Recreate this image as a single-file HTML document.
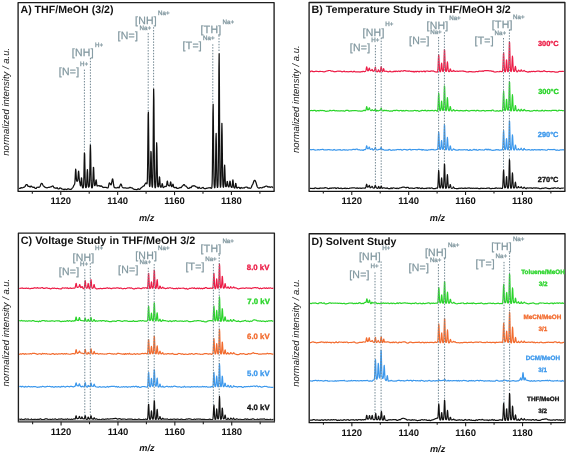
<!DOCTYPE html>
<html><head><meta charset="utf-8"><style>
html,body{margin:0;padding:0;background:#fff;width:567px;height:454px;overflow:hidden}
svg{display:block;text-rendering:geometricPrecision}
</style></head><body>
<svg width="567" height="454" viewBox="0 0 567 454"><path d="M18.1,191.1 L18.1,2.55 L274.1,2.55 L274.1,191.1" fill="none" stroke="#1e1e1e" stroke-width="1.35" stroke-linejoin="round"/>
<line x1="17.5" y1="191.45" x2="274.70000000000005" y2="191.45" stroke="#141414" stroke-width="1.2"/>
<line x1="32.32" y1="191.1" x2="32.32" y2="193.7" stroke="#1e1e1e" stroke-width="1.1"/>
<line x1="60.77" y1="191.1" x2="60.77" y2="195.1" stroke="#1e1e1e" stroke-width="1.1"/>
<text x="60.77" y="204.4" text-anchor="middle" font-family='"Liberation Sans", Arial, sans-serif' font-weight="bold" font-size="9.5" fill="#111">1120</text>
<line x1="89.21" y1="191.1" x2="89.21" y2="193.7" stroke="#1e1e1e" stroke-width="1.1"/>
<line x1="117.66" y1="191.1" x2="117.66" y2="195.1" stroke="#1e1e1e" stroke-width="1.1"/>
<text x="117.66" y="204.4" text-anchor="middle" font-family='"Liberation Sans", Arial, sans-serif' font-weight="bold" font-size="9.5" fill="#111">1140</text>
<line x1="146.10" y1="191.1" x2="146.10" y2="193.7" stroke="#1e1e1e" stroke-width="1.1"/>
<line x1="174.54" y1="191.1" x2="174.54" y2="195.1" stroke="#1e1e1e" stroke-width="1.1"/>
<text x="174.54" y="204.4" text-anchor="middle" font-family='"Liberation Sans", Arial, sans-serif' font-weight="bold" font-size="9.5" fill="#111">1160</text>
<line x1="202.99" y1="191.1" x2="202.99" y2="193.7" stroke="#1e1e1e" stroke-width="1.1"/>
<line x1="231.43" y1="191.1" x2="231.43" y2="195.1" stroke="#1e1e1e" stroke-width="1.1"/>
<text x="231.43" y="204.4" text-anchor="middle" font-family='"Liberation Sans", Arial, sans-serif' font-weight="bold" font-size="9.5" fill="#111">1180</text>
<line x1="259.88" y1="191.1" x2="259.88" y2="193.7" stroke="#1e1e1e" stroke-width="1.1"/>
<text x="146.60" y="220.7" text-anchor="middle" font-family='"Liberation Sans", Arial, sans-serif' font-weight="bold" font-style="italic" font-size="9.2" fill="#111">m/z</text>
<text x="20.50" y="13.45" font-family='"Liberation Sans", Arial, sans-serif' font-weight="bold" font-size="10.6" fill="#111">A) THF/MeOH (3/2)</text>
<text transform="translate(8.6,101.8) rotate(-90)" text-anchor="middle" font-family='"Liberation Sans", Arial, sans-serif' font-style="italic" font-size="9.5" fill="#222">normalized intensity / a.u.</text>
<text x="58.80" y="74.9" font-family='"Liberation Sans", Arial, sans-serif' font-size="10.5" letter-spacing="0.25" fill="#80979f" stroke="#80979f" stroke-width="0.25">[N=]</text>
<text x="80.0" y="65.6" font-family='"Liberation Sans", Arial, sans-serif' font-size="6.2" fill="#80979f" stroke="#80979f" stroke-width="0.3">H+</text>
<text x="71.80" y="56.4" font-family='"Liberation Sans", Arial, sans-serif' font-size="10.5" letter-spacing="0.25" fill="#80979f" stroke="#80979f" stroke-width="0.25">[NH]</text>
<text x="95.0" y="46.9" font-family='"Liberation Sans", Arial, sans-serif' font-size="6.2" fill="#80979f" stroke="#80979f" stroke-width="0.3">H+</text>
<text x="117.60" y="38.9" font-family='"Liberation Sans", Arial, sans-serif' font-size="10.5" letter-spacing="0.25" fill="#80979f" stroke="#80979f" stroke-width="0.25">[N=]</text>
<text x="139.6" y="30.4" font-family='"Liberation Sans", Arial, sans-serif' font-size="6.2" fill="#80979f" stroke="#80979f" stroke-width="0.3">Na+</text>
<text x="135.00" y="24.0" font-family='"Liberation Sans", Arial, sans-serif' font-size="10.5" letter-spacing="0.25" fill="#80979f" stroke="#80979f" stroke-width="0.25">[NH]</text>
<text x="158.1" y="15.0" font-family='"Liberation Sans", Arial, sans-serif' font-size="6.2" fill="#80979f" stroke="#80979f" stroke-width="0.3">Na+</text>
<text x="182.60" y="49.4" font-family='"Liberation Sans", Arial, sans-serif' font-size="10.5" letter-spacing="0.25" fill="#80979f" stroke="#80979f" stroke-width="0.25">[T=]</text>
<text x="203.0" y="39.9" font-family='"Liberation Sans", Arial, sans-serif' font-size="6.2" fill="#80979f" stroke="#80979f" stroke-width="0.3">Na+</text>
<text x="200.60" y="32.7" font-family='"Liberation Sans", Arial, sans-serif' font-size="10.5" letter-spacing="0.25" fill="#80979f" stroke="#80979f" stroke-width="0.25">[TH]</text>
<text x="222.6" y="24.0" font-family='"Liberation Sans", Arial, sans-serif' font-size="6.2" fill="#80979f" stroke="#80979f" stroke-width="0.3">Na+</text>
<polyline fill="none" stroke="#111111" stroke-width="1.25" stroke-linejoin="round" points="18.90,188.35 19.15,188.47 19.40,188.46 19.65,188.43 19.90,188.40 20.15,188.39 20.40,188.24 20.65,187.98 20.90,187.74 21.15,187.65 21.40,187.71 21.65,187.80 21.90,187.88 22.15,187.87 22.40,187.81 22.65,187.72 22.90,187.62 23.15,187.51 23.40,187.45 23.65,187.40 23.90,187.31 24.15,187.13 24.40,186.94 24.65,186.76 24.90,186.57 25.15,186.33 25.40,185.89 25.65,185.34 25.90,184.86 26.15,184.65 26.40,184.58 26.65,184.56 26.90,184.59 27.15,184.70 27.40,185.07 27.65,185.64 27.90,186.17 28.15,186.45 28.40,186.49 28.65,186.42 28.90,186.35 29.15,186.39 29.40,186.55 29.65,186.77 29.90,186.95 30.15,187.02 30.40,186.82 30.65,186.46 30.90,186.14 31.15,186.06 31.40,186.22 31.65,186.48 31.90,186.72 32.15,186.83 32.40,186.97 32.65,187.16 32.90,187.35 33.15,187.45 33.40,187.37 33.65,187.20 33.90,187.04 34.15,187.05 34.40,187.33 34.65,187.75 34.90,188.14 35.15,188.30 35.40,188.34 35.65,188.37 35.90,188.39 36.15,188.41 36.40,188.19 36.65,187.77 36.90,187.40 37.15,187.28 37.40,187.27 37.65,187.25 37.90,187.21 38.15,187.16 38.40,187.22 38.65,187.35 38.90,187.40 39.15,187.24 39.40,187.05 39.65,186.88 39.90,186.63 40.15,186.21 40.40,185.56 40.65,184.81 40.90,184.14 41.15,183.73 41.40,183.48 41.65,183.34 41.90,183.36 42.15,183.57 42.40,183.98 42.65,184.50 42.90,185.06 43.15,185.56 43.40,185.89 43.65,186.08 43.90,186.24 44.15,186.45 44.40,186.71 44.65,186.97 44.90,187.16 45.15,187.27 45.40,187.39 45.65,187.54 45.90,187.66 46.15,187.71 46.40,187.74 46.65,187.78 46.90,187.81 47.15,187.82 47.40,187.75 47.65,187.61 47.90,187.49 48.15,187.44 48.40,187.43 48.65,187.41 48.90,187.38 49.15,187.34 49.40,187.28 49.65,187.21 49.90,187.13 50.15,187.03 50.40,186.99 50.65,186.98 50.90,186.96 51.15,186.85 51.40,186.68 51.65,186.48 51.90,186.32 52.15,186.24 52.40,186.14 52.65,186.04 52.90,185.98 53.15,186.05 53.40,186.42 53.65,186.99 53.90,187.52 54.15,187.80 54.40,187.87 54.65,187.88 54.90,187.88 55.15,187.95 55.40,188.06 55.65,188.17 55.90,188.26 56.15,188.30 56.40,188.19 56.65,187.98 56.90,187.78 57.15,187.73 57.40,187.97 57.65,188.38 57.90,188.75 58.15,188.87 58.40,188.85 58.65,188.79 58.90,188.75 59.15,188.75 59.40,188.56 59.65,188.22 59.90,187.92 60.15,187.86 60.40,187.96 60.65,188.11 60.90,188.25 61.15,188.34 61.40,188.50 61.65,188.75 61.90,188.97 62.15,189.08 62.40,189.12 62.65,189.16 62.90,189.20 63.15,189.24 63.40,189.34 63.65,189.49 63.90,189.62 64.15,189.67 64.40,189.54 64.65,189.29 64.90,189.07 65.15,189.01 65.40,189.13 65.65,189.33 65.90,189.51 66.15,189.56 66.40,189.51 66.65,189.42 66.90,189.33 67.15,189.30 67.40,189.18 67.65,188.98 67.90,188.80 68.15,188.74 68.40,188.82 68.65,188.95 68.90,189.07 69.15,189.11 69.40,189.18 69.65,189.33 69.90,189.45 70.15,189.48 70.40,189.46 70.65,189.42 70.90,189.37 71.15,189.31 71.40,189.12 71.65,188.82 71.90,188.49 72.15,188.20 72.40,187.93 72.65,187.63 72.90,187.29 73.15,186.92 73.40,186.40 73.65,185.80 73.90,185.25 74.15,184.90 74.40,184.61 74.65,184.03 74.90,182.27 75.15,178.25 75.40,172.67 75.65,169.04 75.90,170.37 76.15,175.05 76.40,179.08 76.65,180.84 76.90,181.19 77.15,181.20 77.40,181.12 77.65,180.65 77.90,179.02 78.15,175.68 78.40,172.05 78.65,171.21 78.90,174.09 79.15,177.99 79.40,180.43 79.65,181.62 79.90,182.77 80.15,184.26 80.40,185.57 80.65,185.84 80.90,184.19 81.15,180.78 81.40,177.86 81.65,178.20 81.90,181.55 82.15,185.11 82.40,187.11 82.65,187.81 82.90,187.96 83.15,187.86 83.40,187.14 83.65,184.18 83.90,176.18 84.15,163.19 84.40,152.80 84.65,154.25 84.90,166.16 85.15,178.49 85.40,185.19 85.65,187.34 85.90,187.69 86.15,187.58 86.40,186.88 86.65,184.49 86.90,179.29 87.15,172.70 87.40,169.53 87.65,172.77 87.90,179.38 88.15,184.52 88.40,186.70 88.65,187.12 88.90,186.99 89.15,186.65 89.40,185.11 89.65,179.65 89.90,167.54 90.15,152.06 90.40,144.71 90.65,152.53 90.90,168.25 91.15,180.40 91.40,185.87 91.65,187.50 91.90,187.83 92.15,187.77 92.40,187.18 92.65,185.26 92.90,180.57 93.15,173.23 93.40,167.30 93.65,167.84 93.90,174.19 94.15,180.87 94.40,184.47 94.65,185.52 94.90,185.54 95.15,185.18 95.40,184.28 95.65,182.53 95.90,180.56 96.15,179.90 96.40,181.36 96.65,183.67 96.90,185.31 97.15,185.94 97.40,186.01 97.65,185.92 97.90,185.83 98.15,185.80 98.40,185.75 98.65,185.67 98.90,185.60 99.15,185.62 99.40,185.77 99.65,185.99 99.90,186.21 100.15,186.32 100.40,186.22 100.65,185.99 100.90,185.79 101.15,185.79 101.40,185.97 101.65,186.20 101.90,186.42 102.15,186.56 102.40,186.78 102.65,187.09 102.90,187.37 103.15,187.52 103.40,187.49 103.65,187.39 103.90,187.30 104.15,187.32 104.40,187.36 104.65,187.37 104.90,187.38 105.15,187.42 105.40,187.43 105.65,187.39 105.90,187.35 106.15,187.37 106.40,187.49 106.65,187.65 106.90,187.78 107.15,187.81 107.40,187.87 107.65,187.95 107.90,187.90 108.15,187.56 108.40,186.72 108.65,185.51 108.90,184.27 109.15,183.35 109.40,182.96 109.65,183.03 109.90,183.39 110.15,183.79 110.40,184.22 110.65,184.64 110.90,184.85 111.15,184.71 111.40,184.10 111.65,183.01 111.90,181.56 112.15,180.11 112.40,179.09 112.65,178.92 112.90,179.74 113.15,181.33 113.40,183.23 113.65,184.99 113.90,186.32 114.15,187.18 114.40,187.58 114.65,187.69 114.90,187.69 115.15,187.73 115.40,187.78 115.65,187.84 115.90,187.89 116.15,187.91 116.40,187.89 116.65,187.84 116.90,187.79 117.15,187.78 117.40,187.68 117.65,187.49 117.90,187.31 118.15,187.24 118.40,187.42 118.65,187.73 118.90,187.91 119.15,187.75 119.40,187.26 119.65,186.60 119.90,185.89 120.15,185.26 120.40,184.67 120.65,184.20 120.90,184.01 121.15,184.19 121.40,184.73 121.65,185.44 121.90,186.17 122.15,186.74 122.40,187.16 122.65,187.46 122.90,187.66 123.15,187.78 123.40,187.81 123.65,187.79 123.90,187.76 124.15,187.76 124.40,187.77 124.65,187.77 124.90,187.77 125.15,187.78 125.40,187.84 125.65,187.93 125.90,188.02 126.15,188.04 126.40,188.06 126.65,188.10 126.90,188.13 127.15,188.13 127.40,188.12 127.65,188.10 127.90,188.09 128.15,188.08 128.40,188.03 128.65,187.96 128.90,187.89 129.15,187.87 129.40,187.76 129.65,187.56 129.90,187.38 130.15,187.35 130.40,187.44 130.65,187.58 130.90,187.71 131.15,187.78 131.40,187.82 131.65,187.85 131.90,187.88 132.15,187.93 132.40,188.11 132.65,188.38 132.90,188.63 133.15,188.75 133.40,188.89 133.65,189.09 133.90,189.27 134.15,189.37 134.40,189.40 134.65,189.41 134.90,189.42 135.15,189.45 135.40,189.48 135.65,189.50 135.90,189.52 136.15,189.54 136.40,189.55 136.65,189.57 136.90,189.58 137.15,189.57 137.40,189.40 137.65,189.11 137.90,188.84 138.15,188.75 138.40,188.89 138.65,189.16 138.90,189.40 139.15,189.44 139.40,189.35 139.65,189.22 139.90,189.08 140.15,188.99 140.40,188.74 140.65,188.35 140.90,187.98 141.15,187.77 141.40,187.62 141.65,187.43 141.90,187.23 142.15,187.03 142.40,186.82 142.65,186.59 142.90,186.34 143.15,186.08 143.40,186.02 143.65,186.09 143.90,186.10 144.15,185.87 144.40,185.39 144.65,184.80 144.90,184.24 145.15,183.86 145.40,183.55 145.65,183.26 145.90,183.05 146.15,182.96 146.40,183.11 146.65,183.46 146.90,183.72 147.15,183.00 147.40,178.43 147.65,164.44 147.90,138.98 148.15,114.66 148.40,112.16 148.65,134.17 148.90,161.47 149.15,178.41 149.40,184.88 149.65,186.50 149.90,186.21 150.15,183.31 150.40,175.24 150.65,162.04 150.90,151.45 151.15,152.95 151.40,165.17 151.65,177.82 151.90,184.74 152.15,187.05 152.40,187.16 152.65,184.61 152.90,174.32 153.15,149.01 153.40,112.50 153.65,88.96 153.90,100.11 154.15,135.29 154.40,166.67 154.65,182.19 154.90,186.89 155.15,187.77 155.40,187.62 155.65,186.32 155.90,181.54 156.15,170.03 156.40,153.45 156.65,142.75 156.90,147.77 157.15,163.68 157.40,177.80 157.65,184.65 157.90,186.63 158.15,186.96 158.40,186.91 158.65,186.19 158.90,183.93 159.15,180.04 159.40,176.89 159.65,177.31 159.90,180.90 160.15,184.63 160.40,186.61 160.65,187.18 160.90,187.21 161.15,187.12 161.40,186.86 161.65,186.13 161.90,184.87 162.15,183.69 162.40,183.74 162.65,185.10 162.90,186.65 163.15,187.47 163.40,187.57 163.65,187.38 163.90,187.14 164.15,187.01 164.40,186.84 164.65,186.61 164.90,186.40 165.15,186.28 165.40,186.33 165.65,186.46 165.90,186.56 166.15,186.49 166.40,186.15 166.65,185.18 166.90,183.38 167.15,181.59 167.40,181.14 167.65,182.32 167.90,183.93 168.15,185.04 168.40,185.52 168.65,185.66 168.90,185.72 169.15,185.77 169.40,185.84 169.65,185.83 169.90,185.44 170.15,184.26 170.40,182.67 170.65,181.84 170.90,182.71 171.15,184.61 171.40,186.08 171.65,186.63 171.90,186.61 172.15,186.35 172.40,185.79 172.65,184.86 172.90,184.14 173.15,184.38 173.40,185.55 173.65,186.76 173.90,187.43 174.15,187.68 174.40,187.71 174.65,187.68 174.90,187.64 175.15,187.65 175.40,187.58 175.65,187.44 175.90,187.33 176.15,187.31 176.40,187.56 176.65,187.97 176.90,188.34 177.15,188.47 177.40,188.44 177.65,188.38 177.90,188.32 178.15,188.31 178.40,188.25 178.65,188.12 178.90,188.00 179.15,187.95 179.40,187.86 179.65,187.69 179.90,187.53 180.15,187.44 180.40,187.49 180.65,187.61 180.90,187.67 181.15,187.56 181.40,187.28 181.65,186.91 181.90,186.52 182.15,186.19 182.40,185.92 182.65,185.70 182.90,185.49 183.15,185.26 183.40,184.98 183.65,184.73 183.90,184.57 184.15,184.58 184.40,184.79 184.65,185.14 184.90,185.53 185.15,185.86 185.40,186.00 185.65,186.02 185.90,186.06 186.15,186.24 186.40,186.55 186.65,186.86 186.90,187.13 187.15,187.30 187.40,187.59 187.65,187.99 187.90,188.33 188.15,188.46 188.40,188.44 188.65,188.40 188.90,188.35 189.15,188.32 189.40,188.13 189.65,187.81 189.90,187.50 190.15,187.36 190.40,187.44 190.65,187.61 190.90,187.73 191.15,187.64 191.40,187.29 191.65,186.80 191.90,186.32 192.15,186.00 192.40,185.94 192.65,186.02 192.90,186.10 193.15,186.03 193.40,185.88 193.65,185.74 193.90,185.69 194.15,185.77 194.40,185.84 194.65,185.89 194.90,185.99 195.15,186.21 195.40,186.43 195.65,186.60 195.90,186.76 196.15,186.94 196.40,187.04 196.65,187.05 196.90,187.04 197.15,187.09 197.40,187.40 197.65,187.87 197.90,188.28 198.15,188.40 198.40,188.15 198.65,187.72 198.90,187.32 199.15,187.19 199.40,187.41 199.65,187.78 199.90,188.12 200.15,188.22 200.40,188.25 200.65,188.32 200.90,188.38 201.15,188.39 201.40,188.28 201.65,188.09 201.90,187.92 202.15,187.88 202.40,187.78 202.65,187.60 202.90,187.44 203.15,187.42 203.40,187.65 203.65,188.03 203.90,188.37 204.15,188.50 204.40,188.56 204.65,188.64 204.90,188.71 205.15,188.75 205.40,188.69 205.65,188.57 205.90,188.47 206.15,188.44 206.40,188.39 206.65,188.30 206.90,188.21 207.15,188.18 207.40,188.14 207.65,188.07 207.90,188.00 208.15,187.97 208.40,187.95 208.65,187.93 208.90,187.90 209.15,187.88 209.40,187.83 209.65,187.75 209.90,187.68 210.15,187.66 210.40,187.79 210.65,188.02 210.90,188.22 211.15,188.28 211.40,188.20 211.65,187.97 211.90,187.05 212.15,182.94 212.40,169.70 212.65,143.14 212.90,113.51 213.15,104.25 213.40,124.16 213.65,154.87 213.90,176.09 214.15,184.76 214.40,187.16 214.65,187.73 214.90,187.48 215.15,184.90 215.40,176.23 215.65,158.86 215.90,139.52 216.15,133.46 216.40,146.43 216.65,166.47 216.90,180.34 217.15,185.98 217.40,187.35 217.65,187.32 217.90,185.93 218.15,179.33 218.40,158.25 218.65,115.86 218.90,68.49 219.15,53.70 219.40,85.87 219.65,135.52 219.90,169.86 220.15,183.87 220.40,187.21 220.65,186.96 220.90,184.32 221.15,175.98 221.40,157.78 221.65,134.53 221.90,123.26 222.15,134.64 222.40,158.01 222.65,176.33 222.90,184.58 223.15,186.88 223.40,187.24 223.65,186.47 223.90,183.11 224.15,175.91 224.40,167.71 224.65,165.02 224.90,170.31 225.15,178.63 225.40,184.25 225.65,186.33 225.90,186.66 226.15,186.56 226.40,186.15 226.65,185.09 226.90,183.28 227.15,181.59 227.40,181.50 227.65,183.14 227.90,185.11 228.15,186.28 228.40,186.73 228.65,186.91 228.90,186.90 229.15,186.43 229.40,185.07 229.65,182.85 229.90,181.08 230.15,181.40 230.40,183.41 230.65,185.40 230.90,186.43 231.15,186.83 231.40,187.15 231.65,187.45 231.90,187.47 232.15,186.58 232.40,184.30 232.65,181.34 232.90,179.88 233.15,181.31 233.40,184.21 233.65,186.42 233.90,187.38 234.15,187.67 234.40,187.87 234.65,188.02 234.90,187.79 235.15,186.73 235.40,184.87 235.65,183.43 235.90,183.59 236.15,185.07 236.40,186.64 236.65,187.60 236.90,188.04 237.15,188.16 237.40,187.99 237.65,187.67 237.90,187.40 238.15,187.31 238.40,187.35 238.65,187.40 238.90,187.45 239.15,187.48 239.40,187.70 239.65,188.07 239.90,188.41 240.15,188.51 240.40,188.30 240.65,187.94 240.90,187.61 241.15,187.50 241.40,187.64 241.65,187.90 241.90,188.12 242.15,188.17 242.40,188.09 242.65,187.98 242.90,187.87 243.15,187.82 243.40,187.86 243.65,187.94 243.90,188.02 244.15,188.02 244.40,187.86 244.65,187.59 244.90,187.36 245.15,187.28 245.40,187.25 245.65,187.23 245.90,187.22 246.15,187.21 246.40,187.21 246.65,187.19 246.90,187.19 247.15,187.20 247.40,187.39 247.65,187.71 247.90,187.99 248.15,188.10 248.40,188.05 248.65,187.95 248.90,187.85 249.15,187.84 249.40,187.96 249.65,188.13 249.90,188.28 250.15,188.30 250.40,188.22 250.65,188.10 250.90,187.93 251.15,187.72 251.40,187.25 251.65,186.54 251.90,185.80 252.15,185.22 252.40,184.79 252.65,184.38 252.90,183.92 253.15,183.31 253.40,182.54 253.65,181.72 253.90,181.03 254.15,180.59 254.40,180.36 254.65,180.28 254.90,180.37 255.15,180.64 255.40,181.07 255.65,181.63 255.90,182.26 256.15,182.93 256.40,183.83 256.65,184.87 256.90,185.82 257.15,186.47 257.40,186.90 257.65,187.23 257.90,187.50 258.15,187.72 258.40,187.90 258.65,188.05 258.90,188.14 259.15,188.19 259.40,188.08 259.65,187.84 259.90,187.61 260.15,187.53 260.40,187.58 260.65,187.69 260.90,187.78 261.15,187.78 261.40,187.79 261.65,187.83 261.90,187.86 262.15,187.84 262.40,187.68 262.65,187.43 262.90,187.20 263.15,187.09 263.40,187.10 263.65,187.14 263.90,187.18 264.15,187.16 264.40,187.00 264.65,186.78 264.90,186.58 265.15,186.48 265.40,186.39 265.65,186.27 265.90,186.17 266.15,186.11 266.40,186.13 266.65,186.19 266.90,186.25 267.15,186.26 267.40,186.42 267.65,186.73 267.90,187.00 268.15,187.09 268.40,187.01 268.65,186.86 268.90,186.73 269.15,186.71 269.40,186.85 269.65,187.07 269.90,187.27 270.15,187.36 270.40,187.28 270.65,187.09 270.90,186.93 271.15,186.92 271.40,186.92 271.65,186.88 271.90,186.85 272.15,186.88 272.40,187.08 272.65,187.39 272.90,187.66 273.15,187.78"/>
<path d="M309.1,191.0 L309.1,2.5 L564.9,2.5 L564.9,191.0" fill="none" stroke="#1e1e1e" stroke-width="1.35" stroke-linejoin="round"/>
<line x1="308.5" y1="191.35" x2="565.5" y2="191.35" stroke="#141414" stroke-width="1.2"/>
<line x1="323.32" y1="191.0" x2="323.32" y2="193.6" stroke="#1e1e1e" stroke-width="1.1"/>
<line x1="351.77" y1="191.0" x2="351.77" y2="195.0" stroke="#1e1e1e" stroke-width="1.1"/>
<text x="351.77" y="204.3" text-anchor="middle" font-family='"Liberation Sans", Arial, sans-serif' font-weight="bold" font-size="9.5" fill="#111">1120</text>
<line x1="380.21" y1="191.0" x2="380.21" y2="193.6" stroke="#1e1e1e" stroke-width="1.1"/>
<line x1="408.66" y1="191.0" x2="408.66" y2="195.0" stroke="#1e1e1e" stroke-width="1.1"/>
<text x="408.66" y="204.3" text-anchor="middle" font-family='"Liberation Sans", Arial, sans-serif' font-weight="bold" font-size="9.5" fill="#111">1140</text>
<line x1="437.10" y1="191.0" x2="437.10" y2="193.6" stroke="#1e1e1e" stroke-width="1.1"/>
<line x1="465.54" y1="191.0" x2="465.54" y2="195.0" stroke="#1e1e1e" stroke-width="1.1"/>
<text x="465.54" y="204.3" text-anchor="middle" font-family='"Liberation Sans", Arial, sans-serif' font-weight="bold" font-size="9.5" fill="#111">1160</text>
<line x1="493.99" y1="191.0" x2="493.99" y2="193.6" stroke="#1e1e1e" stroke-width="1.1"/>
<line x1="522.43" y1="191.0" x2="522.43" y2="195.0" stroke="#1e1e1e" stroke-width="1.1"/>
<text x="522.43" y="204.3" text-anchor="middle" font-family='"Liberation Sans", Arial, sans-serif' font-weight="bold" font-size="9.5" fill="#111">1180</text>
<line x1="550.88" y1="191.0" x2="550.88" y2="193.6" stroke="#1e1e1e" stroke-width="1.1"/>
<text x="437.50" y="220.6" text-anchor="middle" font-family='"Liberation Sans", Arial, sans-serif' font-weight="bold" font-style="italic" font-size="9.2" fill="#111">m/z</text>
<text x="311.50" y="13.40" font-family='"Liberation Sans", Arial, sans-serif' font-weight="bold" font-size="10.72" fill="#111">B) Temperature Study in THF/MeOH 3/2</text>
<text transform="translate(299.3,99.2) rotate(-90)" text-anchor="middle" font-family='"Liberation Sans", Arial, sans-serif' font-style="italic" font-size="9.5" fill="#222">normalized intensity / a.u.</text>
<text x="349.80" y="51.0" font-family='"Liberation Sans", Arial, sans-serif' font-size="10.5" letter-spacing="0.25" fill="#80979f" stroke="#80979f" stroke-width="0.25">[N=]</text>
<text x="371.2" y="41.5" font-family='"Liberation Sans", Arial, sans-serif' font-size="6.2" fill="#80979f" stroke="#80979f" stroke-width="0.3">H+</text>
<text x="362.60" y="36.0" font-family='"Liberation Sans", Arial, sans-serif' font-size="10.5" letter-spacing="0.25" fill="#80979f" stroke="#80979f" stroke-width="0.25">[NH]</text>
<text x="385.3" y="26.4" font-family='"Liberation Sans", Arial, sans-serif' font-size="6.2" fill="#80979f" stroke="#80979f" stroke-width="0.3">H+</text>
<text x="409.10" y="43.7" font-family='"Liberation Sans", Arial, sans-serif' font-size="10.5" letter-spacing="0.25" fill="#80979f" stroke="#80979f" stroke-width="0.25">[N=]</text>
<text x="430.2" y="34.3" font-family='"Liberation Sans", Arial, sans-serif' font-size="6.2" fill="#80979f" stroke="#80979f" stroke-width="0.3">Na+</text>
<text x="426.50" y="29.0" font-family='"Liberation Sans", Arial, sans-serif' font-size="10.5" letter-spacing="0.25" fill="#80979f" stroke="#80979f" stroke-width="0.25">[NH]</text>
<text x="449.2" y="20.0" font-family='"Liberation Sans", Arial, sans-serif' font-size="6.2" fill="#80979f" stroke="#80979f" stroke-width="0.3">Na+</text>
<text x="474.50" y="43.9" font-family='"Liberation Sans", Arial, sans-serif' font-size="10.5" letter-spacing="0.25" fill="#80979f" stroke="#80979f" stroke-width="0.25">[T=]</text>
<text x="494.6" y="34.9" font-family='"Liberation Sans", Arial, sans-serif' font-size="6.2" fill="#80979f" stroke="#80979f" stroke-width="0.3">Na+</text>
<text x="491.80" y="27.5" font-family='"Liberation Sans", Arial, sans-serif' font-size="10.5" letter-spacing="0.25" fill="#80979f" stroke="#80979f" stroke-width="0.25">[TH]</text>
<text x="513.1" y="18.5" font-family='"Liberation Sans", Arial, sans-serif' font-size="6.2" fill="#80979f" stroke="#80979f" stroke-width="0.3">Na+</text>
<polyline fill="none" stroke="#ec1c46" stroke-width="1.2" stroke-linejoin="round" points="309.90,71.87 310.15,71.87 310.40,71.70 310.65,71.42 310.90,71.16 311.15,71.07 311.40,71.07 311.65,71.08 311.90,71.08 312.15,71.08 312.40,71.21 312.65,71.44 312.90,71.65 313.15,71.71 313.40,71.68 313.65,71.64 313.90,71.60 314.15,71.58 314.40,71.56 314.65,71.53 314.90,71.50 315.15,71.49 315.40,71.42 315.65,71.30 315.90,71.20 316.15,71.17 316.40,71.23 316.65,71.33 316.90,71.42 317.15,71.46 317.40,71.47 317.65,71.49 317.90,71.50 318.15,71.52 318.40,71.53 318.65,71.54 318.90,71.55 319.15,71.56 319.40,71.50 319.65,71.37 319.90,71.27 320.15,71.24 320.40,71.30 320.65,71.40 320.90,71.49 321.15,71.51 321.40,71.51 321.65,71.50 321.90,71.48 322.15,71.47 322.40,71.53 322.65,71.62 322.90,71.70 323.15,71.71 323.40,71.74 323.65,71.80 323.90,71.85 324.15,71.85 324.40,71.81 324.65,71.76 324.90,71.71 325.15,71.67 325.40,71.56 325.65,71.39 325.90,71.23 326.15,71.16 326.40,71.11 326.65,71.04 326.90,70.98 327.15,70.94 327.40,70.88 327.65,70.80 327.90,70.73 328.15,70.70 328.40,70.65 328.65,70.57 328.90,70.50 329.15,70.49 329.40,70.49 329.65,70.51 329.90,70.52 330.15,70.55 330.40,70.65 330.65,70.82 330.90,70.98 331.15,71.05 331.40,71.06 331.65,71.05 331.90,71.04 332.15,71.06 332.40,71.11 332.65,71.16 332.90,71.21 333.15,71.25 333.40,71.37 333.65,71.56 333.90,71.73 334.15,71.79 334.40,71.74 334.65,71.64 334.90,71.55 335.15,71.52 335.40,71.54 335.65,71.55 335.90,71.57 336.15,71.57 336.40,71.51 336.65,71.41 336.90,71.31 337.15,71.27 337.40,71.23 337.65,71.16 337.90,71.09 338.15,71.07 338.40,71.12 338.65,71.21 338.90,71.29 339.15,71.31 339.40,71.26 339.65,71.19 339.90,71.13 340.15,71.11 340.40,71.17 340.65,71.29 340.90,71.39 341.15,71.42 341.40,71.51 341.65,71.66 341.90,71.80 342.15,71.84 342.40,71.78 342.65,71.68 342.90,71.58 343.15,71.55 343.40,71.46 343.65,71.31 343.90,71.17 344.15,71.13 344.40,71.27 344.65,71.50 344.90,71.71 345.15,71.79 345.40,71.77 345.65,71.75 345.90,71.72 346.15,71.72 346.40,71.71 346.65,71.69 346.90,71.68 347.15,71.67 347.40,71.71 347.65,71.76 347.90,71.81 348.15,71.82 348.40,71.79 348.65,71.74 348.90,71.69 349.15,71.67 349.40,71.67 349.65,71.67 349.90,71.67 350.15,71.66 350.40,71.57 350.65,71.42 350.90,71.29 351.15,71.25 351.40,71.37 351.65,71.57 351.90,71.75 352.15,71.81 352.40,71.82 352.65,71.82 352.90,71.82 353.15,71.83 353.40,71.70 353.65,71.46 353.90,71.25 354.15,71.20 354.40,71.33 354.65,71.55 354.90,71.75 355.15,71.83 355.40,71.85 355.65,71.87 355.90,71.89 356.15,71.91 356.40,71.89 356.65,71.83 356.90,71.78 357.15,71.78 357.40,71.80 357.65,71.84 357.90,71.87 358.15,71.88 358.40,71.88 358.65,71.86 358.90,71.84 359.15,71.83 359.40,71.90 359.65,72.02 359.90,72.12 360.15,72.14 360.40,72.03 360.65,71.86 360.90,71.71 361.15,71.64 361.40,71.66 361.65,71.74 361.90,71.80 362.15,71.79 362.40,71.66 362.65,71.48 362.90,71.31 363.15,71.24 363.40,71.31 363.65,71.45 363.90,71.58 364.15,71.60 364.40,71.58 364.65,71.55 364.90,71.53 365.15,71.49 365.40,71.36 365.65,71.07 365.90,70.49 366.15,69.39 366.40,67.89 366.65,66.92 366.90,67.33 367.15,68.69 367.40,69.96 367.65,70.64 367.90,70.88 368.15,70.87 368.40,70.64 368.65,70.07 368.90,69.12 369.15,68.25 369.40,68.12 369.65,68.82 369.90,69.72 370.15,70.31 370.40,70.53 370.65,70.56 370.90,70.53 371.15,70.50 371.40,70.35 371.65,69.97 371.90,69.52 372.15,69.42 372.40,69.88 372.65,70.59 372.90,71.11 373.15,71.32 373.40,71.28 373.65,71.13 373.90,70.98 374.15,70.89 374.40,70.77 374.65,70.22 374.90,68.99 375.15,67.67 375.40,67.41 375.65,68.46 375.90,69.84 376.15,70.75 376.40,71.25 376.65,71.57 376.90,71.80 377.15,71.88 377.40,71.78 377.65,71.52 377.90,71.06 378.15,70.40 378.40,69.85 378.65,69.86 378.90,70.54 379.15,71.35 379.40,71.83 379.65,71.96 379.90,71.93 380.15,71.78 380.40,71.19 380.65,69.78 380.90,67.78 381.15,66.49 381.40,67.07 381.65,68.92 381.90,70.58 382.15,71.39 382.40,71.62 382.65,71.55 382.90,71.10 383.15,70.15 383.40,69.06 383.65,68.69 383.90,69.36 384.15,70.44 384.40,71.13 384.65,71.33 384.90,71.32 385.15,71.29 385.40,71.27 385.65,71.23 385.90,71.19 386.15,71.18 386.40,71.24 386.65,71.34 386.90,71.43 387.15,71.46 387.40,71.55 387.65,71.69 387.90,71.82 388.15,71.87 388.40,71.82 388.65,71.73 388.90,71.65 389.15,71.62 389.40,71.53 389.65,71.36 389.90,71.20 390.15,71.16 390.40,71.30 390.65,71.54 390.90,71.75 391.15,71.82 391.40,71.80 391.65,71.76 391.90,71.73 392.15,71.71 392.40,71.74 392.65,71.79 392.90,71.83 393.15,71.84 393.40,71.69 393.65,71.45 393.90,71.24 394.15,71.17 394.40,71.26 394.65,71.44 394.90,71.59 395.15,71.64 395.40,71.51 395.65,71.28 395.90,71.08 396.15,71.02 396.40,71.13 396.65,71.33 396.90,71.50 397.15,71.55 397.40,71.48 397.65,71.36 397.90,71.24 398.15,71.20 398.40,71.18 398.65,71.16 398.90,71.13 399.15,71.12 399.40,71.22 399.65,71.41 399.90,71.58 400.15,71.60 400.40,71.43 400.65,71.15 400.90,70.89 401.15,70.79 401.40,70.83 401.65,70.92 401.90,71.01 402.15,71.01 402.40,71.04 402.65,71.11 402.90,71.17 403.15,71.17 403.40,71.03 403.65,70.82 403.90,70.62 404.15,70.56 404.40,70.54 404.65,70.53 404.90,70.53 405.15,70.54 405.40,70.68 405.65,70.92 405.90,71.13 406.15,71.22 406.40,71.17 406.65,71.05 406.90,70.96 407.15,70.95 407.40,71.05 407.65,71.18 407.90,71.31 408.15,71.37 408.40,71.28 408.65,71.10 408.90,70.94 409.15,70.91 409.40,71.00 409.65,71.14 409.90,71.27 410.15,71.33 410.40,71.32 410.65,71.28 410.90,71.25 411.15,71.25 411.40,71.36 411.65,71.54 411.90,71.70 412.15,71.76 412.40,71.66 412.65,71.48 412.90,71.32 413.15,71.28 413.40,71.45 413.65,71.74 413.90,72.00 414.15,72.08 414.40,71.90 414.65,71.61 414.90,71.34 415.15,71.26 415.40,71.39 415.65,71.62 415.90,71.82 416.15,71.88 416.40,71.74 416.65,71.51 416.90,71.30 417.15,71.23 417.40,71.26 417.65,71.33 417.90,71.39 418.15,71.41 418.40,71.50 418.65,71.67 418.90,71.82 419.15,71.86 419.40,71.73 419.65,71.51 419.90,71.31 420.15,71.23 420.40,71.23 420.65,71.23 420.90,71.23 421.15,71.22 421.40,71.31 421.65,71.47 421.90,71.61 422.15,71.65 422.40,71.58 422.65,71.48 422.90,71.39 423.15,71.35 423.40,71.28 423.65,71.17 423.90,71.07 424.15,71.04 424.40,71.21 424.65,71.52 424.90,71.79 425.15,71.87 425.40,71.71 425.65,71.43 425.90,71.18 426.15,71.10 426.40,71.07 426.65,71.03 426.90,70.98 427.15,70.97 427.40,71.01 427.65,71.10 427.90,71.18 428.15,71.20 428.40,71.24 428.65,71.31 428.90,71.38 429.15,71.39 429.40,71.40 429.65,71.43 429.90,71.46 430.15,71.46 430.40,71.34 430.65,71.13 430.90,70.95 431.15,70.89 431.40,70.93 431.65,71.01 431.90,71.09 432.15,71.12 432.40,71.07 432.65,70.99 432.90,70.93 433.15,70.92 433.40,71.03 433.65,71.19 433.90,71.34 434.15,71.41 434.40,71.50 434.65,71.63 434.90,71.76 435.15,71.82 435.40,71.84 435.65,71.87 435.90,71.89 436.15,71.91 436.40,71.96 436.65,72.03 436.90,72.10 437.15,72.12 437.40,72.02 437.65,71.51 437.90,69.66 438.15,65.21 438.40,58.82 438.65,54.69 438.90,56.63 439.15,62.77 439.40,68.23 439.65,70.90 439.90,71.68 440.15,71.80 440.40,71.67 440.65,71.17 440.90,69.76 441.15,67.07 441.40,64.05 441.65,63.02 441.90,64.93 442.15,67.97 442.40,70.16 442.65,71.16 442.90,71.49 443.15,71.50 443.40,71.00 443.65,69.06 443.90,64.04 444.15,56.01 444.40,49.54 444.65,50.32 444.90,57.57 445.15,65.17 445.40,69.45 445.65,71.01 445.90,71.43 446.15,71.46 446.40,71.20 446.65,70.08 446.90,67.36 447.15,63.77 447.40,61.86 447.65,63.41 447.90,66.85 448.15,69.64 448.40,71.01 448.65,71.52 448.90,71.70 449.15,71.71 449.40,71.49 449.65,70.93 449.90,69.97 450.15,69.09 450.40,68.99 450.65,69.75 450.90,70.69 451.15,71.24 451.40,71.36 451.65,71.26 451.90,71.13 452.15,71.08 452.40,71.19 452.65,71.35 452.90,71.34 453.15,71.04 453.40,70.61 453.65,70.41 453.90,70.53 454.15,70.80 454.40,71.05 454.65,71.23 454.90,71.35 455.15,71.39 455.40,71.37 455.65,71.32 455.90,71.28 456.15,71.27 456.40,71.22 456.65,71.10 456.90,71.00 457.15,70.99 457.40,71.11 457.65,71.29 457.90,71.46 458.15,71.52 458.40,71.45 458.65,71.33 458.90,71.21 459.15,71.17 459.40,71.16 459.65,71.13 459.90,71.10 460.15,71.08 460.40,71.07 460.65,71.05 460.90,71.03 461.15,71.01 461.40,71.02 461.65,71.05 461.90,71.07 462.15,71.06 462.40,71.04 462.65,71.00 462.90,70.97 463.15,70.96 463.40,71.05 463.65,71.22 463.90,71.38 464.15,71.43 464.40,71.41 464.65,71.37 464.90,71.34 465.15,71.35 465.40,71.45 465.65,71.62 465.90,71.78 466.15,71.84 466.40,71.86 466.65,71.87 466.90,71.88 467.15,71.90 467.40,71.94 467.65,71.98 467.90,72.03 468.15,72.05 468.40,71.93 468.65,71.71 468.90,71.51 469.15,71.46 469.40,71.52 469.65,71.60 469.90,71.67 470.15,71.70 470.40,71.67 470.65,71.62 470.90,71.57 471.15,71.55 471.40,71.62 471.65,71.73 471.90,71.82 472.15,71.85 472.40,71.85 472.65,71.86 472.90,71.86 473.15,71.86 473.40,71.88 473.65,71.93 473.90,71.98 474.15,71.99 474.40,71.96 474.65,71.93 474.90,71.90 475.15,71.88 475.40,71.79 475.65,71.64 475.90,71.50 476.15,71.45 476.40,71.48 476.65,71.53 476.90,71.57 477.15,71.58 477.40,71.59 477.65,71.61 477.90,71.63 478.15,71.63 478.40,71.52 478.65,71.34 478.90,71.17 479.15,71.10 479.40,71.09 479.65,71.08 479.90,71.07 480.15,71.06 480.40,71.10 480.65,71.20 480.90,71.28 481.15,71.29 481.40,71.21 481.65,71.08 481.90,70.97 482.15,70.92 482.40,71.00 482.65,71.17 482.90,71.32 483.15,71.35 483.40,71.23 483.65,71.04 483.90,70.87 484.15,70.80 484.40,70.75 484.65,70.67 484.90,70.61 485.15,70.57 485.40,70.56 485.65,70.57 485.90,70.57 486.15,70.56 486.40,70.55 486.65,70.55 486.90,70.55 487.15,70.55 487.40,70.54 487.65,70.53 487.90,70.52 488.15,70.53 488.40,70.59 488.65,70.70 488.90,70.80 489.15,70.85 489.40,70.86 489.65,70.86 489.90,70.88 490.15,70.90 490.40,70.91 490.65,70.90 490.90,70.89 491.15,70.92 491.40,71.02 491.65,71.17 491.90,71.31 492.15,71.38 492.40,71.35 492.65,71.25 492.90,71.16 493.15,71.17 493.40,71.33 493.65,71.59 493.90,71.83 494.15,71.92 494.40,71.96 494.65,72.01 494.90,72.04 495.15,72.07 495.40,72.04 495.65,71.98 495.90,71.93 496.15,71.91 496.40,71.87 496.65,71.78 496.90,71.70 497.15,71.68 497.40,71.69 497.65,71.72 497.90,71.74 498.15,71.74 498.40,71.75 498.65,71.77 498.90,71.79 499.15,71.78 499.40,71.68 499.65,71.50 499.90,71.34 500.15,71.29 500.40,71.35 500.65,71.47 500.90,71.57 501.15,71.60 501.40,71.61 501.65,71.64 501.90,71.66 502.15,71.64 502.40,71.39 502.65,70.36 502.90,67.29 503.15,61.31 503.40,54.64 503.65,52.54 503.90,56.99 504.15,63.90 504.40,68.82 504.65,70.99 504.90,71.69 505.15,71.81 505.40,71.56 505.65,70.65 505.90,68.28 506.15,64.18 506.40,60.32 506.65,59.91 506.90,63.35 507.15,67.60 507.40,70.27 507.65,71.35 507.90,71.67 508.15,71.63 508.40,70.96 508.65,68.36 508.90,61.59 509.15,50.71 509.40,41.93 509.65,42.93 509.90,52.69 510.15,62.94 510.40,68.75 510.65,70.89 510.90,71.50 511.15,71.55 511.40,71.04 511.65,69.30 511.90,65.33 512.15,59.79 512.40,56.18 512.65,57.73 512.90,62.91 513.15,67.63 513.40,70.12 513.65,71.09 513.90,71.45 514.15,71.51 514.40,71.25 514.65,70.47 514.90,68.95 515.15,67.17 515.40,66.37 515.65,67.31 515.90,69.13 516.15,70.53 516.40,71.26 516.65,71.61 516.90,71.80 517.15,71.84 517.40,71.76 517.65,71.53 517.90,71.10 518.15,70.59 518.40,70.22 518.65,70.22 518.90,70.49 519.15,70.78 519.40,71.02 519.65,71.18 519.90,71.30 520.15,71.28 520.40,71.12 520.65,70.74 520.90,70.20 521.15,69.86 521.40,70.02 521.65,70.54 521.90,71.01 522.15,71.24 522.40,71.26 522.65,71.20 522.90,71.13 523.15,71.07 523.40,70.98 523.65,70.75 523.90,70.47 524.15,70.40 524.40,70.62 524.65,70.93 524.90,71.12 525.15,71.23 525.40,71.34 525.65,71.44 525.90,71.54 526.15,71.59 526.40,71.63 526.65,71.68 526.90,71.73 527.15,71.75 527.40,71.87 527.65,72.06 527.90,72.22 528.15,72.27 528.40,72.10 528.65,71.82 528.90,71.56 529.15,71.47 529.40,71.57 529.65,71.77 529.90,71.94 530.15,71.98 530.40,71.85 530.65,71.64 530.90,71.45 531.15,71.37 531.40,71.42 531.65,71.51 531.90,71.60 532.15,71.61 532.40,71.56 532.65,71.49 532.90,71.42 533.15,71.39 533.40,71.40 533.65,71.42 533.90,71.43 534.15,71.44 534.40,71.50 534.65,71.59 534.90,71.68 535.15,71.71 535.40,71.65 535.65,71.54 535.90,71.44 536.15,71.41 536.40,71.37 536.65,71.28 536.90,71.20 537.15,71.18 537.40,71.18 537.65,71.17 537.90,71.17 538.15,71.16 538.40,71.14 538.65,71.11 538.90,71.08 539.15,71.06 539.40,71.19 539.65,71.41 539.90,71.61 540.15,71.66 540.40,71.59 540.65,71.50 540.90,71.41 541.15,71.37 541.40,71.40 541.65,71.49 541.90,71.56 542.15,71.57 542.40,71.50 542.65,71.40 542.90,71.32 543.15,71.28 543.40,71.15 543.65,70.94 543.90,70.75 544.15,70.70 544.40,70.83 544.65,71.05 544.90,71.25 545.15,71.33 545.40,71.37 545.65,71.43 545.90,71.49 546.15,71.53 546.40,71.55 546.65,71.56 546.90,71.57 547.15,71.60 547.40,71.58 547.65,71.54 547.90,71.50 548.15,71.50 548.40,71.50 548.65,71.48 548.90,71.46 549.15,71.46 549.40,71.50 549.65,71.55 549.90,71.59 550.15,71.61 550.40,71.69 550.65,71.81 550.90,71.91 551.15,71.95 551.40,71.85 551.65,71.69 551.90,71.54 552.15,71.49 552.40,71.54 552.65,71.63 552.90,71.71 553.15,71.73 553.40,71.73 553.65,71.71 553.90,71.70 554.15,71.70 554.40,71.80 554.65,71.96 554.90,72.10 555.15,72.14 555.40,72.12 555.65,72.07 555.90,72.03 556.15,72.02 556.40,72.05 556.65,72.09 556.90,72.12 557.15,72.13 557.40,72.11 557.65,72.07 557.90,72.04 558.15,72.02 558.40,71.91 558.65,71.73 558.90,71.56 559.15,71.50 559.40,71.47 559.65,71.43 559.90,71.40 560.15,71.38 560.40,71.41 560.65,71.48 560.90,71.53 561.15,71.54 561.40,71.48 561.65,71.38 561.90,71.30 562.15,71.26 562.40,71.28 562.65,71.32 562.90,71.35 563.15,71.36 563.40,71.39 563.65,71.46 563.90,71.53"/>
<polyline fill="none" stroke="#2ad42a" stroke-width="1.2" stroke-linejoin="round" points="309.90,110.72 310.15,110.71 310.40,110.65 310.65,110.56 310.90,110.48 311.15,110.44 311.40,110.47 311.65,110.53 311.90,110.59 312.15,110.61 312.40,110.62 312.65,110.64 312.90,110.66 313.15,110.68 313.40,110.60 313.65,110.45 313.90,110.32 314.15,110.30 314.40,110.33 314.65,110.34 314.90,110.36 315.15,110.39 315.40,110.57 315.65,110.85 315.90,111.10 316.15,111.18 316.40,111.08 316.65,110.88 316.90,110.70 317.15,110.63 317.40,110.60 317.65,110.56 317.90,110.51 318.15,110.48 318.40,110.58 318.65,110.78 318.90,110.95 319.15,110.98 319.40,110.84 319.65,110.63 319.90,110.44 320.15,110.36 320.40,110.41 320.65,110.51 320.90,110.61 321.15,110.64 321.40,110.58 321.65,110.48 321.90,110.40 322.15,110.39 322.40,110.46 322.65,110.55 322.90,110.65 323.15,110.71 323.40,110.67 323.65,110.57 323.90,110.48 324.15,110.49 324.40,110.63 324.65,110.83 324.90,111.01 325.15,111.10 325.40,111.17 325.65,111.27 325.90,111.36 326.15,111.39 326.40,111.32 326.65,111.21 326.90,111.10 327.15,111.05 327.40,111.07 327.65,111.11 327.90,111.15 328.15,111.13 328.40,111.08 328.65,111.02 328.90,110.97 329.15,110.92 329.40,110.77 329.65,110.54 329.90,110.34 330.15,110.26 330.40,110.37 330.65,110.57 330.90,110.76 331.15,110.82 331.40,110.78 331.65,110.72 331.90,110.67 332.15,110.66 332.40,110.61 332.65,110.53 332.90,110.45 333.15,110.44 333.40,110.40 333.65,110.32 333.90,110.25 334.15,110.24 334.40,110.40 334.65,110.68 334.90,110.92 335.15,111.00 335.40,110.93 335.65,110.80 335.90,110.68 336.15,110.64 336.40,110.69 336.65,110.76 336.90,110.83 337.15,110.84 337.40,110.87 337.65,110.92 337.90,110.96 338.15,110.97 338.40,110.94 338.65,110.89 338.90,110.85 339.15,110.84 339.40,110.88 339.65,110.96 339.90,111.03 340.15,111.05 340.40,110.96 340.65,110.80 340.90,110.66 341.15,110.62 341.40,110.71 341.65,110.85 341.90,110.97 342.15,111.01 342.40,110.94 342.65,110.83 342.90,110.73 343.15,110.69 343.40,110.78 343.65,110.93 343.90,111.06 344.15,111.10 344.40,111.08 344.65,111.05 344.90,111.03 345.15,111.01 345.40,110.85 345.65,110.59 345.90,110.36 346.15,110.29 346.40,110.29 346.65,110.31 346.90,110.32 347.15,110.33 347.40,110.35 347.65,110.39 347.90,110.42 348.15,110.45 348.40,110.60 348.65,110.86 348.90,111.09 349.15,111.17 349.40,111.08 349.65,110.92 349.90,110.78 350.15,110.74 350.40,110.79 350.65,110.85 350.90,110.91 351.15,110.93 351.40,110.86 351.65,110.75 351.90,110.65 352.15,110.61 352.40,110.64 352.65,110.70 352.90,110.74 353.15,110.74 353.40,110.71 353.65,110.65 353.90,110.60 354.15,110.58 354.40,110.56 354.65,110.54 354.90,110.52 355.15,110.51 355.40,110.55 355.65,110.62 355.90,110.69 356.15,110.71 356.40,110.72 356.65,110.73 356.90,110.73 357.15,110.75 357.40,110.82 357.65,110.93 357.90,111.03 358.15,111.07 358.40,111.04 358.65,110.98 358.90,110.92 359.15,110.91 359.40,110.96 359.65,111.04 359.90,111.11 360.15,111.13 360.40,111.12 360.65,111.09 360.90,111.06 361.15,111.04 361.40,111.06 361.65,111.09 361.90,111.11 362.15,111.11 362.40,111.03 362.65,110.91 362.90,110.80 363.15,110.74 363.40,110.63 363.65,110.44 363.90,110.26 364.15,110.19 364.40,110.29 364.65,110.47 364.90,110.63 365.15,110.65 365.40,110.60 365.65,110.48 365.90,110.06 366.15,109.06 366.40,107.60 366.65,106.63 366.90,106.98 367.15,108.27 367.40,109.37 367.65,109.83 367.90,109.91 368.15,109.88 368.40,109.78 368.65,109.40 368.90,108.66 369.15,107.94 369.40,107.81 369.65,108.40 369.90,109.17 370.15,109.72 370.40,110.10 370.65,110.41 370.90,110.65 371.15,110.71 371.40,110.53 371.65,110.12 371.90,109.67 372.15,109.55 372.40,109.81 372.65,110.19 372.90,110.44 373.15,110.56 373.40,110.57 373.65,110.52 373.90,110.47 374.15,110.44 374.40,110.46 374.65,110.30 374.90,109.79 375.15,109.15 375.40,109.09 375.65,109.76 375.90,110.58 376.15,111.06 376.40,111.06 376.65,110.80 376.90,110.53 377.15,110.43 377.40,110.54 377.65,110.75 377.90,110.93 378.15,110.97 378.40,110.88 378.65,110.73 378.90,110.60 379.15,110.54 379.40,110.47 379.65,110.37 379.90,110.27 380.15,110.18 380.40,109.97 380.65,109.45 380.90,108.68 381.15,108.17 381.40,108.50 381.65,109.43 381.90,110.26 382.15,110.66 382.40,110.79 382.65,110.85 382.90,110.89 383.15,110.91 383.40,110.76 383.65,110.50 383.90,110.27 384.15,110.20 384.40,110.31 384.65,110.50 384.90,110.67 385.15,110.73 385.40,110.63 385.65,110.45 385.90,110.29 386.15,110.24 386.40,110.38 386.65,110.60 386.90,110.80 387.15,110.87 387.40,110.80 387.65,110.69 387.90,110.58 388.15,110.56 388.40,110.68 388.65,110.87 388.90,111.04 389.15,111.11 389.40,111.14 389.65,111.18 389.90,111.23 390.15,111.24 390.40,111.17 390.65,111.02 390.90,110.89 391.15,110.85 391.40,110.95 391.65,111.11 391.90,111.25 392.15,111.28 392.40,111.15 392.65,110.91 392.90,110.70 393.15,110.62 393.40,110.56 393.65,110.46 393.90,110.38 394.15,110.34 394.40,110.42 394.65,110.57 394.90,110.70 395.15,110.73 395.40,110.61 395.65,110.42 395.90,110.25 396.15,110.19 396.40,110.22 396.65,110.28 396.90,110.33 397.15,110.36 397.40,110.41 397.65,110.49 397.90,110.57 398.15,110.61 398.40,110.67 398.65,110.76 398.90,110.83 399.15,110.87 399.40,110.80 399.65,110.67 399.90,110.55 400.15,110.51 400.40,110.49 400.65,110.46 400.90,110.42 401.15,110.40 401.40,110.55 401.65,110.80 401.90,111.01 402.15,111.06 402.40,110.93 402.65,110.73 402.90,110.54 403.15,110.46 403.40,110.56 403.65,110.74 403.90,110.90 404.15,110.94 404.40,110.91 404.65,110.88 404.90,110.86 405.15,110.85 405.40,110.75 405.65,110.59 405.90,110.46 406.15,110.43 406.40,110.46 406.65,110.52 406.90,110.57 407.15,110.61 407.40,110.65 407.65,110.71 407.90,110.76 408.15,110.79 408.40,110.85 408.65,110.91 408.90,110.97 409.15,111.00 409.40,111.00 409.65,110.99 409.90,110.97 410.15,110.96 410.40,110.94 410.65,110.92 410.90,110.88 411.15,110.85 411.40,110.84 411.65,110.82 411.90,110.81 412.15,110.78 412.40,110.81 412.65,110.88 412.90,110.94 413.15,110.94 413.40,110.84 413.65,110.68 413.90,110.54 414.15,110.50 414.40,110.48 414.65,110.46 414.90,110.45 415.15,110.47 415.40,110.54 415.65,110.67 415.90,110.78 416.15,110.84 416.40,110.79 416.65,110.67 416.90,110.57 417.15,110.56 417.40,110.61 417.65,110.66 417.90,110.71 418.15,110.74 418.40,110.89 418.65,111.12 418.90,111.33 419.15,111.39 419.40,111.30 419.65,111.14 419.90,110.99 420.15,110.93 420.40,110.91 420.65,110.89 420.90,110.87 421.15,110.83 421.40,110.70 421.65,110.49 421.90,110.31 422.15,110.23 422.40,110.28 422.65,110.39 422.90,110.48 423.15,110.51 423.40,110.53 423.65,110.58 423.90,110.62 424.15,110.64 424.40,110.54 424.65,110.38 424.90,110.23 425.15,110.20 425.40,110.33 425.65,110.54 425.90,110.73 426.15,110.81 426.40,110.83 426.65,110.85 426.90,110.86 427.15,110.87 427.40,110.76 427.65,110.58 427.90,110.41 428.15,110.35 428.40,110.44 428.65,110.61 428.90,110.75 429.15,110.78 429.40,110.73 429.65,110.65 429.90,110.58 430.15,110.54 430.40,110.55 430.65,110.60 430.90,110.64 431.15,110.64 431.40,110.57 431.65,110.46 431.90,110.36 432.15,110.34 432.40,110.41 432.65,110.54 432.90,110.66 433.15,110.72 433.40,110.75 433.65,110.79 433.90,110.83 434.15,110.87 434.40,110.77 434.65,110.58 434.90,110.41 435.15,110.38 435.40,110.42 435.65,110.46 435.90,110.50 436.15,110.53 436.40,110.66 436.65,110.88 436.90,111.06 437.15,111.12 437.40,111.09 437.65,110.70 437.90,108.92 438.15,104.39 438.40,97.69 438.65,93.19 438.90,94.92 439.15,101.13 439.40,106.78 439.65,109.62 439.90,110.52 440.15,110.68 440.40,110.61 440.65,110.17 440.90,108.69 441.15,105.66 441.40,102.23 441.65,101.07 441.90,103.27 442.15,106.75 442.40,109.19 442.65,110.19 442.90,110.45 443.15,110.42 443.40,109.93 443.65,107.85 443.90,102.27 444.15,93.22 444.40,85.97 444.65,86.93 444.90,95.18 445.15,103.78 445.40,108.56 445.65,110.24 445.90,110.64 446.15,110.62 446.40,110.10 446.65,108.34 446.90,104.57 447.15,99.84 447.40,97.56 447.65,99.87 447.90,104.60 448.15,108.29 448.40,110.02 448.65,110.62 448.90,110.81 449.15,110.81 449.40,110.43 449.65,109.49 449.90,107.99 450.15,106.70 450.40,106.67 450.65,107.95 450.90,109.47 451.15,110.37 451.40,110.72 451.65,110.86 451.90,110.92 452.15,110.94 452.40,110.84 452.65,110.63 452.90,110.28 453.15,109.88 453.40,109.58 453.65,109.58 453.90,109.87 454.15,110.20 454.40,110.49 454.65,110.73 454.90,110.90 455.15,110.94 455.40,110.83 455.65,110.64 455.90,110.47 456.15,110.41 456.40,110.40 456.65,110.38 456.90,110.37 457.15,110.37 457.40,110.42 457.65,110.51 457.90,110.60 458.15,110.63 458.40,110.70 458.65,110.80 458.90,110.89 459.15,110.93 459.40,110.84 459.65,110.66 459.90,110.50 460.15,110.46 460.40,110.51 460.65,110.59 460.90,110.66 461.15,110.68 461.40,110.68 461.65,110.68 461.90,110.68 462.15,110.67 462.40,110.75 462.65,110.90 462.90,111.02 463.15,111.05 463.40,110.95 463.65,110.80 463.90,110.67 464.15,110.61 464.40,110.67 464.65,110.79 464.90,110.90 465.15,110.92 465.40,110.78 465.65,110.55 465.90,110.35 466.15,110.29 466.40,110.33 466.65,110.39 466.90,110.45 467.15,110.48 467.40,110.55 467.65,110.67 467.90,110.78 468.15,110.83 468.40,110.89 468.65,110.99 468.90,111.07 469.15,111.11 469.40,111.04 469.65,110.91 469.90,110.80 470.15,110.76 470.40,110.72 470.65,110.65 470.90,110.58 471.15,110.55 471.40,110.52 471.65,110.47 471.90,110.42 472.15,110.40 472.40,110.46 472.65,110.57 472.90,110.67 473.15,110.69 473.40,110.60 473.65,110.48 473.90,110.36 474.15,110.32 474.40,110.42 474.65,110.61 474.90,110.78 475.15,110.83 475.40,110.84 475.65,110.85 475.90,110.86 476.15,110.86 476.40,110.75 476.65,110.54 476.90,110.36 477.15,110.31 477.40,110.34 477.65,110.38 477.90,110.42 478.15,110.45 478.40,110.55 478.65,110.74 478.90,110.90 479.15,110.95 479.40,110.93 479.65,110.88 479.90,110.84 480.15,110.83 480.40,110.87 480.65,110.93 480.90,110.98 481.15,111.00 481.40,110.92 481.65,110.77 481.90,110.65 482.15,110.61 482.40,110.58 482.65,110.52 482.90,110.47 483.15,110.46 483.40,110.51 483.65,110.57 483.90,110.63 484.15,110.66 484.40,110.77 484.65,110.94 484.90,111.10 485.15,111.15 485.40,111.06 485.65,110.89 485.90,110.74 486.15,110.69 486.40,110.70 486.65,110.71 486.90,110.72 487.15,110.72 487.40,110.71 487.65,110.71 487.90,110.71 488.15,110.69 488.40,110.67 488.65,110.64 488.90,110.62 489.15,110.59 489.40,110.56 489.65,110.53 489.90,110.50 490.15,110.49 490.40,110.56 490.65,110.71 490.90,110.85 491.15,110.88 491.40,110.73 491.65,110.48 491.90,110.26 492.15,110.19 492.40,110.17 492.65,110.13 492.90,110.10 493.15,110.11 493.40,110.30 493.65,110.62 493.90,110.91 494.15,111.01 494.40,111.02 494.65,111.01 494.90,111.01 495.15,111.02 495.40,111.05 495.65,111.09 495.90,111.13 496.15,111.14 496.40,111.04 496.65,110.86 496.90,110.70 497.15,110.65 497.40,110.75 497.65,110.91 497.90,111.06 498.15,111.10 498.40,111.10 498.65,111.09 498.90,111.08 499.15,111.07 499.40,110.94 499.65,110.72 499.90,110.52 500.15,110.46 500.40,110.57 500.65,110.75 500.90,110.91 501.15,110.97 501.40,110.99 501.65,111.03 501.90,111.07 502.15,111.06 502.40,110.84 502.65,109.83 502.90,106.68 503.15,100.43 503.40,93.45 503.65,91.23 503.90,95.89 504.15,103.12 504.40,108.08 504.65,110.05 504.90,110.50 505.15,110.53 505.40,110.38 505.65,109.66 505.90,107.50 506.15,103.59 506.40,99.81 506.65,99.34 506.90,102.60 507.15,106.70 507.40,109.19 507.65,110.08 507.90,110.25 508.15,110.18 508.40,109.71 508.65,107.43 508.90,100.99 509.15,90.32 509.40,81.66 509.65,82.69 509.90,92.38 510.15,102.55 510.40,108.28 510.65,110.36 510.90,110.93 511.15,110.96 511.40,110.40 511.65,108.50 511.90,104.25 512.15,98.35 512.40,94.72 512.65,96.73 512.90,102.55 513.15,107.61 513.40,110.04 513.65,110.72 513.90,110.79 514.15,110.73 514.40,110.56 514.65,109.92 514.90,108.43 515.15,106.46 515.40,105.49 515.65,106.43 515.90,108.39 516.15,109.93 516.40,110.63 516.65,110.84 516.90,110.89 517.15,110.90 517.40,110.82 517.65,110.57 517.90,110.14 518.15,109.66 518.40,109.36 518.65,109.44 518.90,109.78 519.15,110.14 519.40,110.47 519.65,110.78 519.90,111.02 520.15,111.06 520.40,110.82 520.65,110.29 520.90,109.61 521.15,109.22 521.40,109.39 521.65,109.91 521.90,110.37 522.15,110.58 522.40,110.68 522.65,110.78 522.90,110.84 523.15,110.78 523.40,110.53 523.65,110.07 523.90,109.58 524.15,109.40 524.40,109.63 524.65,110.01 524.90,110.26 525.15,110.37 525.40,110.49 525.65,110.66 525.90,110.82 526.15,110.87 526.40,110.83 526.65,110.74 526.90,110.67 527.15,110.67 527.40,110.65 527.65,110.60 527.90,110.56 528.15,110.57 528.40,110.59 528.65,110.60 528.90,110.61 529.15,110.64 529.40,110.79 529.65,111.01 529.90,111.21 530.15,111.28 530.40,111.22 530.65,111.10 530.90,110.99 531.15,110.95 531.40,111.00 531.65,111.08 531.90,111.16 532.15,111.16 532.40,111.06 532.65,110.89 532.90,110.74 533.15,110.67 533.40,110.61 533.65,110.53 533.90,110.46 534.15,110.42 534.40,110.46 534.65,110.54 534.90,110.62 535.15,110.64 535.40,110.68 535.65,110.75 535.90,110.83 536.15,110.84 536.40,110.71 536.65,110.50 536.90,110.32 537.15,110.26 537.40,110.38 537.65,110.58 537.90,110.76 538.15,110.82 538.40,110.85 538.65,110.90 538.90,110.94 539.15,110.96 539.40,110.94 539.65,110.90 539.90,110.87 540.15,110.87 540.40,110.87 540.65,110.88 540.90,110.89 541.15,110.89 541.40,110.75 541.65,110.49 541.90,110.26 542.15,110.20 542.40,110.32 542.65,110.54 542.90,110.73 543.15,110.80 543.40,110.86 543.65,110.95 543.90,111.03 544.15,111.06 544.40,110.92 544.65,110.67 544.90,110.45 545.15,110.38 545.40,110.43 545.65,110.51 545.90,110.58 546.15,110.60 546.40,110.60 546.65,110.60 546.90,110.60 547.15,110.60 547.40,110.64 547.65,110.72 547.90,110.78 548.15,110.80 548.40,110.77 548.65,110.72 548.90,110.69 549.15,110.67 549.40,110.67 549.65,110.68 549.90,110.69 550.15,110.70 550.40,110.75 550.65,110.85 550.90,110.94 551.15,110.97 551.40,110.83 551.65,110.59 551.90,110.37 552.15,110.31 552.40,110.33 552.65,110.36 552.90,110.38 553.15,110.39 553.40,110.41 553.65,110.44 553.90,110.46 554.15,110.46 554.40,110.46 554.65,110.45 554.90,110.44 555.15,110.43 555.40,110.40 555.65,110.37 555.90,110.33 556.15,110.31 556.40,110.46 556.65,110.73 556.90,110.97 557.15,111.03 557.40,110.98 557.65,110.92 557.90,110.87 558.15,110.84 558.40,110.68 558.65,110.43 558.90,110.20 559.15,110.13 559.40,110.21 559.65,110.35 559.90,110.48 560.15,110.54 560.40,110.52 560.65,110.48 560.90,110.44 561.15,110.45 561.40,110.47 561.65,110.49 561.90,110.51 562.15,110.54 562.40,110.56 562.65,110.59 562.90,110.62 563.15,110.64 563.40,110.70 563.65,110.80 563.90,110.89"/>
<polyline fill="none" stroke="#3c98ec" stroke-width="1.2" stroke-linejoin="round" points="309.90,149.53 310.15,149.52 310.40,149.58 310.65,149.68 310.90,149.76 311.15,149.79 311.40,149.75 311.65,149.67 311.90,149.60 312.15,149.57 312.40,149.55 312.65,149.51 312.90,149.48 313.15,149.46 313.40,149.51 313.65,149.60 313.90,149.68 314.15,149.70 314.40,149.79 314.65,149.94 314.90,150.08 315.15,150.11 315.40,150.08 315.65,150.04 315.90,150.00 316.15,149.99 316.40,149.99 316.65,149.98 316.90,149.98 317.15,149.98 317.40,149.90 317.65,149.74 317.90,149.60 318.15,149.57 318.40,149.64 318.65,149.76 318.90,149.87 319.15,149.91 319.40,149.87 319.65,149.80 319.90,149.73 320.15,149.71 320.40,149.68 320.65,149.64 320.90,149.60 321.15,149.58 321.40,149.55 321.65,149.51 321.90,149.47 322.15,149.44 322.40,149.43 322.65,149.44 322.90,149.45 323.15,149.44 323.40,149.55 323.65,149.76 323.90,149.95 324.15,150.00 324.40,149.97 324.65,149.93 324.90,149.90 325.15,149.89 325.40,149.90 325.65,149.90 325.90,149.90 326.15,149.91 326.40,149.93 326.65,149.94 326.90,149.95 327.15,149.97 327.40,149.87 327.65,149.69 327.90,149.52 328.15,149.48 328.40,149.51 328.65,149.55 328.90,149.59 329.15,149.60 329.40,149.65 329.65,149.75 329.90,149.84 330.15,149.86 330.40,149.87 330.65,149.90 330.90,149.92 331.15,149.93 331.40,149.94 331.65,149.98 331.90,150.02 332.15,150.03 332.40,150.04 332.65,150.06 332.90,150.08 333.15,150.09 333.40,149.96 333.65,149.72 333.90,149.51 334.15,149.47 334.40,149.59 334.65,149.78 334.90,149.96 335.15,150.03 335.40,150.06 335.65,150.10 335.90,150.14 336.15,150.16 336.40,150.14 336.65,150.09 336.90,150.05 337.15,150.03 337.40,149.97 337.65,149.86 337.90,149.75 338.15,149.72 338.40,149.76 338.65,149.84 338.90,149.92 339.15,149.93 339.40,149.84 339.65,149.71 339.90,149.58 340.15,149.54 340.40,149.69 340.65,149.96 340.90,150.19 341.15,150.27 341.40,150.25 341.65,150.22 341.90,150.20 342.15,150.19 342.40,150.13 342.65,150.02 342.90,149.93 343.15,149.89 343.40,149.84 343.65,149.76 343.90,149.68 344.15,149.65 344.40,149.75 344.65,149.94 344.90,150.10 345.15,150.15 345.40,150.07 345.65,149.95 345.90,149.84 346.15,149.80 346.40,149.85 346.65,149.94 346.90,150.03 347.15,150.05 347.40,150.04 347.65,150.03 347.90,150.03 348.15,150.03 348.40,149.98 348.65,149.88 348.90,149.79 349.15,149.77 349.40,149.77 349.65,149.75 349.90,149.73 350.15,149.74 350.40,149.78 350.65,149.84 350.90,149.90 351.15,149.91 351.40,149.87 351.65,149.81 351.90,149.75 352.15,149.71 352.40,149.64 352.65,149.53 352.90,149.42 353.15,149.37 353.40,149.36 353.65,149.38 353.90,149.39 354.15,149.37 354.40,149.44 354.65,149.58 354.90,149.71 355.15,149.73 355.40,149.58 355.65,149.33 355.90,149.11 356.15,149.04 356.40,149.05 356.65,149.08 356.90,149.10 357.15,149.14 357.40,149.28 357.65,149.50 357.90,149.71 358.15,149.81 358.40,149.79 358.65,149.72 358.90,149.66 359.15,149.68 359.40,149.76 359.65,149.88 359.90,149.99 360.15,150.04 360.40,150.06 360.65,150.06 360.90,150.05 361.15,150.06 361.40,150.04 361.65,150.00 361.90,149.96 362.15,149.95 362.40,150.06 362.65,150.26 362.90,150.43 363.15,150.46 363.40,150.29 363.65,150.00 363.90,149.73 364.15,149.62 364.40,149.62 364.65,149.64 364.90,149.65 365.15,149.61 365.40,149.49 365.65,149.26 365.90,148.77 366.15,147.79 366.40,146.52 366.65,145.76 366.90,146.20 367.15,147.41 367.40,148.39 367.65,148.78 367.90,148.82 368.15,148.77 368.40,148.66 368.65,148.31 368.90,147.67 369.15,147.06 369.40,147.09 369.65,147.83 369.90,148.71 370.15,149.24 370.40,149.37 370.65,149.33 370.90,149.25 371.15,149.21 371.40,149.12 371.65,148.87 371.90,148.56 372.15,148.49 372.40,148.88 372.65,149.47 372.90,149.90 373.15,150.08 373.40,149.99 373.65,149.76 373.90,149.54 374.15,149.46 374.40,149.33 374.65,148.95 374.90,148.27 375.15,147.61 375.40,147.57 375.65,148.19 375.90,148.94 376.15,149.38 376.40,149.62 376.65,149.82 376.90,149.95 377.15,149.98 377.40,149.93 377.65,149.85 377.90,149.79 378.15,149.75 378.40,149.66 378.65,149.52 378.90,149.40 379.15,149.36 379.40,149.37 379.65,149.40 379.90,149.42 380.15,149.39 380.40,149.16 380.65,148.62 380.90,147.86 381.15,147.40 381.40,147.69 381.65,148.51 381.90,149.24 382.15,149.60 382.40,149.64 382.65,149.54 382.90,149.44 383.15,149.42 383.40,149.55 383.65,149.77 383.90,149.97 384.15,150.03 384.40,150.07 384.65,150.13 384.90,150.18 385.15,150.19 385.40,150.19 385.65,150.20 385.90,150.21 386.15,150.21 386.40,150.16 386.65,150.09 386.90,150.02 387.15,150.00 387.40,150.05 387.65,150.13 387.90,150.20 388.15,150.23 388.40,150.06 388.65,149.77 388.90,149.52 389.15,149.45 389.40,149.51 389.65,149.62 389.90,149.71 390.15,149.75 390.40,149.89 390.65,150.12 390.90,150.32 391.15,150.39 391.40,150.35 391.65,150.28 391.90,150.22 392.15,150.19 392.40,150.11 392.65,149.97 392.90,149.85 393.15,149.80 393.40,149.88 393.65,150.03 393.90,150.16 394.15,150.19 394.40,150.11 394.65,149.99 394.90,149.88 395.15,149.84 395.40,149.86 395.65,149.92 395.90,149.97 396.15,149.99 396.40,149.89 396.65,149.72 396.90,149.57 397.15,149.53 397.40,149.52 397.65,149.49 397.90,149.47 398.15,149.47 398.40,149.52 398.65,149.61 398.90,149.69 399.15,149.72 399.40,149.66 399.65,149.57 399.90,149.48 400.15,149.45 400.40,149.50 400.65,149.58 400.90,149.65 401.15,149.67 401.40,149.78 401.65,149.97 401.90,150.14 402.15,150.20 402.40,150.09 402.65,149.89 402.90,149.72 403.15,149.67 403.40,149.62 403.65,149.53 403.90,149.45 404.15,149.43 404.40,149.46 404.65,149.48 404.90,149.50 405.15,149.52 405.40,149.55 405.65,149.59 405.90,149.63 406.15,149.64 406.40,149.75 406.65,149.94 406.90,150.11 407.15,150.15 407.40,150.05 407.65,149.89 407.90,149.75 408.15,149.68 408.40,149.64 408.65,149.59 408.90,149.55 409.15,149.51 409.40,149.46 409.65,149.37 409.90,149.30 410.15,149.28 410.40,149.44 410.65,149.72 410.90,149.98 411.15,150.07 411.40,149.97 411.65,149.81 411.90,149.67 412.15,149.63 412.40,149.62 412.65,149.57 412.90,149.54 413.15,149.54 413.40,149.54 413.65,149.51 413.90,149.49 414.15,149.49 414.40,149.50 414.65,149.51 414.90,149.52 415.15,149.52 415.40,149.53 415.65,149.56 415.90,149.58 416.15,149.58 416.40,149.65 416.65,149.80 416.90,149.92 417.15,149.94 417.40,149.82 417.65,149.62 417.90,149.45 418.15,149.37 418.40,149.34 418.65,149.29 418.90,149.24 419.15,149.23 419.40,149.30 419.65,149.45 419.90,149.58 420.15,149.63 420.40,149.59 420.65,149.52 420.90,149.47 421.15,149.47 421.40,149.63 421.65,149.88 421.90,150.12 422.15,150.20 422.40,150.06 422.65,149.79 422.90,149.55 423.15,149.49 423.40,149.58 423.65,149.72 423.90,149.85 424.15,149.90 424.40,149.95 424.65,150.04 424.90,150.12 425.15,150.15 425.40,150.08 425.65,149.97 425.90,149.87 426.15,149.85 426.40,149.96 426.65,150.16 426.90,150.33 427.15,150.39 427.40,150.30 427.65,150.14 427.90,150.00 428.15,149.96 428.40,149.92 428.65,149.84 428.90,149.77 429.15,149.75 429.40,149.77 429.65,149.82 429.90,149.85 430.15,149.85 430.40,149.76 430.65,149.62 430.90,149.49 431.15,149.44 431.40,149.48 431.65,149.58 431.90,149.67 432.15,149.68 432.40,149.62 432.65,149.54 432.90,149.47 433.15,149.45 433.40,149.55 433.65,149.75 433.90,149.93 434.15,149.99 434.40,149.98 434.65,149.97 434.90,149.97 435.15,149.98 435.40,149.93 435.65,149.85 435.90,149.77 436.15,149.76 436.40,149.70 436.65,149.57 436.90,149.45 437.15,149.42 437.40,149.40 437.65,149.01 437.90,147.24 438.15,142.75 438.40,136.23 438.65,132.00 438.90,133.94 439.15,140.18 439.40,145.76 439.65,148.52 439.90,149.35 440.15,149.48 440.40,149.39 440.65,148.93 440.90,147.45 441.15,144.50 441.40,141.33 441.65,140.50 441.90,142.88 442.15,146.33 442.40,148.54 442.65,149.26 442.90,149.29 443.15,149.19 443.40,148.69 443.65,146.58 443.90,140.96 444.15,131.86 444.40,124.71 444.65,125.96 444.90,134.54 445.15,143.29 445.40,148.03 445.65,149.55 445.90,149.80 446.15,149.75 446.40,149.39 446.65,147.90 446.90,144.41 447.15,139.82 447.40,137.46 447.65,139.53 447.90,143.99 448.15,147.57 448.40,149.29 448.65,149.92 448.90,150.14 449.15,150.14 449.40,149.83 449.65,148.96 449.90,147.47 450.15,146.09 450.40,145.97 450.65,147.23 450.90,148.78 451.15,149.73 451.40,150.08 451.65,150.16 451.90,150.17 452.15,150.18 452.40,150.13 452.65,149.98 452.90,149.69 453.15,149.32 453.40,148.96 453.65,148.87 453.90,149.07 454.15,149.37 454.40,149.57 454.65,149.66 454.90,149.70 455.15,149.70 455.40,149.80 455.65,150.00 455.90,150.17 456.15,150.21 456.40,150.19 456.65,150.17 456.90,150.16 457.15,150.14 457.40,150.13 457.65,150.12 457.90,150.12 458.15,150.10 458.40,149.98 458.65,149.79 458.90,149.61 459.15,149.56 459.40,149.62 459.65,149.72 459.90,149.81 460.15,149.85 460.40,149.87 460.65,149.92 460.90,149.96 461.15,149.97 461.40,149.94 461.65,149.89 461.90,149.84 462.15,149.82 462.40,149.85 462.65,149.89 462.90,149.94 463.15,149.94 463.40,149.88 463.65,149.78 463.90,149.69 464.15,149.67 464.40,149.69 464.65,149.73 464.90,149.77 465.15,149.79 465.40,149.81 465.65,149.84 465.90,149.86 466.15,149.89 466.40,149.83 466.65,149.72 466.90,149.63 467.15,149.62 467.40,149.77 467.65,150.01 467.90,150.22 468.15,150.31 468.40,150.33 468.65,150.36 468.90,150.38 469.15,150.39 469.40,150.23 469.65,149.94 469.90,149.68 470.15,149.59 470.40,149.74 470.65,150.01 470.90,150.25 471.15,150.31 471.40,150.28 471.65,150.25 471.90,150.22 472.15,150.19 472.40,150.10 472.65,149.98 472.90,149.88 473.15,149.83 473.40,149.70 473.65,149.49 473.90,149.30 474.15,149.25 474.40,149.41 474.65,149.70 474.90,149.96 475.15,150.05 475.40,149.93 475.65,149.70 475.90,149.51 476.15,149.47 476.40,149.65 476.65,149.95 476.90,150.22 477.15,150.32 477.40,150.28 477.65,150.20 477.90,150.13 478.15,150.11 478.40,150.01 478.65,149.82 478.90,149.64 479.15,149.59 479.40,149.60 479.65,149.63 479.90,149.65 480.15,149.65 480.40,149.73 480.65,149.86 480.90,149.98 481.15,150.01 481.40,149.99 481.65,149.95 481.90,149.91 482.15,149.90 482.40,149.92 482.65,149.96 482.90,150.00 483.15,150.00 483.40,150.02 483.65,150.07 483.90,150.11 484.15,150.11 484.40,149.96 484.65,149.72 484.90,149.50 485.15,149.42 485.40,149.36 485.65,149.28 485.90,149.20 486.15,149.17 486.40,149.33 486.65,149.62 486.90,149.87 487.15,149.95 487.40,149.77 487.65,149.47 487.90,149.21 488.15,149.14 488.40,149.31 488.65,149.60 488.90,149.86 489.15,149.96 489.40,149.84 489.65,149.62 489.90,149.43 490.15,149.40 490.40,149.56 490.65,149.82 490.90,150.06 491.15,150.16 491.40,150.18 491.65,150.20 491.90,150.22 492.15,150.25 492.40,150.28 492.65,150.33 492.90,150.36 493.15,150.38 493.40,150.31 493.65,150.20 493.90,150.10 494.15,150.06 494.40,150.10 494.65,150.18 494.90,150.25 495.15,150.26 495.40,150.10 495.65,149.86 495.90,149.64 496.15,149.55 496.40,149.62 496.65,149.75 496.90,149.88 497.15,149.91 497.40,149.83 497.65,149.72 497.90,149.62 498.15,149.60 498.40,149.71 498.65,149.90 498.90,150.08 499.15,150.14 499.40,150.13 499.65,150.11 499.90,150.09 500.15,150.09 500.40,150.05 500.65,149.96 500.90,149.88 501.15,149.85 501.40,149.87 501.65,149.88 501.90,149.89 502.15,149.86 502.40,149.57 502.65,148.48 502.90,145.34 503.15,139.29 503.40,132.60 503.65,130.50 503.90,135.00 504.15,141.95 504.40,146.85 504.65,148.99 504.90,149.64 505.15,149.75 505.40,149.58 505.65,148.81 505.90,146.62 506.15,142.72 506.40,139.05 506.65,138.75 506.90,142.17 507.15,146.32 507.40,148.81 507.65,149.67 507.90,149.82 508.15,149.75 508.40,149.10 508.65,146.53 508.90,139.88 509.15,129.27 509.40,120.80 509.65,121.97 509.90,131.67 510.15,141.74 510.40,147.36 510.65,149.36 510.90,149.88 511.15,149.90 511.40,149.45 511.65,147.81 511.90,143.94 512.15,138.42 512.40,134.76 512.65,136.25 512.90,141.37 513.15,146.06 513.40,148.58 513.65,149.58 513.90,149.97 514.15,150.05 514.40,149.88 514.65,149.25 514.90,147.84 515.15,146.02 515.40,145.01 515.65,145.67 515.90,147.29 516.15,148.66 516.40,149.39 516.65,149.72 516.90,149.89 517.15,149.92 517.40,149.84 517.65,149.62 517.90,149.19 518.15,148.70 518.40,148.53 518.65,148.88 518.90,149.46 519.15,149.86 519.40,149.93 519.65,149.82 519.90,149.68 520.15,149.59 520.40,149.43 520.65,149.06 520.90,148.52 521.15,148.19 521.40,148.40 521.65,148.99 521.90,149.51 522.15,149.77 522.40,149.94 522.65,150.12 522.90,150.26 523.15,150.25 523.40,149.90 523.65,149.25 523.90,148.57 524.15,148.36 524.40,148.64 524.65,149.08 524.90,149.37 525.15,149.48 525.40,149.59 525.65,149.74 525.90,149.86 526.15,149.89 526.40,149.91 526.65,149.97 526.90,150.02 527.15,150.02 527.40,149.93 527.65,149.80 527.90,149.68 528.15,149.63 528.40,149.61 528.65,149.59 528.90,149.57 529.15,149.57 529.40,149.66 529.65,149.82 529.90,149.96 530.15,150.02 530.40,150.03 530.65,150.03 530.90,150.03 531.15,150.04 531.40,149.93 531.65,149.72 531.90,149.54 532.15,149.49 532.40,149.66 532.65,149.93 532.90,150.17 533.15,150.25 533.40,150.12 533.65,149.89 533.90,149.68 534.15,149.61 534.40,149.61 534.65,149.63 534.90,149.64 535.15,149.64 535.40,149.72 535.65,149.88 535.90,150.02 536.15,150.05 536.40,149.96 536.65,149.82 536.90,149.70 537.15,149.66 537.40,149.73 537.65,149.85 537.90,149.96 538.15,150.00 538.40,149.89 538.65,149.70 538.90,149.52 539.15,149.48 539.40,149.63 539.65,149.87 539.90,150.08 540.15,150.15 540.40,150.03 540.65,149.81 540.90,149.62 541.15,149.56 541.40,149.56 541.65,149.55 541.90,149.55 542.15,149.55 542.40,149.61 542.65,149.73 542.90,149.83 543.15,149.86 543.40,149.83 543.65,149.78 543.90,149.74 544.15,149.73 544.40,149.77 544.65,149.84 544.90,149.91 545.15,149.93 545.40,150.00 545.65,150.12 545.90,150.23 546.15,150.26 546.40,150.22 546.65,150.16 546.90,150.09 547.15,150.06 547.40,149.91 547.65,149.67 547.90,149.45 548.15,149.36 548.40,149.39 548.65,149.46 548.90,149.52 549.15,149.52 549.40,149.54 549.65,149.58 549.90,149.62 550.15,149.62 550.40,149.59 550.65,149.55 550.90,149.52 551.15,149.50 551.40,149.54 551.65,149.61 551.90,149.69 552.15,149.72 552.40,149.69 552.65,149.64 552.90,149.60 553.15,149.61 553.40,149.57 553.65,149.48 553.90,149.40 554.15,149.40 554.40,149.47 554.65,149.57 554.90,149.65 555.15,149.71 555.40,149.85 555.65,150.07 555.90,150.27 556.15,150.34 556.40,150.26 556.65,150.11 556.90,149.97 557.15,149.92 557.40,149.99 557.65,150.11 557.90,150.21 558.15,150.24 558.40,150.26 558.65,150.31 558.90,150.35 559.15,150.35 559.40,150.26 559.65,150.12 559.90,150.00 560.15,149.95 560.40,149.95 560.65,149.95 560.90,149.96 561.15,149.96 561.40,149.94 561.65,149.92 561.90,149.90 562.15,149.90 562.40,149.84 562.65,149.75 562.90,149.67 563.15,149.65 563.40,149.77 563.65,149.96 563.90,150.14"/>
<polyline fill="none" stroke="#111111" stroke-width="1.2" stroke-linejoin="round" points="309.90,188.43 310.15,188.42 310.40,188.41 310.65,188.41 310.90,188.41 311.15,188.41 311.40,188.43 311.65,188.48 311.90,188.52 312.15,188.53 312.40,188.50 312.65,188.44 312.90,188.39 313.15,188.38 313.40,188.42 313.65,188.49 313.90,188.55 314.15,188.57 314.40,188.40 314.65,188.11 314.90,187.86 315.15,187.77 315.40,187.85 315.65,187.99 315.90,188.11 316.15,188.15 316.40,188.23 316.65,188.39 316.90,188.52 317.15,188.56 317.40,188.51 317.65,188.42 317.90,188.34 318.15,188.32 318.40,188.38 318.65,188.48 318.90,188.56 319.15,188.59 319.40,188.46 319.65,188.22 319.90,188.00 320.15,187.94 320.40,188.01 320.65,188.13 320.90,188.23 321.15,188.26 321.40,188.21 321.65,188.13 321.90,188.05 322.15,188.01 322.40,188.05 322.65,188.12 322.90,188.18 323.15,188.18 323.40,188.17 323.65,188.16 323.90,188.15 324.15,188.13 324.40,188.02 324.65,187.83 324.90,187.67 325.15,187.62 325.40,187.67 325.65,187.75 325.90,187.83 326.15,187.87 326.40,187.91 326.65,187.96 326.90,188.00 327.15,188.04 327.40,188.19 327.65,188.42 327.90,188.62 328.15,188.70 328.40,188.68 328.65,188.64 328.90,188.60 329.15,188.58 329.40,188.46 329.65,188.25 329.90,188.06 330.15,187.99 330.40,188.09 330.65,188.27 330.90,188.43 331.15,188.47 331.40,188.32 331.65,188.09 331.90,187.88 332.15,187.81 332.40,187.90 332.65,188.05 332.90,188.18 333.15,188.23 333.40,188.14 333.65,188.00 333.90,187.87 334.15,187.83 334.40,187.82 334.65,187.80 334.90,187.77 335.15,187.78 335.40,187.95 335.65,188.23 335.90,188.49 336.15,188.56 336.40,188.43 336.65,188.21 336.90,188.00 337.15,187.93 337.40,187.91 337.65,187.90 337.90,187.88 338.15,187.87 338.40,188.00 338.65,188.23 338.90,188.45 339.15,188.51 339.40,188.49 339.65,188.46 339.90,188.44 340.15,188.44 340.40,188.34 340.65,188.18 340.90,188.03 341.15,188.01 341.40,188.16 341.65,188.41 341.90,188.63 342.15,188.71 342.40,188.66 342.65,188.54 342.90,188.43 343.15,188.40 343.40,188.44 343.65,188.48 343.90,188.52 344.15,188.52 344.40,188.42 344.65,188.24 344.90,188.09 345.15,188.03 345.40,188.14 345.65,188.35 345.90,188.54 346.15,188.59 346.40,188.52 346.65,188.42 346.90,188.33 347.15,188.30 347.40,188.34 347.65,188.42 347.90,188.50 348.15,188.53 348.40,188.52 348.65,188.50 348.90,188.49 349.15,188.48 349.40,188.38 349.65,188.20 349.90,188.04 350.15,187.99 350.40,188.01 350.65,188.03 350.90,188.05 351.15,188.06 351.40,188.02 351.65,187.95 351.90,187.89 352.15,187.87 352.40,187.86 352.65,187.85 352.90,187.84 353.15,187.83 353.40,187.82 353.65,187.79 353.90,187.77 354.15,187.77 354.40,187.82 354.65,187.90 354.90,187.98 355.15,188.02 355.40,188.09 355.65,188.20 355.90,188.30 356.15,188.34 356.40,188.24 356.65,188.06 356.90,187.89 357.15,187.85 357.40,187.98 357.65,188.20 357.90,188.39 358.15,188.45 358.40,188.37 358.65,188.25 358.90,188.14 359.15,188.10 359.40,188.08 359.65,188.05 359.90,188.03 360.15,188.02 360.40,188.10 360.65,188.25 360.90,188.39 361.15,188.43 361.40,188.36 361.65,188.25 361.90,188.15 362.15,188.12 362.40,188.09 362.65,188.04 362.90,187.99 363.15,187.98 363.40,188.01 363.65,188.06 363.90,188.09 364.15,188.10 364.40,188.12 364.65,188.16 364.90,188.19 365.15,188.17 365.40,187.98 365.65,187.62 365.90,187.01 366.15,186.01 366.40,184.83 366.65,184.23 366.90,184.82 367.15,186.08 367.40,186.95 367.65,187.16 367.90,187.02 368.15,186.92 368.40,186.90 368.65,186.68 368.90,186.07 369.15,185.35 369.40,185.32 369.65,186.12 369.90,187.09 370.15,187.70 370.40,187.80 370.65,187.64 370.90,187.44 371.15,187.31 371.40,187.19 371.65,186.84 371.90,186.40 372.15,186.27 372.40,186.69 372.65,187.31 372.90,187.72 373.15,187.90 373.40,188.01 373.65,188.10 373.90,188.18 374.15,188.18 374.40,187.93 374.65,187.29 374.90,186.30 375.15,185.45 375.40,185.39 375.65,186.14 375.90,187.07 376.15,187.64 376.40,187.89 376.65,188.00 376.90,188.07 377.15,188.10 377.40,188.23 377.65,188.39 377.90,188.31 378.15,187.74 378.40,186.89 378.65,186.42 378.90,186.66 379.15,187.31 379.40,187.90 379.65,188.26 379.90,188.44 380.15,188.40 380.40,188.15 380.65,187.54 380.90,186.65 381.15,186.04 381.40,186.29 381.65,187.15 381.90,187.92 382.15,188.29 382.40,188.28 382.65,188.10 382.90,187.92 383.15,187.86 383.40,187.86 383.65,187.87 383.90,187.88 384.15,187.89 384.40,187.94 384.65,188.01 384.90,188.08 385.15,188.11 385.40,188.18 385.65,188.28 385.90,188.37 386.15,188.41 386.40,188.30 386.65,188.11 386.90,187.93 387.15,187.89 387.40,188.02 387.65,188.24 387.90,188.44 388.15,188.51 388.40,188.53 388.65,188.55 388.90,188.57 389.15,188.58 389.40,188.59 389.65,188.61 389.90,188.63 390.15,188.62 390.40,188.46 390.65,188.19 390.90,187.95 391.15,187.87 391.40,188.03 391.65,188.31 391.90,188.56 392.15,188.63 392.40,188.45 392.65,188.17 392.90,187.91 393.15,187.82 393.40,187.85 393.65,187.92 393.90,187.99 394.15,188.01 394.40,188.05 394.65,188.14 394.90,188.22 395.15,188.24 395.40,188.31 395.65,188.41 395.90,188.51 396.15,188.54 396.40,188.44 396.65,188.26 396.90,188.10 397.15,188.06 397.40,188.18 397.65,188.37 397.90,188.54 398.15,188.58 398.40,188.51 398.65,188.37 398.90,188.25 399.15,188.19 399.40,188.12 399.65,188.01 399.90,187.91 400.15,187.85 400.40,187.81 400.65,187.76 400.90,187.72 401.15,187.66 401.40,187.59 401.65,187.49 401.90,187.40 402.15,187.33 402.40,187.27 402.65,187.19 402.90,187.12 403.15,187.07 403.40,187.05 403.65,187.05 403.90,187.04 404.15,187.04 404.40,187.13 404.65,187.30 404.90,187.45 405.15,187.51 405.40,187.58 405.65,187.70 405.90,187.81 406.15,187.86 406.40,187.74 406.65,187.50 406.90,187.30 407.15,187.26 407.40,187.28 407.65,187.29 407.90,187.30 408.15,187.35 408.40,187.57 408.65,187.92 408.90,188.24 409.15,188.38 409.40,188.34 409.65,188.24 409.90,188.16 410.15,188.16 410.40,188.17 410.65,188.17 410.90,188.16 411.15,188.18 411.40,188.17 411.65,188.13 411.90,188.10 412.15,188.09 412.40,188.16 412.65,188.27 412.90,188.36 413.15,188.38 413.40,188.41 413.65,188.46 413.90,188.50 414.15,188.48 414.40,188.38 414.65,188.23 414.90,188.09 415.15,188.03 415.40,187.99 415.65,187.96 415.90,187.93 416.15,187.91 416.40,187.83 416.65,187.71 416.90,187.60 417.15,187.58 417.40,187.76 417.65,188.05 417.90,188.32 418.15,188.42 418.40,188.28 418.65,188.03 418.90,187.80 419.15,187.75 419.40,187.87 419.65,188.04 419.90,188.20 420.15,188.26 420.40,188.34 420.65,188.46 420.90,188.57 421.15,188.59 421.40,188.46 421.65,188.22 421.90,188.01 422.15,187.94 422.40,188.04 422.65,188.22 422.90,188.38 423.15,188.43 423.40,188.46 423.65,188.53 423.90,188.58 424.15,188.60 424.40,188.54 424.65,188.45 424.90,188.36 425.15,188.34 425.40,188.38 425.65,188.45 425.90,188.51 426.15,188.53 426.40,188.42 426.65,188.21 426.90,188.02 427.15,187.96 427.40,188.02 427.65,188.13 427.90,188.22 428.15,188.24 428.40,188.17 428.65,188.06 428.90,187.96 429.15,187.92 429.40,188.03 429.65,188.23 429.90,188.41 430.15,188.45 430.40,188.33 430.65,188.14 430.90,187.97 431.15,187.91 431.40,187.93 431.65,187.98 431.90,188.03 432.15,188.06 432.40,188.17 432.65,188.36 432.90,188.53 433.15,188.60 433.40,188.58 433.65,188.55 433.90,188.52 434.15,188.52 434.40,188.56 434.65,188.60 434.90,188.64 435.15,188.65 435.40,188.55 435.65,188.38 435.90,188.22 436.15,188.16 436.40,188.15 436.65,188.15 436.90,188.15 437.15,188.13 437.40,188.08 437.65,187.67 437.90,185.87 438.15,181.33 438.40,174.69 438.65,170.34 438.90,172.25 439.15,178.56 439.40,184.21 439.65,186.98 439.90,187.81 440.15,187.98 440.40,187.94 440.65,187.50 440.90,185.93 441.15,182.72 441.40,179.06 441.65,177.86 441.90,180.24 442.15,183.99 442.40,186.64 442.65,187.78 442.90,188.11 443.15,188.09 443.40,187.71 443.65,185.80 443.90,180.33 444.15,171.23 444.40,163.86 444.65,164.79 444.90,173.11 445.15,181.79 445.40,186.52 445.65,188.04 445.90,188.28 446.15,188.22 446.40,187.70 446.65,185.91 446.90,181.97 447.15,176.97 447.40,174.52 447.65,176.90 447.90,181.86 448.15,185.76 448.40,187.47 448.65,187.88 448.90,187.89 449.15,187.82 449.40,187.61 449.65,187.00 449.90,185.84 450.15,184.69 450.40,184.63 450.65,185.78 450.90,187.15 451.15,187.94 451.40,188.22 451.65,188.29 451.90,188.31 452.15,188.30 452.40,188.18 452.65,187.93 452.90,187.57 453.15,187.18 453.40,186.99 453.65,187.19 453.90,187.67 454.15,188.08 454.40,188.30 454.65,188.39 454.90,188.44 455.15,188.48 455.40,188.50 455.65,188.51 455.90,188.51 456.15,188.53 456.40,188.54 456.65,188.55 456.90,188.55 457.15,188.55 457.40,188.57 457.65,188.59 457.90,188.61 458.15,188.60 458.40,188.51 458.65,188.36 458.90,188.23 459.15,188.17 459.40,188.22 459.65,188.31 459.90,188.39 460.15,188.41 460.40,188.32 460.65,188.17 460.90,188.04 461.15,188.00 461.40,188.04 461.65,188.11 461.90,188.17 462.15,188.19 462.40,188.24 462.65,188.34 462.90,188.42 463.15,188.44 463.40,188.42 463.65,188.39 463.90,188.36 464.15,188.34 464.40,188.25 464.65,188.11 464.90,187.98 465.15,187.93 465.40,188.04 465.65,188.23 465.90,188.41 466.15,188.46 466.40,188.40 466.65,188.30 466.90,188.22 467.15,188.19 467.40,188.19 467.65,188.18 467.90,188.18 468.15,188.19 468.40,188.11 468.65,187.95 468.90,187.81 469.15,187.79 469.40,187.92 469.65,188.11 469.90,188.29 470.15,188.36 470.40,188.31 470.65,188.23 470.90,188.14 471.15,188.12 471.40,188.19 471.65,188.31 471.90,188.42 472.15,188.44 472.40,188.38 472.65,188.28 472.90,188.20 473.15,188.15 473.40,188.19 473.65,188.29 473.90,188.37 474.15,188.38 474.40,188.34 474.65,188.28 474.90,188.23 475.15,188.21 475.40,188.25 475.65,188.31 475.90,188.37 476.15,188.40 476.40,188.34 476.65,188.22 476.90,188.12 477.15,188.11 477.40,188.19 477.65,188.31 477.90,188.42 478.15,188.46 478.40,188.50 478.65,188.54 478.90,188.57 479.15,188.58 479.40,188.60 479.65,188.62 479.90,188.63 480.15,188.63 480.40,188.52 480.65,188.34 480.90,188.18 481.15,188.12 481.40,188.19 481.65,188.33 481.90,188.45 482.15,188.47 482.40,188.46 482.65,188.45 482.90,188.44 483.15,188.43 483.40,188.38 483.65,188.31 483.90,188.25 484.15,188.23 484.40,188.28 484.65,188.37 484.90,188.45 485.15,188.48 485.40,188.48 485.65,188.48 485.90,188.47 486.15,188.48 486.40,188.40 486.65,188.27 486.90,188.15 487.15,188.12 487.40,188.13 487.65,188.15 487.90,188.17 488.15,188.19 488.40,188.14 488.65,188.04 488.90,187.95 489.15,187.94 489.40,188.09 489.65,188.33 489.90,188.54 490.15,188.63 490.40,188.66 490.65,188.71 490.90,188.75 491.15,188.77 491.40,188.69 491.65,188.55 491.90,188.41 492.15,188.37 492.40,188.40 492.65,188.46 492.90,188.50 493.15,188.51 493.40,188.49 493.65,188.48 493.90,188.46 494.15,188.44 494.40,188.42 494.65,188.40 494.90,188.38 495.15,188.35 495.40,188.23 495.65,188.03 495.90,187.86 496.15,187.80 496.40,187.90 496.65,188.09 496.90,188.27 497.15,188.32 497.40,188.29 497.65,188.23 497.90,188.18 498.15,188.17 498.40,188.20 498.65,188.24 498.90,188.27 499.15,188.29 499.40,188.25 499.65,188.19 499.90,188.12 500.15,188.11 500.40,188.16 500.65,188.23 500.90,188.29 501.15,188.32 501.40,188.35 501.65,188.40 501.90,188.45 502.15,188.44 502.40,188.23 502.65,187.28 502.90,184.30 503.15,178.37 503.40,171.78 503.65,169.75 503.90,174.23 504.15,181.12 504.40,185.76 504.65,187.48 504.90,187.78 505.15,187.77 505.40,187.64 505.65,186.93 505.90,184.76 506.15,180.76 506.40,176.97 506.65,176.61 506.90,180.08 507.15,184.31 507.40,186.94 507.65,187.97 507.90,188.25 508.15,188.20 508.40,187.55 508.65,185.01 508.90,178.41 509.15,167.87 509.40,159.52 509.65,160.76 509.90,170.48 510.15,180.51 510.40,186.02 510.65,187.88 510.90,188.27 511.15,188.26 511.40,187.75 511.65,185.99 511.90,181.95 512.15,176.30 512.40,172.76 512.65,174.58 512.90,180.08 513.15,184.94 513.40,187.28 513.65,187.94 513.90,188.01 514.15,187.96 514.40,187.71 514.65,186.91 514.90,185.22 515.15,183.12 515.40,182.11 515.65,183.13 515.90,185.22 516.15,186.85 516.40,187.60 516.65,187.86 516.90,187.94 517.15,187.95 517.40,187.87 517.65,187.66 517.90,187.25 518.15,186.76 518.40,186.53 518.65,186.77 518.90,187.25 519.15,187.63 519.40,187.77 519.65,187.77 519.90,187.73 520.15,187.69 520.40,187.63 520.65,187.42 520.90,187.03 521.15,186.75 521.40,186.89 521.65,187.36 521.90,187.79 522.15,188.01 522.40,188.13 522.65,188.23 522.90,188.29 523.15,188.27 523.40,188.08 523.65,187.71 523.90,187.29 524.15,187.17 524.40,187.39 524.65,187.73 524.90,187.93 525.15,188.03 525.40,188.19 525.65,188.41 525.90,188.61 526.15,188.66 526.40,188.48 526.65,188.18 526.90,187.91 527.15,187.82 527.40,187.88 527.65,187.99 527.90,188.10 528.15,188.12 528.40,188.08 528.65,188.02 528.90,187.97 529.15,187.95 529.40,187.97 529.65,188.00 529.90,188.04 530.15,188.04 530.40,187.99 530.65,187.89 530.90,187.81 531.15,187.80 531.40,187.94 531.65,188.17 531.90,188.39 532.15,188.46 532.40,188.38 532.65,188.24 532.90,188.11 533.15,188.07 533.40,188.01 533.65,187.90 533.90,187.80 534.15,187.77 534.40,187.87 534.65,188.05 534.90,188.21 535.15,188.26 535.40,188.16 535.65,187.98 535.90,187.83 536.15,187.78 536.40,187.87 536.65,188.02 536.90,188.16 537.15,188.21 537.40,188.18 537.65,188.13 537.90,188.09 538.15,188.09 538.40,188.15 538.65,188.25 538.90,188.34 539.15,188.38 539.40,188.47 539.65,188.60 539.90,188.72 540.15,188.76 540.40,188.73 540.65,188.68 540.90,188.63 541.15,188.60 541.40,188.51 541.65,188.36 541.90,188.22 542.15,188.16 542.40,188.20 542.65,188.30 542.90,188.39 543.15,188.40 543.40,188.34 543.65,188.27 543.90,188.20 544.15,188.17 544.40,188.12 544.65,188.03 544.90,187.96 545.15,187.94 545.40,187.91 545.65,187.86 545.90,187.81 546.15,187.82 546.40,187.93 546.65,188.10 546.90,188.26 547.15,188.33 547.40,188.34 547.65,188.35 547.90,188.36 548.15,188.37 548.40,188.45 548.65,188.58 548.90,188.69 549.15,188.72 549.40,188.71 549.65,188.70 549.90,188.69 550.15,188.67 550.40,188.59 550.65,188.45 550.90,188.33 551.15,188.28 551.40,188.21 551.65,188.12 551.90,188.04 552.15,188.01 552.40,188.11 552.65,188.28 552.90,188.44 553.15,188.49 553.40,188.33 553.65,188.05 553.90,187.80 554.15,187.73 554.40,187.76 554.65,187.80 554.90,187.84 555.15,187.86 555.40,187.94 555.65,188.09 555.90,188.22 556.15,188.26 556.40,188.27 556.65,188.27 556.90,188.28 557.15,188.28 557.40,188.18 557.65,188.02 557.90,187.88 558.15,187.84 558.40,187.93 558.65,188.09 558.90,188.24 559.15,188.30 559.40,188.36 559.65,188.46 559.90,188.55 560.15,188.59 560.40,188.51 560.65,188.36 560.90,188.23 561.15,188.20 561.40,188.22 561.65,188.25 561.90,188.27 562.15,188.27 562.40,188.23 562.65,188.15 562.90,188.07 563.15,188.04 563.40,188.02 563.65,188.02 563.90,188.01"/>
<text x="538.0" y="46.3" text-anchor="start" font-family='"Liberation Sans", Arial, sans-serif' font-weight="bold" font-size="7.4" fill="#ec1c46" stroke="#ec1c46" stroke-width="0.3">300°C</text>
<text x="538.2" y="93.8" text-anchor="start" font-family='"Liberation Sans", Arial, sans-serif' font-weight="bold" font-size="7.4" fill="#2ad42a" stroke="#2ad42a" stroke-width="0.3">300°C</text>
<text x="537.8" y="136.8" text-anchor="start" font-family='"Liberation Sans", Arial, sans-serif' font-weight="bold" font-size="7.4" fill="#3c98ec" stroke="#3c98ec" stroke-width="0.3">290°C</text>
<text x="537.8" y="181.6" text-anchor="start" font-family='"Liberation Sans", Arial, sans-serif' font-weight="bold" font-size="7.4" fill="#111" stroke="#111" stroke-width="0.3">270°C</text>
<path d="M18.4,421.6 L18.4,233.1 L274.4,233.1 L274.4,421.6" fill="none" stroke="#1e1e1e" stroke-width="1.35" stroke-linejoin="round"/>
<line x1="17.799999999999997" y1="421.95000000000005" x2="275.0" y2="421.95000000000005" stroke="#141414" stroke-width="1.2"/>
<line x1="32.62" y1="421.6" x2="32.62" y2="424.20000000000005" stroke="#1e1e1e" stroke-width="1.1"/>
<line x1="61.07" y1="421.6" x2="61.07" y2="425.6" stroke="#1e1e1e" stroke-width="1.1"/>
<text x="61.07" y="434.9" text-anchor="middle" font-family='"Liberation Sans", Arial, sans-serif' font-weight="bold" font-size="9.5" fill="#111">1120</text>
<line x1="89.51" y1="421.6" x2="89.51" y2="424.20000000000005" stroke="#1e1e1e" stroke-width="1.1"/>
<line x1="117.96" y1="421.6" x2="117.96" y2="425.6" stroke="#1e1e1e" stroke-width="1.1"/>
<text x="117.96" y="434.9" text-anchor="middle" font-family='"Liberation Sans", Arial, sans-serif' font-weight="bold" font-size="9.5" fill="#111">1140</text>
<line x1="146.40" y1="421.6" x2="146.40" y2="424.20000000000005" stroke="#1e1e1e" stroke-width="1.1"/>
<line x1="174.84" y1="421.6" x2="174.84" y2="425.6" stroke="#1e1e1e" stroke-width="1.1"/>
<text x="174.84" y="434.9" text-anchor="middle" font-family='"Liberation Sans", Arial, sans-serif' font-weight="bold" font-size="9.5" fill="#111">1160</text>
<line x1="203.29" y1="421.6" x2="203.29" y2="424.20000000000005" stroke="#1e1e1e" stroke-width="1.1"/>
<line x1="231.73" y1="421.6" x2="231.73" y2="425.6" stroke="#1e1e1e" stroke-width="1.1"/>
<text x="231.73" y="434.9" text-anchor="middle" font-family='"Liberation Sans", Arial, sans-serif' font-weight="bold" font-size="9.5" fill="#111">1180</text>
<line x1="260.18" y1="421.6" x2="260.18" y2="424.20000000000005" stroke="#1e1e1e" stroke-width="1.1"/>
<text x="146.90" y="451.2" text-anchor="middle" font-family='"Liberation Sans", Arial, sans-serif' font-weight="bold" font-style="italic" font-size="9.2" fill="#111">m/z</text>
<text x="20.80" y="244.00" font-family='"Liberation Sans", Arial, sans-serif' font-weight="bold" font-size="10.8" fill="#111">C) Voltage Study in THF/MeOH 3/2</text>
<text transform="translate(8.8,332.6) rotate(-90)" text-anchor="middle" font-family='"Liberation Sans", Arial, sans-serif' font-style="italic" font-size="9.5" fill="#222">normalized intensity / a.u.</text>
<text x="58.80" y="275.3" font-family='"Liberation Sans", Arial, sans-serif' font-size="10.5" letter-spacing="0.25" fill="#80979f" stroke="#80979f" stroke-width="0.25">[N=]</text>
<text x="80.0" y="265.6" font-family='"Liberation Sans", Arial, sans-serif' font-size="6.2" fill="#80979f" stroke="#80979f" stroke-width="0.3">H+</text>
<text x="72.50" y="260.7" font-family='"Liberation Sans", Arial, sans-serif' font-size="10.5" letter-spacing="0.25" fill="#80979f" stroke="#80979f" stroke-width="0.25">[NH]</text>
<text x="95.1" y="250.4" font-family='"Liberation Sans", Arial, sans-serif' font-size="6.2" fill="#80979f" stroke="#80979f" stroke-width="0.3">H+</text>
<text x="118.10" y="272.6" font-family='"Liberation Sans", Arial, sans-serif' font-size="10.5" letter-spacing="0.25" fill="#80979f" stroke="#80979f" stroke-width="0.25">[N=]</text>
<text x="139.6" y="264.1" font-family='"Liberation Sans", Arial, sans-serif' font-size="6.2" fill="#80979f" stroke="#80979f" stroke-width="0.3">Na+</text>
<text x="135.20" y="258.8" font-family='"Liberation Sans", Arial, sans-serif' font-size="10.5" letter-spacing="0.25" fill="#80979f" stroke="#80979f" stroke-width="0.25">[NH]</text>
<text x="158.1" y="249.8" font-family='"Liberation Sans", Arial, sans-serif' font-size="6.2" fill="#80979f" stroke="#80979f" stroke-width="0.3">Na+</text>
<text x="185.40" y="269.9" font-family='"Liberation Sans", Arial, sans-serif' font-size="10.5" letter-spacing="0.25" fill="#80979f" stroke="#80979f" stroke-width="0.25">[T=]</text>
<text x="205.2" y="260.9" font-family='"Liberation Sans", Arial, sans-serif' font-size="6.2" fill="#80979f" stroke="#80979f" stroke-width="0.3">Na+</text>
<text x="200.60" y="251.6" font-family='"Liberation Sans", Arial, sans-serif' font-size="10.5" letter-spacing="0.25" fill="#80979f" stroke="#80979f" stroke-width="0.25">[TH]</text>
<text x="222.4" y="242.9" font-family='"Liberation Sans", Arial, sans-serif' font-size="6.2" fill="#80979f" stroke="#80979f" stroke-width="0.3">Na+</text>
<polyline fill="none" stroke="#ec1c46" stroke-width="1.2" stroke-linejoin="round" points="19.20,288.48 19.45,288.49 19.70,288.45 19.95,288.36 20.20,288.29 20.45,288.28 20.70,288.26 20.95,288.21 21.20,288.17 21.45,288.16 21.70,288.13 21.95,288.05 22.20,287.98 22.45,287.96 22.70,288.08 22.95,288.28 23.20,288.46 23.45,288.50 23.70,288.44 23.95,288.36 24.20,288.28 24.45,288.24 24.70,288.27 24.95,288.35 25.20,288.41 25.45,288.42 25.70,288.34 25.95,288.22 26.20,288.11 26.45,288.08 26.70,288.17 26.95,288.32 27.20,288.45 27.45,288.51 27.70,288.45 27.95,288.32 28.20,288.20 28.45,288.19 28.70,288.31 28.95,288.51 29.20,288.68 29.45,288.75 29.70,288.75 29.95,288.73 30.20,288.70 30.45,288.69 30.70,288.62 30.95,288.50 31.20,288.38 31.45,288.32 31.70,288.31 31.95,288.32 32.20,288.32 32.45,288.29 32.70,288.28 32.95,288.28 33.20,288.29 33.45,288.26 33.70,288.14 33.95,287.95 34.20,287.78 34.45,287.71 34.70,287.76 34.95,287.86 35.20,287.94 35.45,287.97 35.70,288.00 35.95,288.08 36.20,288.14 36.45,288.16 36.70,288.05 36.95,287.87 37.20,287.71 37.45,287.66 37.70,287.76 37.95,287.93 38.20,288.08 38.45,288.12 38.70,288.10 38.95,288.06 39.20,288.02 39.45,288.01 39.70,288.04 39.95,288.09 40.20,288.14 40.45,288.16 40.70,288.07 40.95,287.92 41.20,287.78 41.45,287.75 41.70,287.72 41.95,287.66 42.20,287.60 42.45,287.61 42.70,287.76 42.95,288.01 43.20,288.23 43.45,288.32 43.70,288.34 43.95,288.36 44.20,288.38 44.45,288.39 44.70,288.34 44.95,288.24 45.20,288.15 45.45,288.13 45.70,288.08 45.95,287.98 46.20,287.89 46.45,287.88 46.70,287.91 46.95,287.96 47.20,288.01 47.45,288.04 47.70,288.14 47.95,288.30 48.20,288.45 48.45,288.51 48.70,288.47 48.95,288.38 49.20,288.30 49.45,288.29 49.70,288.43 49.95,288.66 50.20,288.86 50.45,288.92 50.70,288.85 50.95,288.73 51.20,288.61 51.45,288.56 51.70,288.47 51.95,288.32 52.20,288.18 52.45,288.12 52.70,288.17 52.95,288.28 53.20,288.38 53.45,288.38 53.70,288.29 53.95,288.17 54.20,288.06 54.45,288.01 54.70,288.10 54.95,288.28 55.20,288.44 55.45,288.50 55.70,288.50 55.95,288.51 56.20,288.53 56.45,288.56 56.70,288.52 56.95,288.43 57.20,288.35 57.45,288.36 57.70,288.43 57.95,288.51 58.20,288.58 58.45,288.63 58.70,288.67 58.95,288.71 59.20,288.74 59.45,288.75 59.70,288.78 59.95,288.81 60.20,288.82 60.45,288.82 60.70,288.82 60.95,288.85 61.20,288.86 61.45,288.83 61.70,288.61 61.95,288.27 62.20,287.95 62.45,287.82 62.70,287.85 62.95,287.92 63.20,287.99 63.45,287.99 63.70,288.02 63.95,288.08 64.20,288.14 64.45,288.15 64.70,288.09 64.95,288.00 65.20,287.92 65.45,287.90 65.70,287.96 65.95,288.07 66.20,288.16 66.45,288.20 66.70,288.12 66.95,287.97 67.20,287.84 67.45,287.81 67.70,287.97 67.95,288.23 68.20,288.47 68.45,288.55 68.70,288.49 68.95,288.38 69.20,288.29 69.45,288.26 69.70,288.19 69.95,288.07 70.20,287.97 70.45,287.95 70.70,288.07 70.95,288.26 71.20,288.44 71.45,288.51 71.70,288.46 71.95,288.37 72.20,288.28 72.45,288.26 72.70,288.25 72.95,288.21 73.20,288.17 73.45,288.15 73.70,288.18 73.95,288.24 74.20,288.27 74.45,288.24 74.70,288.09 74.95,287.85 75.20,287.40 75.45,286.52 75.70,285.06 75.95,283.67 76.20,283.43 76.45,284.47 76.70,285.91 76.95,286.90 77.20,287.33 77.45,287.39 77.70,287.31 77.95,287.21 78.20,287.14 78.45,287.11 78.70,286.95 78.95,286.57 79.20,285.88 79.45,285.01 79.70,284.52 79.95,284.96 80.20,286.11 80.45,287.14 80.70,287.57 80.95,287.59 81.20,287.45 81.45,287.29 81.70,287.01 81.95,286.64 82.20,286.53 82.45,286.88 82.70,287.57 82.95,288.22 83.20,288.59 83.45,288.70 83.70,288.66 83.95,288.51 84.20,288.14 84.45,287.14 84.70,284.92 84.95,282.07 85.20,280.63 85.45,281.92 85.70,284.66 85.95,286.81 86.20,287.79 86.45,288.07 86.70,288.12 86.95,288.10 87.20,287.95 87.45,287.38 87.70,286.05 87.95,284.33 88.20,283.46 88.45,284.25 88.70,286.06 88.95,287.63 89.20,288.46 89.45,288.69 89.70,288.50 89.95,287.96 90.20,286.79 90.45,284.53 90.70,281.47 90.95,279.55 91.20,280.57 91.45,283.58 91.70,286.30 91.95,287.72 92.20,288.21 92.45,288.31 92.70,288.24 92.95,288.07 93.20,287.72 93.45,286.94 93.70,285.71 93.95,284.61 94.20,284.65 94.45,285.88 94.70,287.20 94.95,287.87 95.20,288.01 95.45,288.06 95.70,288.24 95.95,288.51 96.20,288.75 96.45,288.84 96.70,288.84 96.95,288.83 97.20,288.82 97.45,288.82 97.70,288.78 97.95,288.71 98.20,288.64 98.45,288.61 98.70,288.64 98.95,288.70 99.20,288.75 99.45,288.75 99.70,288.65 99.95,288.49 100.20,288.35 100.45,288.30 100.70,288.37 100.95,288.49 101.20,288.59 101.45,288.63 101.70,288.62 101.95,288.61 102.20,288.61 102.45,288.61 102.70,288.56 102.95,288.48 103.20,288.40 103.45,288.37 103.70,288.37 103.95,288.35 104.20,288.33 104.45,288.32 104.70,288.35 104.95,288.41 105.20,288.46 105.45,288.47 105.70,288.39 105.95,288.27 106.20,288.17 106.45,288.12 106.70,288.04 106.95,287.92 107.20,287.81 107.45,287.78 107.70,287.90 107.95,288.11 108.20,288.31 108.45,288.38 108.70,288.30 108.95,288.17 109.20,288.05 109.45,288.04 109.70,288.11 109.95,288.22 110.20,288.32 110.45,288.37 110.70,288.46 110.95,288.59 111.20,288.70 111.45,288.75 111.70,288.65 111.95,288.47 112.20,288.30 112.45,288.24 112.70,288.21 112.95,288.15 113.20,288.09 113.45,288.05 113.70,288.04 113.95,288.04 114.20,288.04 114.45,288.01 114.70,288.06 114.95,288.18 115.20,288.27 115.45,288.28 115.70,288.20 115.95,288.09 116.20,288.00 116.45,287.95 116.70,287.91 116.95,287.86 117.20,287.82 117.45,287.80 117.70,287.84 117.95,287.90 118.20,287.96 118.45,288.00 118.70,288.10 118.95,288.27 119.20,288.42 119.45,288.48 119.70,288.38 119.95,288.19 120.20,288.02 120.45,287.99 120.70,288.05 120.95,288.13 121.20,288.20 121.45,288.25 121.70,288.37 121.95,288.56 122.20,288.72 122.45,288.80 122.70,288.78 122.95,288.72 123.20,288.67 123.45,288.67 123.70,288.62 123.95,288.53 124.20,288.44 124.45,288.42 124.70,288.46 124.95,288.52 125.20,288.57 125.45,288.58 125.70,288.55 125.95,288.53 126.20,288.49 126.45,288.45 126.70,288.34 126.95,288.19 127.20,288.04 127.45,287.95 127.70,287.94 127.95,287.97 128.20,287.99 128.45,287.96 128.70,287.91 128.95,287.85 129.20,287.80 129.45,287.78 129.70,287.86 129.95,288.02 130.20,288.17 130.45,288.22 130.70,288.16 130.95,288.03 131.20,287.93 131.45,287.94 131.70,288.05 131.95,288.21 132.20,288.36 132.45,288.45 132.70,288.56 132.95,288.71 133.20,288.84 133.45,288.91 133.70,288.94 133.95,288.95 134.20,288.95 134.45,288.96 134.70,288.86 134.95,288.68 135.20,288.51 135.45,288.44 135.70,288.46 135.95,288.50 136.20,288.54 136.45,288.52 136.70,288.44 136.95,288.31 137.20,288.20 137.45,288.14 137.70,288.13 137.95,288.14 138.20,288.14 138.45,288.14 138.70,288.15 138.95,288.18 139.20,288.20 139.45,288.22 139.70,288.28 139.95,288.39 140.20,288.49 140.45,288.53 140.70,288.57 140.95,288.62 141.20,288.67 141.45,288.68 141.70,288.56 141.95,288.34 142.20,288.15 142.45,288.08 142.70,288.01 142.95,287.90 143.20,287.80 143.45,287.76 143.70,287.82 143.95,287.95 144.20,288.06 144.45,288.09 144.70,288.01 144.95,287.88 145.20,287.77 145.45,287.74 145.70,287.75 145.95,287.76 146.20,287.78 146.45,287.81 146.70,287.98 146.95,288.26 147.20,288.48 147.45,288.37 147.70,287.32 147.95,284.27 148.20,278.92 148.45,273.91 148.70,273.48 148.95,278.09 149.20,283.75 149.45,287.17 149.70,288.35 149.95,288.52 150.20,288.40 150.45,288.09 150.70,287.27 150.95,285.42 151.20,283.00 151.45,281.77 151.70,282.95 151.95,285.43 152.20,287.36 152.45,288.21 152.70,288.27 152.95,287.97 153.20,287.37 153.45,285.79 153.70,281.79 153.95,275.32 154.20,270.13 154.45,270.82 154.70,276.90 154.95,283.34 155.20,286.99 155.45,288.23 155.70,288.43 155.95,288.30 156.20,287.81 156.45,286.45 156.70,283.69 156.95,280.60 157.20,279.61 157.45,281.67 157.70,284.94 157.95,287.27 158.20,288.28 158.45,288.55 158.70,288.59 158.95,288.54 159.20,288.30 159.45,287.69 159.70,286.74 159.95,286.07 160.20,286.23 160.45,287.05 160.70,287.80 160.95,288.17 161.20,288.28 161.45,288.31 161.70,288.23 161.95,288.04 162.20,287.73 162.45,287.35 162.70,287.13 162.95,287.26 163.20,287.68 163.45,288.05 163.70,288.21 163.95,288.21 164.20,288.17 164.45,288.16 164.70,288.25 164.95,288.40 165.20,288.53 165.45,288.56 165.70,288.54 165.95,288.52 166.20,288.49 166.45,288.46 166.70,288.35 166.95,288.18 167.20,288.02 167.45,287.95 167.70,288.02 167.95,288.15 168.20,288.27 168.45,288.29 168.70,288.17 168.95,287.99 169.20,287.82 169.45,287.77 169.70,287.76 169.95,287.76 170.20,287.77 170.45,287.77 170.70,287.88 170.95,288.06 171.20,288.23 171.45,288.29 171.70,288.27 171.95,288.22 172.20,288.19 172.45,288.19 172.70,288.29 172.95,288.45 173.20,288.60 173.45,288.66 173.70,288.63 173.95,288.57 174.20,288.51 174.45,288.51 174.70,288.55 174.95,288.59 175.20,288.63 175.45,288.66 175.70,288.56 175.95,288.39 176.20,288.24 176.45,288.19 176.70,288.33 176.95,288.55 177.20,288.75 177.45,288.80 177.70,288.63 177.95,288.37 178.20,288.12 178.45,288.01 178.70,288.07 178.95,288.20 179.20,288.31 179.45,288.31 179.70,288.31 179.95,288.35 180.20,288.39 180.45,288.37 180.70,288.33 180.95,288.29 181.20,288.27 181.45,288.25 181.70,288.23 181.95,288.23 182.20,288.23 182.45,288.25 182.70,288.19 182.95,288.09 183.20,288.01 183.45,288.02 183.70,288.13 183.95,288.27 184.20,288.41 184.45,288.50 184.70,288.59 184.95,288.69 185.20,288.78 185.45,288.84 185.70,288.77 185.95,288.60 186.20,288.45 186.45,288.42 186.70,288.58 186.95,288.85 187.20,289.07 187.45,289.13 187.70,289.10 187.95,289.06 188.20,289.01 188.45,288.96 188.70,288.82 188.95,288.62 189.20,288.43 189.45,288.34 189.70,288.36 189.95,288.42 190.20,288.48 190.45,288.47 190.70,288.38 190.95,288.25 191.20,288.14 191.45,288.10 191.70,288.06 191.95,288.01 192.20,287.96 192.45,287.96 192.70,288.05 192.95,288.20 193.20,288.34 193.45,288.39 193.70,288.28 193.95,288.09 194.20,287.91 194.45,287.86 194.70,288.00 194.95,288.24 195.20,288.45 195.45,288.52 195.70,288.55 195.95,288.60 196.20,288.65 196.45,288.65 196.70,288.52 196.95,288.29 197.20,288.09 197.45,288.04 197.70,288.17 197.95,288.39 198.20,288.59 198.45,288.66 198.70,288.52 198.95,288.27 199.20,288.04 199.45,287.99 199.70,288.16 199.95,288.43 200.20,288.68 200.45,288.76 200.70,288.67 200.95,288.49 201.20,288.32 201.45,288.27 201.70,288.39 201.95,288.60 202.20,288.78 202.45,288.81 202.70,288.68 202.95,288.47 203.20,288.28 203.45,288.19 203.70,288.24 203.95,288.36 204.20,288.46 204.45,288.47 204.70,288.27 204.95,287.96 205.20,287.68 205.45,287.58 205.70,287.58 205.95,287.60 206.20,287.63 206.45,287.65 206.70,287.81 206.95,288.07 207.20,288.32 207.45,288.42 207.70,288.42 207.95,288.41 208.20,288.40 208.45,288.42 208.70,288.44 208.95,288.45 209.20,288.45 209.45,288.47 209.70,288.40 209.95,288.26 210.20,288.13 210.45,288.09 210.70,288.12 210.95,288.17 211.20,288.21 211.45,288.21 211.70,288.24 211.95,288.29 212.20,288.34 212.45,288.32 212.70,288.10 212.95,287.24 213.20,284.74 213.45,279.89 213.70,274.68 213.95,273.30 214.20,277.20 214.45,282.89 214.70,286.72 214.95,288.22 215.20,288.56 215.45,288.54 215.70,288.22 215.95,287.01 216.20,284.23 216.45,280.63 216.70,278.82 216.95,280.49 217.20,284.02 217.45,286.80 217.70,287.99 217.95,288.21 218.20,288.05 218.45,287.36 218.70,284.80 218.95,278.59 219.20,269.67 219.45,263.92 219.70,266.67 219.95,275.34 220.20,283.11 220.45,286.94 220.70,287.99 220.95,287.99 221.20,287.60 221.45,286.56 221.70,283.96 221.95,279.75 222.20,276.39 222.45,276.89 222.70,280.86 222.95,284.98 223.20,287.26 223.45,288.04 223.70,288.21 223.95,288.19 224.20,287.92 224.45,287.08 224.70,285.47 224.95,283.87 225.20,283.59 225.45,284.84 225.70,286.44 225.95,287.43 226.20,287.80 226.45,287.88 226.70,287.97 226.95,288.05 227.20,287.98 227.45,287.61 227.70,287.07 227.95,286.77 228.20,286.95 228.45,287.39 228.70,287.82 228.95,288.12 229.20,288.31 229.45,288.35 229.70,288.24 229.95,287.94 230.20,287.43 230.45,286.89 230.70,286.66 230.95,286.94 231.20,287.47 231.45,287.87 231.70,288.00 231.95,287.99 232.20,287.93 232.45,287.88 232.70,287.86 232.95,287.75 233.20,287.44 233.45,287.07 233.70,286.97 233.95,287.25 234.20,287.62 234.45,287.86 234.70,287.94 234.95,287.92 235.20,287.90 235.45,287.91 235.70,287.94 235.95,287.97 236.20,288.02 236.45,288.06 236.70,288.17 236.95,288.33 237.20,288.48 237.45,288.56 237.70,288.67 237.95,288.82 238.20,288.95 238.45,289.01 238.70,288.93 238.95,288.79 239.20,288.65 239.45,288.60 239.70,288.54 239.95,288.44 240.20,288.34 240.45,288.28 240.70,288.27 240.95,288.28 241.20,288.28 241.45,288.25 241.70,288.18 241.95,288.11 242.20,288.05 242.45,288.00 242.70,288.03 242.95,288.10 243.20,288.17 243.45,288.18 243.70,288.20 243.95,288.26 244.20,288.31 244.45,288.33 244.70,288.29 244.95,288.23 245.20,288.18 245.45,288.16 245.70,288.11 245.95,288.00 246.20,287.90 246.45,287.89 246.70,287.93 246.95,287.98 247.20,288.04 247.45,288.06 247.70,288.08 247.95,288.11 248.20,288.14 248.45,288.15 248.70,288.17 248.95,288.19 249.20,288.21 249.45,288.22 249.70,288.21 249.95,288.19 250.20,288.17 250.45,288.16 250.70,288.25 250.95,288.42 251.20,288.57 251.45,288.59 251.70,288.46 251.95,288.27 252.20,288.09 252.45,287.99 252.70,287.95 252.95,287.92 253.20,287.89 253.45,287.84 253.70,287.80 253.95,287.77 254.20,287.74 254.45,287.71 254.70,287.68 254.95,287.64 255.20,287.62 255.45,287.62 255.70,287.67 255.95,287.75 256.20,287.83 256.45,287.88 256.70,287.84 256.95,287.75 257.20,287.67 257.45,287.69 257.70,287.80 257.95,287.95 258.20,288.09 258.45,288.18 258.70,288.30 258.95,288.45 259.20,288.60 259.45,288.68 259.70,288.58 259.95,288.37 260.20,288.18 260.45,288.15 260.70,288.27 260.95,288.45 261.20,288.60 261.45,288.66 261.70,288.62 261.95,288.55 262.20,288.47 262.45,288.44 262.70,288.36 262.95,288.23 263.20,288.11 263.45,288.05 263.70,288.02 263.95,287.98 264.20,287.94 264.45,287.92 264.70,288.02 264.95,288.23 265.20,288.42 265.45,288.47 265.70,288.34 265.95,288.12 266.20,287.93 266.45,287.88 266.70,288.00 266.95,288.20 267.20,288.38 267.45,288.45 267.70,288.35 267.95,288.16 268.20,288.00 268.45,287.95 268.70,288.01 268.95,288.10 269.20,288.18 269.45,288.20 269.70,288.14 269.95,288.02 270.20,287.91 270.45,287.87 270.70,287.95 270.95,288.10 271.20,288.24 271.45,288.27 271.70,288.31 271.95,288.37 272.20,288.44 272.45,288.45 272.70,288.34 272.95,288.16 273.20,288.01 273.45,287.97"/>
<polyline fill="none" stroke="#2ad42a" stroke-width="1.2" stroke-linejoin="round" points="19.20,320.70 19.45,320.65 19.70,320.70 19.95,320.83 20.20,320.95 20.45,320.97 20.70,320.84 20.95,320.64 21.20,320.47 21.45,320.42 21.70,320.51 21.95,320.68 22.20,320.83 22.45,320.89 22.70,320.89 22.95,320.86 23.20,320.85 23.45,320.87 23.70,320.84 23.95,320.78 24.20,320.73 24.45,320.74 24.70,320.86 24.95,321.03 25.20,321.19 25.45,321.25 25.70,321.18 25.95,321.04 26.20,320.92 26.45,320.88 26.70,320.96 26.95,321.09 27.20,321.19 27.45,321.22 27.70,321.14 27.95,321.01 28.20,320.88 28.45,320.83 28.70,320.81 28.95,320.80 29.20,320.78 29.45,320.76 29.70,320.80 29.95,320.89 30.20,320.96 30.45,320.97 30.70,321.02 30.95,321.13 31.20,321.23 31.45,321.24 31.70,321.10 31.95,320.86 32.20,320.64 32.45,320.57 32.70,320.58 32.95,320.61 33.20,320.64 33.45,320.66 33.70,320.74 33.95,320.89 34.20,321.02 34.45,321.08 34.70,321.17 34.95,321.30 35.20,321.42 35.45,321.48 35.70,321.45 35.95,321.36 36.20,321.29 36.45,321.29 36.70,321.30 36.95,321.27 37.20,321.25 37.45,321.26 37.70,321.39 37.95,321.59 38.20,321.77 38.45,321.82 38.70,321.65 38.95,321.34 39.20,321.06 39.45,320.95 39.70,321.08 39.95,321.31 40.20,321.51 40.45,321.54 40.70,321.40 40.95,321.17 41.20,320.96 41.45,320.87 41.70,320.80 41.95,320.72 42.20,320.64 42.45,320.60 42.70,320.57 42.95,320.54 43.20,320.51 43.45,320.51 43.70,320.54 43.95,320.60 44.20,320.66 44.45,320.70 44.70,320.81 44.95,320.99 45.20,321.16 45.45,321.22 45.70,321.12 45.95,320.94 46.20,320.78 46.45,320.74 46.70,320.84 46.95,320.99 47.20,321.12 47.45,321.17 47.70,321.19 47.95,321.22 48.20,321.25 48.45,321.26 48.70,321.22 48.95,321.14 49.20,321.07 49.45,321.05 49.70,321.09 49.95,321.15 50.20,321.21 50.45,321.24 50.70,321.15 50.95,321.01 51.20,320.88 51.45,320.85 51.70,320.86 51.95,320.86 52.20,320.87 52.45,320.88 52.70,320.91 52.95,320.95 53.20,320.99 53.45,321.00 53.70,321.07 53.95,321.20 54.20,321.32 54.45,321.33 54.70,321.25 54.95,321.14 55.20,321.03 55.45,320.97 55.70,320.91 55.95,320.83 56.20,320.77 56.45,320.73 56.70,320.75 56.95,320.82 57.20,320.88 57.45,320.90 57.70,320.87 57.95,320.84 58.20,320.82 58.45,320.83 58.70,320.83 58.95,320.82 59.20,320.82 59.45,320.85 59.70,320.99 59.95,321.21 60.20,321.40 60.45,321.50 60.70,321.53 60.95,321.54 61.20,321.55 61.45,321.57 61.70,321.51 61.95,321.38 62.20,321.26 62.45,321.21 62.70,321.27 62.95,321.35 63.20,321.42 63.45,321.42 63.70,321.37 63.95,321.31 64.20,321.24 64.45,321.19 64.70,321.20 64.95,321.27 65.20,321.32 65.45,321.30 65.70,321.24 65.95,321.15 66.20,321.08 66.45,321.04 66.70,320.94 66.95,320.78 67.20,320.65 67.45,320.62 67.70,320.75 67.95,320.99 68.20,321.21 68.45,321.29 68.70,321.15 68.95,320.89 69.20,320.67 69.45,320.62 69.70,320.70 69.95,320.82 70.20,320.93 70.45,320.98 70.70,321.06 70.95,321.19 71.20,321.30 71.45,321.34 71.70,321.23 71.95,321.04 72.20,320.87 72.45,320.82 72.70,320.89 72.95,321.00 73.20,321.09 73.45,321.11 73.70,321.02 73.95,320.86 74.20,320.72 74.45,320.66 74.70,320.74 74.95,320.86 75.20,320.74 75.45,320.01 75.70,318.62 75.95,317.29 76.20,317.10 76.45,318.19 76.70,319.52 76.95,320.27 77.20,320.47 77.45,320.46 77.70,320.47 77.95,320.51 78.20,320.53 78.45,320.39 78.70,319.87 78.95,318.88 79.20,317.83 79.45,317.51 79.70,318.18 79.95,319.24 80.20,320.01 80.45,320.34 80.70,320.43 80.95,320.45 81.20,320.47 81.45,320.51 81.70,320.56 81.95,320.61 82.20,320.66 82.45,320.71 82.70,320.74 82.95,320.75 83.20,320.77 83.45,320.81 83.70,320.92 83.95,321.07 84.20,321.10 84.45,320.72 84.70,319.78 84.95,318.57 85.20,318.01 85.45,318.66 85.70,319.87 85.95,320.74 86.20,321.06 86.45,321.15 86.70,321.22 86.95,321.27 87.20,321.27 87.45,321.09 87.70,320.54 87.95,319.79 88.20,319.34 88.45,319.54 88.70,320.20 88.95,320.82 89.20,321.19 89.45,321.29 89.70,321.26 89.95,321.13 90.20,320.69 90.45,319.67 90.70,318.27 90.95,317.43 91.20,317.97 91.45,319.40 91.70,320.63 91.95,321.21 92.20,321.35 92.45,321.38 92.70,321.28 92.95,321.09 93.20,320.85 93.45,320.52 93.70,320.04 93.95,319.59 94.20,319.57 94.45,320.02 94.70,320.62 94.95,321.05 95.20,321.26 95.45,321.33 95.70,321.22 95.95,321.02 96.20,320.84 96.45,320.79 96.70,320.88 96.95,321.03 97.20,321.16 97.45,321.20 97.70,321.15 97.95,321.05 98.20,320.96 98.45,320.92 98.70,320.90 98.95,320.87 99.20,320.83 99.45,320.80 99.70,320.77 99.95,320.72 100.20,320.67 100.45,320.64 100.70,320.74 100.95,320.94 101.20,321.12 101.45,321.15 101.70,321.01 101.95,320.78 102.20,320.57 102.45,320.50 102.70,320.51 102.95,320.55 103.20,320.58 103.45,320.60 103.70,320.64 103.95,320.70 104.20,320.76 104.45,320.80 104.70,320.91 104.95,321.10 105.20,321.27 105.45,321.34 105.70,321.22 105.95,321.00 106.20,320.80 106.45,320.76 106.70,320.85 106.95,320.99 107.20,321.12 107.45,321.18 107.70,321.21 107.95,321.25 108.20,321.29 108.45,321.31 108.70,321.38 108.95,321.49 109.20,321.59 109.45,321.62 109.70,321.61 109.95,321.59 110.20,321.57 110.45,321.57 110.70,321.58 110.95,321.59 111.20,321.61 111.45,321.61 111.70,321.50 111.95,321.31 112.20,321.14 112.45,321.08 112.70,321.10 112.95,321.13 113.20,321.16 113.45,321.16 113.70,321.13 113.95,321.09 114.20,321.05 114.45,321.01 114.70,321.08 114.95,321.22 115.20,321.33 115.45,321.35 115.70,321.33 115.95,321.31 116.20,321.30 116.45,321.27 116.70,321.10 116.95,320.81 117.20,320.56 117.45,320.48 117.70,320.48 117.95,320.49 118.20,320.51 118.45,320.53 118.70,320.57 118.95,320.61 119.20,320.67 119.45,320.71 119.70,320.75 119.95,320.80 120.20,320.84 120.45,320.89 120.70,320.97 120.95,321.09 121.20,321.20 121.45,321.25 121.70,321.29 121.95,321.34 122.20,321.38 122.45,321.39 122.70,321.32 122.95,321.20 123.20,321.09 123.45,321.03 123.70,320.96 123.95,320.84 124.20,320.73 124.45,320.68 124.70,320.72 124.95,320.82 125.20,320.91 125.45,320.93 125.70,320.90 125.95,320.87 126.20,320.84 126.45,320.84 126.70,320.88 126.95,320.95 127.20,321.02 127.45,321.06 127.70,321.16 127.95,321.31 128.20,321.45 128.45,321.52 128.70,321.50 128.95,321.44 129.20,321.39 129.45,321.39 129.70,321.38 129.95,321.34 130.20,321.30 130.45,321.29 130.70,321.31 130.95,321.34 131.20,321.36 131.45,321.35 131.70,321.35 131.95,321.35 132.20,321.35 132.45,321.33 132.70,321.19 132.95,320.97 133.20,320.77 133.45,320.70 133.70,320.84 133.95,321.10 134.20,321.34 134.45,321.41 134.70,321.38 134.95,321.34 135.20,321.31 135.45,321.31 135.70,321.33 135.95,321.36 136.20,321.40 136.45,321.41 136.70,321.40 136.95,321.37 137.20,321.35 137.45,321.34 137.70,321.26 137.95,321.12 138.20,320.99 138.45,320.94 138.70,320.92 138.95,320.91 139.20,320.89 139.45,320.87 139.70,320.80 139.95,320.69 140.20,320.60 140.45,320.57 140.70,320.66 140.95,320.83 141.20,320.99 141.45,321.05 141.70,320.96 141.95,320.79 142.20,320.65 142.45,320.63 142.70,320.66 142.95,320.70 143.20,320.74 143.45,320.78 143.70,320.84 143.95,320.92 144.20,320.99 144.45,321.04 144.70,321.05 144.95,321.06 145.20,321.06 145.45,321.07 145.70,321.11 145.95,321.16 146.20,321.20 146.45,321.20 146.70,321.13 146.95,321.01 147.20,320.86 147.45,320.60 147.70,319.63 147.95,316.84 148.20,311.83 148.45,307.04 148.70,306.49 148.95,310.70 149.20,315.93 149.45,319.13 149.70,320.30 149.95,320.54 150.20,320.51 150.45,320.22 150.70,319.29 150.95,317.21 151.20,314.52 151.45,313.20 151.70,314.49 151.95,317.17 152.20,319.26 152.45,320.22 152.70,320.67 152.95,320.96 153.20,320.86 153.45,319.41 153.70,315.22 153.95,308.41 154.20,302.92 154.45,303.61 154.70,309.69 154.95,315.97 155.20,319.39 155.45,320.56 155.70,320.84 155.95,320.84 156.20,320.48 156.45,319.18 156.70,316.56 156.95,313.64 157.20,312.75 157.45,314.75 157.70,317.83 157.95,319.96 158.20,320.83 158.45,321.04 158.70,321.02 158.95,320.88 159.20,320.59 159.45,320.05 159.70,319.43 159.95,319.17 160.20,319.58 160.45,320.33 160.70,320.96 160.95,321.29 161.20,321.41 161.45,321.41 161.70,321.28 161.95,321.01 162.20,320.62 162.45,320.20 162.70,319.91 162.95,319.95 163.20,320.28 163.45,320.62 163.70,320.74 163.95,320.68 164.20,320.60 164.45,320.58 164.70,320.61 164.95,320.63 165.20,320.66 165.45,320.69 165.70,320.77 165.95,320.87 166.20,320.97 166.45,321.02 166.70,321.02 166.95,321.02 167.20,321.02 167.45,321.03 167.70,321.15 167.95,321.34 168.20,321.51 168.45,321.56 168.70,321.44 168.95,321.22 169.20,321.03 169.45,320.96 169.70,320.93 169.95,320.88 170.20,320.83 170.45,320.81 170.70,320.98 170.95,321.27 171.20,321.53 171.45,321.61 171.70,321.52 171.95,321.38 172.20,321.25 172.45,321.20 172.70,321.12 172.95,320.98 173.20,320.86 173.45,320.81 173.70,320.87 173.95,320.98 174.20,321.08 174.45,321.09 174.70,320.97 174.95,320.78 175.20,320.61 175.45,320.54 175.70,320.61 175.95,320.75 176.20,320.88 176.45,320.91 176.70,320.98 176.95,321.11 177.20,321.24 177.45,321.28 177.70,321.26 177.95,321.24 178.20,321.22 178.45,321.23 178.70,321.22 178.95,321.20 179.20,321.18 179.45,321.20 179.70,321.16 179.95,321.05 180.20,320.97 180.45,320.96 180.70,321.02 180.95,321.08 181.20,321.14 181.45,321.17 181.70,321.15 181.95,321.09 182.20,321.04 182.45,321.02 182.70,321.12 182.95,321.30 183.20,321.45 183.45,321.48 183.70,321.41 183.95,321.30 184.20,321.19 184.45,321.14 184.70,321.15 184.95,321.20 185.20,321.25 185.45,321.25 185.70,321.14 185.95,320.99 186.20,320.85 186.45,320.81 186.70,320.80 186.95,320.77 187.20,320.76 187.45,320.78 187.70,320.92 187.95,321.13 188.20,321.34 188.45,321.42 188.70,321.49 188.95,321.57 189.20,321.65 189.45,321.69 189.70,321.68 189.95,321.65 190.20,321.62 190.45,321.61 190.70,321.60 190.95,321.57 191.20,321.54 191.45,321.52 191.70,321.50 191.95,321.48 192.20,321.46 192.45,321.43 192.70,321.39 192.95,321.33 193.20,321.28 193.45,321.25 193.70,321.13 193.95,320.95 194.20,320.79 194.45,320.73 194.70,320.78 194.95,320.88 195.20,320.96 195.45,320.99 195.70,320.97 195.95,320.92 196.20,320.89 196.45,320.88 196.70,320.82 196.95,320.73 197.20,320.64 197.45,320.61 197.70,320.61 197.95,320.61 198.20,320.60 198.45,320.60 198.70,320.63 198.95,320.70 199.20,320.77 199.45,320.78 199.70,320.76 199.95,320.75 200.20,320.73 200.45,320.73 200.70,320.81 200.95,320.96 201.20,321.09 201.45,321.15 201.70,321.22 201.95,321.33 202.20,321.43 202.45,321.49 202.70,321.43 202.95,321.30 203.20,321.19 203.45,321.19 203.70,321.32 203.95,321.52 204.20,321.70 204.45,321.77 204.70,321.81 204.95,321.85 205.20,321.88 205.45,321.89 205.70,321.88 205.95,321.87 206.20,321.84 206.45,321.82 206.70,321.68 206.95,321.46 207.20,321.25 207.45,321.15 207.70,321.08 207.95,320.99 208.20,320.91 208.45,320.85 208.70,320.81 208.95,320.77 209.20,320.74 209.45,320.70 209.70,320.67 209.95,320.64 210.20,320.61 210.45,320.60 210.70,320.60 210.95,320.60 211.20,320.60 211.45,320.61 211.70,320.70 211.95,320.85 212.20,320.98 212.45,321.02 212.70,320.94 212.95,320.30 213.20,317.98 213.45,313.17 213.70,307.76 213.95,306.07 214.20,309.72 214.45,315.36 214.70,319.20 214.95,320.68 215.20,320.99 215.45,320.95 215.70,320.61 215.95,319.28 216.20,316.25 216.45,312.33 216.70,310.45 216.95,312.42 217.20,316.41 217.45,319.51 217.70,320.77 217.95,320.93 218.20,320.69 218.45,319.98 218.70,317.55 218.95,311.49 219.20,302.61 219.45,296.82 219.70,299.58 219.95,308.35 220.20,316.20 220.45,320.09 220.70,321.27 220.95,321.42 221.20,321.16 221.45,320.08 221.70,317.19 221.95,312.49 222.20,308.72 222.45,309.19 222.70,313.40 222.95,317.75 223.20,320.13 223.45,320.93 223.70,321.04 223.95,320.90 224.20,320.52 224.45,319.61 224.70,318.13 224.95,316.80 225.20,316.80 225.45,318.21 225.70,319.80 225.95,320.69 226.20,320.94 226.45,320.99 226.70,321.08 226.95,321.16 227.20,321.09 227.45,320.72 227.70,320.28 227.95,320.18 228.20,320.53 228.45,321.00 228.70,321.21 228.95,321.14 229.20,320.99 229.45,320.92 229.70,320.85 229.95,320.66 230.20,320.25 230.45,319.73 230.70,319.58 230.95,319.99 231.20,320.66 231.45,321.11 231.70,321.25 231.95,321.23 232.20,321.18 232.45,321.15 232.70,320.97 232.95,320.58 233.20,320.03 233.45,319.60 233.70,319.56 233.95,319.90 234.20,320.33 234.45,320.60 234.70,320.71 234.95,320.75 235.20,320.77 235.45,320.79 235.70,320.93 235.95,321.18 236.20,321.40 236.45,321.48 236.70,321.46 236.95,321.44 237.20,321.41 237.45,321.41 237.70,321.29 237.95,321.09 238.20,320.91 238.45,320.86 238.70,321.00 238.95,321.24 239.20,321.45 239.45,321.53 239.70,321.57 239.95,321.63 240.20,321.69 240.45,321.71 240.70,321.66 240.95,321.56 241.20,321.46 241.45,321.43 241.70,321.36 241.95,321.25 242.20,321.14 242.45,321.09 242.70,321.10 242.95,321.14 243.20,321.16 243.45,321.14 243.70,321.03 243.95,320.86 244.20,320.71 244.45,320.63 244.70,320.58 244.95,320.52 245.20,320.47 245.45,320.45 245.70,320.62 245.95,320.92 246.20,321.20 246.45,321.30 246.70,321.26 246.95,321.17 247.20,321.11 247.45,321.11 247.70,321.12 247.95,321.11 248.20,321.11 248.45,321.14 248.70,321.24 248.95,321.40 249.20,321.54 249.45,321.59 249.70,321.50 249.95,321.34 250.20,321.18 250.45,321.11 250.70,321.15 250.95,321.25 251.20,321.32 251.45,321.29 251.70,321.20 251.95,321.10 252.20,321.00 252.45,320.90 252.70,320.69 252.95,320.40 253.20,320.14 253.45,320.02 253.70,319.97 253.95,319.94 254.20,319.92 254.45,319.92 254.70,319.94 254.95,319.98 255.20,320.03 255.45,320.09 255.70,320.15 255.95,320.20 256.20,320.27 256.45,320.35 256.70,320.50 256.95,320.69 257.20,320.87 257.45,320.96 257.70,320.96 257.95,320.91 258.20,320.85 258.45,320.86 258.70,320.91 258.95,320.98 259.20,321.04 259.45,321.05 259.70,321.00 259.95,320.90 260.20,320.82 260.45,320.79 260.70,320.93 260.95,321.18 261.20,321.40 261.45,321.47 261.70,321.37 261.95,321.19 262.20,321.04 262.45,321.00 262.70,321.04 262.95,321.08 263.20,321.13 263.45,321.16 263.70,321.20 263.95,321.25 264.20,321.30 264.45,321.32 264.70,321.39 264.95,321.49 265.20,321.58 265.45,321.60 265.70,321.49 265.95,321.32 266.20,321.15 266.45,321.08 266.70,321.14 266.95,321.27 267.20,321.38 267.45,321.38 267.70,321.27 267.95,321.10 268.20,320.95 268.45,320.88 268.70,320.87 268.95,320.86 269.20,320.86 269.45,320.86 269.70,320.86 269.95,320.87 270.20,320.88 270.45,320.90 270.70,320.83 270.95,320.70 271.20,320.59 271.45,320.59 271.70,320.71 271.95,320.89 272.20,321.05 272.45,321.12 272.70,321.11 272.95,321.06 273.20,321.01 273.45,321.01"/>
<polyline fill="none" stroke="#f26b2e" stroke-width="1.2" stroke-linejoin="round" points="19.20,354.32 19.45,354.41 19.70,354.27 19.95,354.03 20.20,353.80 20.45,353.74 20.70,353.86 20.95,354.05 21.20,354.21 21.45,354.26 21.70,354.13 21.95,353.92 22.20,353.72 22.45,353.65 22.70,353.66 22.95,353.69 23.20,353.72 23.45,353.72 23.70,353.84 23.95,354.07 24.20,354.28 24.45,354.34 24.70,354.19 24.95,353.93 25.20,353.71 25.45,353.64 25.70,353.74 25.95,353.89 26.20,354.03 26.45,354.08 26.70,354.06 26.95,354.02 27.20,353.98 27.45,353.97 27.70,353.98 27.95,353.98 28.20,353.98 28.45,353.97 28.70,353.97 28.95,353.97 29.20,353.97 29.45,353.95 29.70,353.87 29.95,353.75 30.20,353.64 30.45,353.59 30.70,353.68 30.95,353.86 31.20,354.02 31.45,354.05 31.70,353.89 31.95,353.63 32.20,353.41 32.45,353.33 32.70,353.35 32.95,353.39 33.20,353.43 33.45,353.45 33.70,353.42 33.95,353.36 34.20,353.32 34.45,353.32 34.70,353.38 34.95,353.48 35.20,353.58 35.45,353.63 35.70,353.68 35.95,353.75 36.20,353.81 36.45,353.85 36.70,353.97 36.95,354.15 37.20,354.31 37.45,354.38 37.70,354.29 37.95,354.14 38.20,354.00 38.45,353.96 38.70,353.91 38.95,353.83 39.20,353.75 39.45,353.72 39.70,353.74 39.95,353.77 40.20,353.80 40.45,353.80 40.70,353.91 40.95,354.13 41.20,354.31 41.45,354.35 41.70,354.14 41.95,353.82 42.20,353.52 42.45,353.41 42.70,353.49 42.95,353.64 43.20,353.78 43.45,353.81 43.70,353.76 43.95,353.67 44.20,353.59 44.45,353.57 44.70,353.63 44.95,353.73 45.20,353.82 45.45,353.86 45.70,353.82 45.95,353.74 46.20,353.67 46.45,353.67 46.70,353.76 46.95,353.90 47.20,354.03 47.45,354.08 47.70,354.07 47.95,354.02 48.20,353.98 48.45,353.98 48.70,354.02 48.95,354.07 49.20,354.12 49.45,354.14 49.70,354.18 49.95,354.26 50.20,354.33 50.45,354.35 50.70,354.29 50.95,354.18 51.20,354.09 51.45,354.06 51.70,353.98 51.95,353.84 52.20,353.72 52.45,353.69 52.70,353.69 52.95,353.68 53.20,353.67 53.45,353.68 53.70,353.86 53.95,354.15 54.20,354.42 54.45,354.51 54.70,354.42 54.95,354.28 55.20,354.14 55.45,354.09 55.70,354.02 55.95,353.91 56.20,353.80 56.45,353.75 56.70,353.86 56.95,354.08 57.20,354.26 57.45,354.29 57.70,354.19 57.95,354.04 58.20,353.90 58.45,353.84 58.70,353.85 58.95,353.87 59.20,353.90 59.45,353.90 59.70,353.93 59.95,353.97 60.20,354.02 60.45,354.04 60.70,353.94 60.95,353.76 61.20,353.60 61.45,353.57 61.70,353.60 61.95,353.64 62.20,353.68 62.45,353.71 62.70,353.82 62.95,354.00 63.20,354.17 63.45,354.22 63.70,354.08 63.95,353.85 64.20,353.63 64.45,353.56 64.70,353.68 64.95,353.87 65.20,354.05 65.45,354.09 65.70,353.96 65.95,353.73 66.20,353.53 66.45,353.47 66.70,353.57 66.95,353.76 67.20,353.93 67.45,353.98 67.70,353.98 67.95,353.99 68.20,354.00 68.45,354.01 68.70,354.06 68.95,354.15 69.20,354.23 69.45,354.26 69.70,354.25 69.95,354.23 70.20,354.21 70.45,354.21 70.70,354.15 70.95,354.06 71.20,353.97 71.45,353.94 71.70,353.89 71.95,353.80 72.20,353.72 72.45,353.70 72.70,353.69 72.95,353.67 73.20,353.65 73.45,353.64 73.70,353.70 73.95,353.80 74.20,353.89 74.45,353.89 74.70,353.84 74.95,353.73 75.20,353.45 75.45,352.73 75.70,351.38 75.95,350.03 76.20,349.69 76.45,350.58 76.70,351.90 76.95,352.86 77.20,353.31 77.45,353.38 77.70,353.26 77.95,353.08 78.20,352.90 78.45,352.75 78.70,352.46 78.95,351.90 79.20,351.27 79.45,351.10 79.70,351.52 79.95,352.15 80.20,352.58 80.45,352.81 80.70,352.94 80.95,353.03 81.20,353.11 81.45,353.19 81.70,353.21 81.95,353.20 82.20,353.19 82.45,353.23 82.70,353.33 82.95,353.48 83.20,353.61 83.45,353.67 83.70,353.68 83.95,353.65 84.20,353.48 84.45,352.91 84.70,351.66 84.95,350.08 85.20,349.33 85.45,350.15 85.70,351.79 85.95,353.07 86.20,353.64 86.45,353.81 86.70,353.93 86.95,354.08 87.20,354.15 87.45,353.95 87.70,353.41 87.95,352.71 88.20,352.38 88.45,352.75 88.70,353.35 88.95,353.70 89.20,353.75 89.45,353.75 89.70,353.78 89.95,353.71 90.20,353.25 90.45,351.98 90.70,350.09 90.95,348.80 91.20,349.26 91.45,350.97 91.70,352.60 91.95,353.51 92.20,353.86 92.45,353.92 92.70,353.95 92.95,353.99 93.20,353.92 93.45,353.55 93.70,352.70 93.95,351.78 94.20,351.47 94.45,351.97 94.70,352.79 94.95,353.42 95.20,353.75 95.45,353.85 95.70,353.79 95.95,353.66 96.20,353.55 96.45,353.53 96.70,353.50 96.95,353.43 97.20,353.38 97.45,353.38 97.70,353.55 97.95,353.81 98.20,354.05 98.45,354.14 98.70,354.08 98.95,353.96 99.20,353.85 99.45,353.82 99.70,353.80 99.95,353.75 100.20,353.71 100.45,353.71 100.70,353.76 100.95,353.86 101.20,353.94 101.45,353.98 101.70,353.95 101.95,353.89 102.20,353.84 102.45,353.83 102.70,353.87 102.95,353.94 103.20,353.99 103.45,354.02 103.70,354.03 103.95,354.04 104.20,354.05 104.45,354.05 104.70,354.03 104.95,354.01 105.20,353.99 105.45,353.98 105.70,354.00 105.95,354.03 106.20,354.06 106.45,354.06 106.70,353.98 106.95,353.87 107.20,353.76 107.45,353.71 107.70,353.66 107.95,353.59 108.20,353.52 108.45,353.49 108.70,353.48 108.95,353.48 109.20,353.47 109.45,353.47 109.70,353.48 109.95,353.49 110.20,353.50 110.45,353.51 110.70,353.59 110.95,353.73 111.20,353.85 111.45,353.89 111.70,353.86 111.95,353.81 112.20,353.77 112.45,353.75 112.70,353.83 112.95,353.98 113.20,354.10 113.45,354.14 113.70,354.07 113.95,353.97 114.20,353.88 114.45,353.84 114.70,353.88 114.95,353.94 115.20,353.99 115.45,354.01 115.70,354.06 115.95,354.15 116.20,354.23 116.45,354.25 116.70,354.07 116.95,353.78 117.20,353.51 117.45,353.43 117.70,353.42 117.95,353.41 118.20,353.40 118.45,353.39 118.70,353.42 118.95,353.46 119.20,353.50 119.45,353.51 119.70,353.56 119.95,353.64 120.20,353.72 120.45,353.74 120.70,353.79 120.95,353.86 121.20,353.92 121.45,353.95 121.70,354.00 121.95,354.06 122.20,354.13 122.45,354.16 122.70,354.10 122.95,353.99 123.20,353.90 123.45,353.88 123.70,354.01 123.95,354.21 124.20,354.40 124.45,354.46 124.70,354.28 124.95,353.96 125.20,353.68 125.45,353.58 125.70,353.73 125.95,353.98 126.20,354.20 126.45,354.25 126.70,354.11 126.95,353.88 127.20,353.68 127.45,353.60 127.70,353.70 127.95,353.90 128.20,354.07 128.45,354.11 128.70,353.94 128.95,353.66 129.20,353.41 129.45,353.34 129.70,353.52 129.95,353.83 130.20,354.11 130.45,354.21 130.70,354.18 130.95,354.13 131.20,354.09 131.45,354.09 131.70,354.15 131.95,354.24 132.20,354.33 132.45,354.36 132.70,354.29 132.95,354.17 133.20,354.06 133.45,354.02 133.70,353.95 133.95,353.82 134.20,353.71 134.45,353.68 134.70,353.83 134.95,354.09 135.20,354.32 135.45,354.40 135.70,354.30 135.95,354.14 136.20,354.00 136.45,353.96 136.70,353.90 136.95,353.80 137.20,353.71 137.45,353.69 137.70,353.81 137.95,353.99 138.20,354.15 138.45,354.21 138.70,354.19 138.95,354.16 139.20,354.13 139.45,354.11 139.70,354.10 139.95,354.07 140.20,354.04 140.45,354.02 140.70,353.93 140.95,353.79 141.20,353.67 141.45,353.60 141.70,353.56 141.95,353.51 142.20,353.46 142.45,353.42 142.70,353.47 142.95,353.59 143.20,353.70 143.45,353.71 143.70,353.67 143.95,353.61 144.20,353.57 144.45,353.55 144.70,353.49 144.95,353.39 145.20,353.30 145.45,353.29 145.70,353.36 145.95,353.48 146.20,353.59 146.45,353.65 146.70,353.72 146.95,353.84 147.20,353.92 147.45,353.76 147.70,352.83 147.95,350.03 148.20,344.96 148.45,340.09 148.70,339.51 148.95,343.76 149.20,349.06 149.45,352.35 149.70,353.58 149.95,353.85 150.20,353.83 150.45,353.56 150.70,352.58 150.95,350.41 151.20,347.63 151.45,346.28 151.70,347.60 151.95,350.33 152.20,352.45 152.45,353.41 152.70,353.67 152.95,353.65 153.20,353.29 153.45,351.78 153.70,347.79 153.95,341.32 154.20,336.13 154.45,336.82 154.70,342.71 154.95,348.81 155.20,352.14 155.45,353.27 155.70,353.62 155.95,353.78 156.20,353.56 156.45,352.32 156.70,349.71 156.95,346.80 157.20,345.89 157.45,347.87 157.70,350.90 157.95,352.98 158.20,353.82 158.45,354.04 158.70,353.96 158.95,353.72 159.20,353.28 159.45,352.57 159.70,351.68 159.95,351.17 160.20,351.55 160.45,352.48 160.70,353.30 160.95,353.72 161.20,353.85 161.45,353.86 161.70,353.76 161.95,353.55 162.20,353.22 162.45,352.82 162.70,352.69 162.95,353.00 163.20,353.57 163.45,353.99 163.70,354.13 163.95,354.13 164.20,354.09 164.45,354.08 164.70,354.04 164.95,353.97 165.20,353.91 165.45,353.91 165.70,353.96 165.95,354.04 166.20,354.11 166.45,354.13 166.70,354.04 166.95,353.88 167.20,353.73 167.45,353.68 167.70,353.68 167.95,353.67 168.20,353.67 168.45,353.65 168.70,353.69 168.95,353.76 169.20,353.83 169.45,353.84 169.70,353.86 169.95,353.91 170.20,353.96 170.45,353.97 170.70,353.95 170.95,353.92 171.20,353.90 171.45,353.89 171.70,353.79 171.95,353.60 172.20,353.44 172.45,353.41 172.70,353.55 172.95,353.77 173.20,353.98 173.45,354.06 173.70,354.15 173.95,354.27 174.20,354.37 174.45,354.41 174.70,354.39 174.95,354.34 175.20,354.30 175.45,354.28 175.70,354.30 175.95,354.34 176.20,354.37 176.45,354.37 176.70,354.35 176.95,354.33 177.20,354.31 177.45,354.28 177.70,354.10 177.95,353.83 178.20,353.58 178.45,353.48 178.70,353.47 178.95,353.48 179.20,353.48 179.45,353.48 179.70,353.52 179.95,353.61 180.20,353.68 180.45,353.72 180.70,353.81 180.95,353.97 181.20,354.12 181.45,354.18 181.70,354.09 181.95,353.92 182.20,353.77 182.45,353.75 182.70,353.89 182.95,354.10 183.20,354.29 183.45,354.37 183.70,354.38 183.95,354.37 184.20,354.37 184.45,354.37 184.70,354.33 184.95,354.23 185.20,354.15 185.45,354.13 185.70,354.15 185.95,354.19 186.20,354.22 186.45,354.23 186.70,354.29 186.95,354.39 187.20,354.48 187.45,354.50 187.70,354.45 187.95,354.38 188.20,354.32 188.45,354.28 188.70,354.17 188.95,354.00 189.20,353.84 189.45,353.78 189.70,353.87 189.95,354.04 190.20,354.18 190.45,354.22 190.70,354.09 190.95,353.87 191.20,353.68 191.45,353.62 191.70,353.65 191.95,353.70 192.20,353.75 192.45,353.78 192.70,353.89 192.95,354.08 193.20,354.25 193.45,354.30 193.70,354.28 193.95,354.24 194.20,354.20 194.45,354.18 194.70,354.07 194.95,353.88 195.20,353.72 195.45,353.65 195.70,353.63 195.95,353.60 196.20,353.58 196.45,353.57 196.70,353.61 196.95,353.70 197.20,353.79 197.45,353.81 197.70,353.85 197.95,353.93 198.20,354.00 198.45,354.03 198.70,354.02 198.95,353.99 199.20,353.97 199.45,353.98 199.70,354.06 199.95,354.17 200.20,354.27 200.45,354.33 200.70,354.32 200.95,354.27 201.20,354.24 201.45,354.24 201.70,354.27 201.95,354.30 202.20,354.33 202.45,354.33 202.70,354.28 202.95,354.19 203.20,354.11 203.45,354.06 203.70,353.98 203.95,353.87 204.20,353.76 204.45,353.71 204.70,353.69 204.95,353.68 205.20,353.67 205.45,353.65 205.70,353.65 205.95,353.65 206.20,353.67 206.45,353.68 206.70,353.69 206.95,353.72 207.20,353.76 207.45,353.79 207.70,353.88 207.95,354.02 208.20,354.15 208.45,354.21 208.70,354.15 208.95,354.01 209.20,353.88 209.45,353.86 209.70,353.85 209.95,353.81 210.20,353.77 210.45,353.77 210.70,353.90 210.95,354.12 211.20,354.31 211.45,354.35 211.70,354.25 211.95,354.08 212.20,353.92 212.45,353.83 212.70,353.68 212.95,352.96 213.20,350.57 213.45,345.73 213.70,340.27 213.95,338.47 214.20,341.99 214.45,347.55 214.70,351.54 214.95,353.34 215.20,353.94 215.45,354.00 215.70,353.53 215.95,352.07 216.20,349.06 216.45,345.37 216.70,343.61 216.95,345.40 217.20,349.06 217.45,351.94 217.70,353.33 217.95,353.86 218.20,353.98 218.45,353.38 218.70,350.75 218.95,344.33 219.20,335.10 219.45,329.15 219.70,331.86 219.95,340.58 220.20,348.39 220.45,352.29 220.70,353.61 220.95,354.01 221.20,353.98 221.45,353.04 221.70,350.26 221.95,345.74 222.20,342.09 222.45,342.49 222.70,346.44 222.95,350.55 223.20,352.81 223.45,353.58 223.70,353.84 223.95,353.99 224.20,353.89 224.45,353.13 224.70,351.63 224.95,350.17 225.20,349.96 225.45,351.18 225.70,352.71 225.95,353.65 226.20,353.99 226.45,354.07 226.70,353.99 226.95,353.77 227.20,353.43 227.45,352.99 227.70,352.65 227.95,352.69 228.20,353.17 228.45,353.69 228.70,353.98 228.95,354.04 229.20,354.00 229.45,353.96 229.70,353.94 229.95,353.82 230.20,353.46 230.45,352.95 230.70,352.59 230.95,352.66 231.20,353.01 231.45,353.35 231.70,353.58 231.95,353.75 232.20,353.86 232.45,353.88 232.70,353.80 232.95,353.58 233.20,353.19 233.45,352.82 233.70,352.72 233.95,352.96 234.20,353.31 234.45,353.58 234.70,353.77 234.95,353.92 235.20,354.05 235.45,354.13 235.70,354.20 235.95,354.28 236.20,354.36 236.45,354.41 236.70,354.48 236.95,354.57 237.20,354.64 237.45,354.67 237.70,354.65 237.95,354.62 238.20,354.58 238.45,354.55 238.70,354.49 238.95,354.42 239.20,354.34 239.45,354.28 239.70,354.11 239.95,353.86 240.20,353.63 240.45,353.54 240.70,353.59 240.95,353.72 241.20,353.83 241.45,353.86 241.70,353.87 241.95,353.89 242.20,353.92 242.45,353.93 242.70,353.84 242.95,353.66 243.20,353.52 243.45,353.49 243.70,353.60 243.95,353.75 244.20,353.89 244.45,353.96 244.70,354.06 244.95,354.21 245.20,354.35 245.45,354.40 245.70,354.42 245.95,354.43 246.20,354.44 246.45,354.44 246.70,354.43 246.95,354.42 247.20,354.41 247.45,354.38 247.70,354.20 247.95,353.90 248.20,353.63 248.45,353.52 248.70,353.59 248.95,353.72 249.20,353.84 249.45,353.86 249.70,353.87 249.95,353.92 250.20,353.97 250.45,353.95 250.70,353.88 250.95,353.77 251.20,353.67 251.45,353.60 251.70,353.49 251.95,353.34 252.20,353.19 252.45,353.11 252.70,353.00 252.95,352.87 253.20,352.74 253.45,352.69 253.70,352.83 253.95,353.10 254.20,353.34 254.45,353.43 254.70,353.44 254.95,353.44 255.20,353.46 255.45,353.50 255.70,353.51 255.95,353.50 256.20,353.50 256.45,353.54 256.70,353.55 256.95,353.51 257.20,353.48 257.45,353.50 257.70,353.63 257.95,353.81 258.20,353.98 258.45,354.05 258.70,354.07 258.95,354.08 259.20,354.10 259.45,354.11 259.70,354.11 259.95,354.10 260.20,354.09 260.45,354.10 260.70,354.09 260.95,354.07 261.20,354.06 261.45,354.07 261.70,354.04 261.95,353.97 262.20,353.91 262.45,353.90 262.70,353.91 262.95,353.92 263.20,353.92 263.45,353.93 263.70,353.94 263.95,353.95 264.20,353.96 264.45,353.95 264.70,353.92 264.95,353.88 265.20,353.84 265.45,353.81 265.70,353.80 265.95,353.83 266.20,353.84 266.45,353.82 266.70,353.70 266.95,353.53 267.20,353.38 267.45,353.32 267.70,353.42 267.95,353.60 268.20,353.77 268.45,353.83 268.70,353.77 268.95,353.67 269.20,353.59 269.45,353.58 269.70,353.59 269.95,353.57 270.20,353.57 270.45,353.60 270.70,353.67 270.95,353.75 271.20,353.83 271.45,353.88 271.70,353.95 271.95,354.02 272.20,354.09 272.45,354.12 272.70,354.14 272.95,354.16 273.20,354.16 273.45,354.15"/>
<polyline fill="none" stroke="#3c98ec" stroke-width="1.2" stroke-linejoin="round" points="19.20,386.61 19.45,386.58 19.70,386.52 19.95,386.43 20.20,386.35 20.45,386.32 20.70,386.45 20.95,386.68 21.20,386.89 21.45,386.96 21.70,386.80 21.95,386.53 22.20,386.29 22.45,386.23 22.70,386.33 22.95,386.51 23.20,386.66 23.45,386.73 23.70,386.82 23.95,386.96 24.20,387.09 24.45,387.13 24.70,386.99 24.95,386.73 25.20,386.50 25.45,386.43 25.70,386.53 25.95,386.68 26.20,386.82 26.45,386.86 26.70,386.87 26.95,386.88 27.20,386.89 27.45,386.89 27.70,386.77 27.95,386.58 28.20,386.40 28.45,386.34 28.70,386.39 28.95,386.49 29.20,386.58 29.45,386.61 29.70,386.67 29.95,386.77 30.20,386.86 30.45,386.89 30.70,386.85 30.95,386.77 31.20,386.70 31.45,386.69 31.70,386.75 31.95,386.85 32.20,386.94 32.45,386.98 32.70,386.89 32.95,386.72 33.20,386.58 33.45,386.54 33.70,386.57 33.95,386.62 34.20,386.66 34.45,386.68 34.70,386.67 34.95,386.64 35.20,386.61 35.45,386.61 35.70,386.70 35.95,386.83 36.20,386.95 36.45,386.99 36.70,387.07 36.95,387.20 37.20,387.32 37.45,387.35 37.70,387.28 37.95,387.16 38.20,387.06 38.45,387.01 38.70,387.04 38.95,387.08 39.20,387.12 39.45,387.12 39.70,387.03 39.95,386.89 40.20,386.76 40.45,386.71 40.70,386.77 40.95,386.87 41.20,386.96 41.45,386.98 41.70,386.85 41.95,386.63 42.20,386.43 42.45,386.37 42.70,386.40 42.95,386.45 43.20,386.50 43.45,386.52 43.70,386.59 43.95,386.71 44.20,386.82 44.45,386.85 44.70,386.86 44.95,386.88 45.20,386.90 45.45,386.90 45.70,386.85 45.95,386.75 46.20,386.66 46.45,386.64 46.70,386.57 46.95,386.47 47.20,386.37 47.45,386.34 47.70,386.38 47.95,386.44 48.20,386.49 48.45,386.51 48.70,386.50 48.95,386.48 49.20,386.46 49.45,386.46 49.70,386.47 49.95,386.49 50.20,386.51 50.45,386.53 50.70,386.63 50.95,386.80 51.20,386.96 51.45,387.01 51.70,386.90 51.95,386.71 52.20,386.54 52.45,386.49 52.70,386.63 52.95,386.87 53.20,387.08 53.45,387.16 53.70,387.17 53.95,387.18 54.20,387.20 54.45,387.21 54.70,387.07 54.95,386.82 55.20,386.60 55.45,386.54 55.70,386.61 55.95,386.73 56.20,386.83 56.45,386.88 56.70,386.91 56.95,386.95 57.20,386.99 57.45,386.99 57.70,386.91 57.95,386.75 58.20,386.61 58.45,386.56 58.70,386.62 58.95,386.74 59.20,386.84 59.45,386.86 59.70,386.93 59.95,387.07 60.20,387.19 60.45,387.20 60.70,387.03 60.95,386.75 61.20,386.50 61.45,386.41 61.70,386.48 61.95,386.62 62.20,386.74 62.45,386.77 62.70,386.67 62.95,386.51 63.20,386.36 63.45,386.32 63.70,386.40 63.95,386.56 64.20,386.69 64.45,386.75 64.70,386.82 64.95,386.93 65.20,387.04 65.45,387.08 65.70,386.96 65.95,386.76 66.20,386.57 66.45,386.52 66.70,386.50 66.95,386.45 67.20,386.41 67.45,386.40 67.70,386.42 67.95,386.45 68.20,386.48 68.45,386.49 68.70,386.57 68.95,386.71 69.20,386.84 69.45,386.86 69.70,386.75 69.95,386.57 70.20,386.40 70.45,386.34 70.70,386.33 70.95,386.33 71.20,386.33 71.45,386.32 71.70,386.38 71.95,386.50 72.20,386.60 72.45,386.63 72.70,386.69 72.95,386.81 73.20,386.92 73.45,386.94 73.70,386.83 73.95,386.65 74.20,386.48 74.45,386.41 74.70,386.38 74.95,386.29 75.20,386.03 75.45,385.33 75.70,384.15 75.95,383.04 76.20,382.94 76.45,383.92 76.70,385.02 76.95,385.57 77.20,385.66 77.45,385.65 77.70,385.72 77.95,385.86 78.20,385.97 78.45,385.91 78.70,385.53 78.95,384.79 79.20,384.00 79.45,383.78 79.70,384.38 79.95,385.30 80.20,385.98 80.45,386.28 80.70,386.45 80.95,386.63 81.20,386.78 81.45,386.85 81.70,386.73 81.95,386.48 82.20,386.25 82.45,386.20 82.70,386.33 82.95,386.52 83.20,386.69 83.45,386.76 83.70,386.79 83.95,386.80 84.20,386.69 84.45,386.20 84.70,384.99 84.95,383.41 85.20,382.58 85.45,383.27 85.70,384.77 85.95,385.96 86.20,386.53 86.45,386.70 86.70,386.87 86.95,387.10 87.20,387.24 87.45,387.05 87.70,386.47 87.95,385.73 88.20,385.37 88.45,385.70 88.70,386.24 88.95,386.50 89.20,386.48 89.45,386.44 89.70,386.52 89.95,386.57 90.20,386.29 90.45,385.30 90.70,383.85 90.95,382.94 91.20,383.42 91.45,384.82 91.70,385.92 91.95,386.29 92.20,386.27 92.45,386.23 92.70,386.29 92.95,386.38 93.20,386.37 93.45,386.03 93.70,385.26 93.95,384.44 94.20,384.22 94.45,384.77 94.70,385.58 94.95,386.15 95.20,386.45 95.45,386.55 95.70,386.65 95.95,386.79 96.20,386.92 96.45,386.98 96.70,387.00 96.95,387.01 97.20,387.01 97.45,387.03 97.70,387.09 97.95,387.17 98.20,387.24 98.45,387.27 98.70,387.14 98.95,386.93 99.20,386.73 99.45,386.66 99.70,386.71 99.95,386.78 100.20,386.85 100.45,386.86 100.70,386.94 100.95,387.10 101.20,387.23 101.45,387.26 101.70,387.19 101.95,387.09 102.20,387.00 102.45,386.96 102.70,386.93 102.95,386.88 103.20,386.83 103.45,386.82 103.70,386.81 103.95,386.79 104.20,386.78 104.45,386.78 104.70,386.90 104.95,387.09 105.20,387.27 105.45,387.33 105.70,387.25 105.95,387.12 106.20,387.01 106.45,386.97 106.70,386.86 106.95,386.68 107.20,386.51 107.45,386.46 107.70,386.59 107.95,386.83 108.20,387.04 108.45,387.09 108.70,386.98 108.95,386.81 109.20,386.65 109.45,386.58 109.70,386.57 109.95,386.58 110.20,386.58 110.45,386.57 110.70,386.50 110.95,386.41 111.20,386.32 111.45,386.29 111.70,386.31 111.95,386.38 112.20,386.44 112.45,386.45 112.70,386.43 112.95,386.39 113.20,386.37 113.45,386.36 113.70,386.33 113.95,386.28 114.20,386.23 114.45,386.23 114.70,386.36 114.95,386.56 115.20,386.75 115.45,386.82 115.70,386.75 115.95,386.61 116.20,386.49 116.45,386.47 116.70,386.63 116.95,386.87 117.20,387.09 117.45,387.17 117.70,387.04 117.95,386.81 118.20,386.61 118.45,386.55 118.70,386.70 118.95,386.94 119.20,387.16 119.45,387.23 119.70,387.23 119.95,387.23 120.20,387.23 120.45,387.22 120.70,387.15 120.95,387.04 121.20,386.94 121.45,386.90 121.70,386.93 121.95,386.99 122.20,387.04 122.45,387.05 122.70,386.95 122.95,386.80 123.20,386.66 123.45,386.62 123.70,386.71 123.95,386.86 124.20,387.01 124.45,387.05 124.70,387.00 124.95,386.90 125.20,386.82 125.45,386.79 125.70,386.76 125.95,386.70 126.20,386.65 126.45,386.65 126.70,386.79 126.95,387.03 127.20,387.24 127.45,387.31 127.70,387.20 127.95,387.02 128.20,386.85 128.45,386.79 128.70,386.78 128.95,386.76 129.20,386.74 129.45,386.73 129.70,386.80 129.95,386.95 130.20,387.07 130.45,387.10 130.70,386.99 130.95,386.81 131.20,386.65 131.45,386.59 131.70,386.62 131.95,386.70 132.20,386.77 132.45,386.78 132.70,386.68 132.95,386.50 133.20,386.35 133.45,386.30 133.70,386.42 133.95,386.63 134.20,386.83 134.45,386.89 134.70,386.78 134.95,386.60 135.20,386.44 135.45,386.39 135.70,386.36 135.95,386.31 136.20,386.26 136.45,386.27 136.70,386.46 136.95,386.77 137.20,387.06 137.45,387.16 137.70,387.03 137.95,386.79 138.20,386.58 138.45,386.53 138.70,386.69 138.95,386.95 139.20,387.19 139.45,387.28 139.70,387.30 139.95,387.32 140.20,387.34 140.45,387.35 140.70,387.29 140.95,387.17 141.20,387.06 141.45,387.02 141.70,386.91 141.95,386.71 142.20,386.54 142.45,386.48 142.70,386.49 142.95,386.50 143.20,386.51 143.45,386.51 143.70,386.53 143.95,386.58 144.20,386.62 144.45,386.63 144.70,386.66 144.95,386.72 145.20,386.77 145.45,386.79 145.70,386.83 145.95,386.91 146.20,386.98 146.45,387.00 146.70,387.07 146.95,387.19 147.20,387.27 147.45,387.10 147.70,386.06 147.95,383.12 148.20,377.99 148.45,373.18 148.70,372.59 148.95,376.71 149.20,381.86 149.45,385.05 149.70,386.31 149.95,386.71 150.20,386.81 150.45,386.54 150.70,385.40 150.95,382.92 151.20,379.82 151.45,378.32 151.70,379.72 151.95,382.64 152.20,384.91 152.45,385.92 152.70,386.27 152.95,386.40 153.20,386.18 153.45,384.78 153.70,380.96 153.95,374.78 154.20,369.81 154.45,370.45 154.70,376.00 154.95,381.70 155.20,384.78 155.45,385.84 155.70,386.16 155.95,386.25 156.20,385.95 156.45,384.64 156.70,381.94 156.95,378.96 157.20,378.10 157.45,380.24 157.70,383.51 157.95,385.80 158.20,386.76 158.45,387.03 158.70,387.02 158.95,386.85 159.20,386.45 159.45,385.65 159.70,384.64 159.95,384.08 160.20,384.58 160.45,385.73 160.70,386.58 160.95,386.83 161.20,386.77 161.45,386.73 161.70,386.81 161.95,386.90 162.20,386.82 162.45,386.50 162.70,386.20 162.95,386.24 163.20,386.56 163.45,386.88 163.70,387.07 163.95,387.15 164.20,387.17 164.45,387.16 164.70,387.08 164.95,386.94 165.20,386.81 165.45,386.77 165.70,386.69 165.95,386.56 166.20,386.44 166.45,386.41 166.70,386.40 166.95,386.39 167.20,386.38 167.45,386.39 167.70,386.49 167.95,386.66 168.20,386.80 168.45,386.86 168.70,386.80 168.95,386.69 169.20,386.59 169.45,386.57 169.70,386.65 169.95,386.80 170.20,386.92 170.45,386.96 170.70,386.84 170.95,386.65 171.20,386.48 171.45,386.42 171.70,386.53 171.95,386.73 172.20,386.91 172.45,386.96 172.70,386.83 172.95,386.63 173.20,386.45 173.45,386.38 173.70,386.33 173.95,386.25 174.20,386.18 174.45,386.16 174.70,386.19 174.95,386.24 175.20,386.30 175.45,386.32 175.70,386.39 175.95,386.50 176.20,386.60 176.45,386.66 176.70,386.70 176.95,386.76 177.20,386.82 177.45,386.86 177.70,386.86 177.95,386.84 178.20,386.82 178.45,386.83 178.70,386.81 178.95,386.76 179.20,386.72 179.45,386.71 179.70,386.78 179.95,386.89 180.20,386.98 180.45,387.01 180.70,387.09 180.95,387.22 181.20,387.34 181.45,387.36 181.70,387.26 181.95,387.11 182.20,386.96 182.45,386.89 182.70,386.94 182.95,387.04 183.20,387.13 183.45,387.14 183.70,386.94 183.95,386.62 184.20,386.34 184.45,386.24 184.70,386.41 184.95,386.71 185.20,386.98 185.45,387.07 185.70,387.05 185.95,387.03 186.20,387.01 186.45,387.01 186.70,386.96 186.95,386.87 187.20,386.79 187.45,386.78 187.70,386.80 187.95,386.82 188.20,386.83 188.45,386.86 188.70,386.88 188.95,386.90 189.20,386.92 189.45,386.94 189.70,387.02 189.95,387.15 190.20,387.26 190.45,387.29 190.70,387.13 190.95,386.85 191.20,386.60 191.45,386.51 191.70,386.61 191.95,386.78 192.20,386.93 192.45,386.96 192.70,386.93 192.95,386.87 193.20,386.83 193.45,386.80 193.70,386.74 193.95,386.65 194.20,386.56 194.45,386.54 194.70,386.61 194.95,386.74 195.20,386.86 195.45,386.91 195.70,386.91 195.95,386.92 196.20,386.93 196.45,386.93 196.70,386.83 196.95,386.65 197.20,386.48 197.45,386.45 197.70,386.58 197.95,386.79 198.20,386.97 198.45,387.04 198.70,387.01 198.95,386.94 199.20,386.88 199.45,386.86 199.70,386.87 199.95,386.88 200.20,386.89 200.45,386.89 200.70,386.91 200.95,386.95 201.20,386.98 201.45,386.98 201.70,386.85 201.95,386.65 202.20,386.46 202.45,386.39 202.70,386.48 202.95,386.64 203.20,386.78 203.45,386.81 203.70,386.76 203.95,386.67 204.20,386.60 204.45,386.57 204.70,386.66 204.95,386.82 205.20,386.97 205.45,387.02 205.70,386.90 205.95,386.70 206.20,386.53 206.45,386.48 206.70,386.61 206.95,386.81 207.20,387.00 207.45,387.07 207.70,387.07 207.95,387.06 208.20,387.04 208.45,387.05 208.70,387.04 208.95,387.02 209.20,387.00 209.45,387.00 209.70,387.05 209.95,387.14 210.20,387.21 210.45,387.23 210.70,387.07 210.95,386.79 211.20,386.54 211.45,386.46 211.70,386.55 211.95,386.72 212.20,386.87 212.45,386.89 212.70,386.74 212.95,386.02 213.20,383.72 213.45,379.12 213.70,373.99 213.95,372.40 214.20,375.87 214.45,381.22 214.70,384.86 214.95,386.27 215.20,386.58 215.45,386.55 215.70,386.12 215.95,384.69 216.20,381.66 216.45,377.88 216.70,376.08 216.95,377.96 217.20,381.76 217.45,384.73 217.70,386.14 217.95,386.66 218.20,386.76 218.45,386.20 218.70,383.74 218.95,377.77 219.20,369.19 219.45,363.68 219.70,366.20 219.95,374.29 220.20,381.54 220.45,385.15 220.70,386.33 220.95,386.61 221.20,386.51 221.45,385.64 221.70,383.24 221.95,379.34 222.20,376.20 222.45,376.61 222.70,380.19 222.95,383.94 223.20,386.00 223.45,386.69 223.70,386.72 223.95,386.51 224.20,386.11 224.45,385.34 224.70,384.18 224.95,383.17 225.20,383.23 225.45,384.37 225.70,385.64 225.95,386.32 226.20,386.49 226.45,386.52 226.70,386.60 226.95,386.67 227.20,386.60 227.45,386.22 227.70,385.62 227.95,385.23 228.20,385.32 228.45,385.74 228.70,386.25 228.95,386.70 229.20,387.01 229.45,387.10 229.70,387.00 229.95,386.71 230.20,386.22 230.45,385.69 230.70,385.52 230.95,385.91 231.20,386.54 231.45,386.98 231.70,387.17 231.95,387.24 232.20,387.25 232.45,387.24 232.70,387.14 232.95,386.87 233.20,386.42 233.45,386.02 233.70,385.84 233.95,385.95 234.20,386.16 234.45,386.36 234.70,386.50 234.95,386.60 235.20,386.67 235.45,386.70 235.70,386.67 235.95,386.63 236.20,386.60 236.45,386.59 236.70,386.70 236.95,386.88 237.20,387.04 237.45,387.09 237.70,386.99 237.95,386.81 238.20,386.64 238.45,386.60 238.70,386.61 238.95,386.63 239.20,386.65 239.45,386.66 239.70,386.65 239.95,386.62 240.20,386.59 240.45,386.59 240.70,386.59 240.95,386.60 241.20,386.60 241.45,386.60 241.70,386.75 241.95,387.01 242.20,387.24 242.45,387.30 242.70,387.29 242.95,387.29 243.20,387.28 243.45,387.26 243.70,387.12 243.95,386.90 244.20,386.70 244.45,386.63 244.70,386.67 244.95,386.76 245.20,386.85 245.45,386.85 245.70,386.78 245.95,386.67 246.20,386.58 246.45,386.54 246.70,386.54 246.95,386.55 247.20,386.56 247.45,386.57 247.70,386.54 247.95,386.50 248.20,386.46 248.45,386.46 248.70,386.53 248.95,386.63 249.20,386.72 249.45,386.76 249.70,386.70 249.95,386.58 250.20,386.47 250.45,386.44 250.70,386.44 250.95,386.44 251.20,386.43 251.45,386.41 251.70,386.42 251.95,386.47 252.20,386.50 252.45,386.47 252.70,386.36 252.95,386.21 253.20,386.06 253.45,385.99 253.70,385.99 253.95,386.03 254.20,386.07 254.45,386.08 254.70,386.17 254.95,386.34 255.20,386.50 255.45,386.57 255.70,386.43 255.95,386.17 256.20,385.94 256.45,385.91 256.70,385.97 256.95,386.04 257.20,386.11 257.45,386.17 257.70,386.34 257.95,386.60 258.20,386.84 258.45,386.93 258.70,386.82 258.95,386.61 259.20,386.42 259.45,386.37 259.70,386.43 259.95,386.51 260.20,386.58 260.45,386.62 260.70,386.75 260.95,386.95 261.20,387.13 261.45,387.19 261.70,387.15 261.95,387.07 262.20,387.00 262.45,386.97 262.70,386.89 262.95,386.76 263.20,386.63 263.45,386.58 263.70,386.53 263.95,386.46 264.20,386.40 264.45,386.37 264.70,386.39 264.95,386.44 265.20,386.48 265.45,386.48 265.70,386.47 265.95,386.47 266.20,386.47 266.45,386.46 266.70,386.55 266.95,386.71 267.20,386.86 267.45,386.91 267.70,386.95 267.95,387.02 268.20,387.09 268.45,387.12 268.70,387.10 268.95,387.06 269.20,387.03 269.45,387.04 269.70,387.08 269.95,387.14 270.20,387.20 270.45,387.23 270.70,387.26 270.95,387.28 271.20,387.31 271.45,387.32 271.70,387.32 271.95,387.31 272.20,387.29 272.45,387.28 272.70,387.29 272.95,387.29 273.20,387.29 273.45,387.28"/>
<polyline fill="none" stroke="#111111" stroke-width="1.2" stroke-linejoin="round" points="19.20,419.22 19.45,419.22 19.70,419.25 19.95,419.31 20.20,419.36 20.45,419.38 20.70,419.31 20.95,419.19 21.20,419.09 21.45,419.05 21.70,419.16 21.95,419.36 22.20,419.52 22.45,419.57 22.70,419.57 22.95,419.56 23.20,419.55 23.45,419.54 23.70,419.50 23.95,419.44 24.20,419.38 24.45,419.35 24.70,419.26 24.95,419.10 25.20,418.96 25.45,418.92 25.70,418.99 25.95,419.12 26.20,419.23 26.45,419.28 26.70,419.26 26.95,419.21 27.20,419.17 27.45,419.16 27.70,419.16 27.95,419.15 28.20,419.14 28.45,419.14 28.70,419.28 28.95,419.51 29.20,419.72 29.45,419.79 29.70,419.79 29.95,419.80 30.20,419.81 30.45,419.81 30.70,419.62 30.95,419.31 31.20,419.03 31.45,418.94 31.70,419.09 31.95,419.36 32.20,419.59 32.45,419.67 32.70,419.63 32.95,419.55 33.20,419.49 33.45,419.47 33.70,419.44 33.95,419.38 34.20,419.33 34.45,419.31 34.70,419.30 34.95,419.28 35.20,419.25 35.45,419.24 35.70,419.31 35.95,419.43 36.20,419.54 36.45,419.56 36.70,419.50 36.95,419.41 37.20,419.33 37.45,419.29 37.70,419.31 37.95,419.35 38.20,419.40 38.45,419.39 38.70,419.37 38.95,419.34 39.20,419.31 39.45,419.29 39.70,419.18 39.95,419.00 40.20,418.84 40.45,418.79 40.70,418.91 40.95,419.12 41.20,419.31 41.45,419.38 41.70,419.43 41.95,419.50 42.20,419.58 42.45,419.61 42.70,419.62 42.95,419.62 43.20,419.63 43.45,419.64 43.70,419.58 43.95,419.47 44.20,419.37 44.45,419.34 44.70,419.24 44.95,419.07 45.20,418.91 45.45,418.86 45.70,418.86 45.95,418.86 46.20,418.85 46.45,418.86 46.70,418.90 46.95,418.95 47.20,419.00 47.45,419.03 47.70,419.20 47.95,419.47 48.20,419.71 48.45,419.79 48.70,419.68 48.95,419.48 49.20,419.30 49.45,419.24 49.70,419.25 49.95,419.27 50.20,419.28 50.45,419.28 50.70,419.37 50.95,419.53 51.20,419.67 51.45,419.70 51.70,419.57 51.95,419.36 52.20,419.18 52.45,419.11 52.70,419.15 52.95,419.21 53.20,419.27 53.45,419.29 53.70,419.27 53.95,419.24 54.20,419.22 54.45,419.21 54.70,419.16 54.95,419.05 55.20,418.96 55.45,418.95 55.70,419.07 55.95,419.26 56.20,419.42 56.45,419.49 56.70,419.55 56.95,419.65 57.20,419.73 57.45,419.75 57.70,419.62 57.95,419.40 58.20,419.19 58.45,419.12 58.70,419.12 58.95,419.12 59.20,419.13 59.45,419.11 59.70,419.13 59.95,419.17 60.20,419.20 60.45,419.20 60.70,419.11 60.95,418.97 61.20,418.85 61.45,418.80 61.70,418.87 61.95,419.01 62.20,419.14 62.45,419.18 62.70,419.23 62.95,419.33 63.20,419.42 63.45,419.45 63.70,419.42 63.95,419.36 64.20,419.31 64.45,419.30 64.70,419.27 64.95,419.23 65.20,419.19 65.45,419.18 65.70,419.24 65.95,419.35 66.20,419.44 66.45,419.47 66.70,419.34 66.95,419.12 67.20,418.92 67.45,418.87 67.70,418.96 67.95,419.11 68.20,419.25 68.45,419.31 68.70,419.29 68.95,419.25 69.20,419.22 69.45,419.23 69.70,419.29 69.95,419.39 70.20,419.47 70.45,419.51 70.70,419.43 70.95,419.29 71.20,419.16 71.45,419.12 71.70,419.25 71.95,419.46 72.20,419.64 72.45,419.69 72.70,419.54 72.95,419.30 73.20,419.08 73.45,418.99 73.70,418.97 73.95,418.96 74.20,418.94 74.45,418.91 74.70,418.98 74.95,419.09 75.20,419.00 75.45,418.35 75.70,417.14 75.95,415.99 76.20,415.85 76.45,416.81 76.70,417.92 76.95,418.48 77.20,418.57 77.45,418.56 77.70,418.53 77.95,418.50 78.20,418.47 78.45,418.36 78.70,418.02 78.95,417.34 79.20,416.61 79.45,416.40 79.70,416.91 79.95,417.68 80.20,418.23 80.45,418.48 80.70,418.62 80.95,418.68 81.20,418.50 81.45,417.94 81.70,417.19 81.95,416.86 82.20,417.24 82.45,417.96 82.70,418.48 82.95,418.70 83.20,418.76 83.45,418.79 83.70,418.87 83.95,418.98 84.20,418.97 84.45,418.57 84.70,417.53 84.95,416.17 85.20,415.48 85.45,416.09 85.70,417.47 85.95,418.63 86.20,419.22 86.45,419.40 86.70,419.46 86.95,419.50 87.20,419.45 87.45,419.14 87.70,418.42 87.95,417.49 88.20,417.03 88.45,417.46 88.70,418.31 88.95,418.93 89.20,419.16 89.45,419.22 89.70,419.20 89.95,419.07 90.20,418.67 90.45,417.78 90.70,416.52 90.95,415.73 91.20,416.14 91.45,417.39 91.70,418.41 91.95,418.83 92.20,418.88 92.45,418.88 92.70,419.02 92.95,419.23 93.20,419.33 93.45,419.11 93.70,418.53 93.95,417.92 94.20,417.74 94.45,418.14 94.70,418.66 94.95,418.99 95.20,419.10 95.45,419.13 95.70,419.09 95.95,419.02 96.20,418.95 96.45,418.94 96.70,419.02 96.95,419.15 97.20,419.27 97.45,419.33 97.70,419.37 97.95,419.43 98.20,419.48 98.45,419.51 98.70,419.49 98.95,419.44 99.20,419.39 99.45,419.38 99.70,419.47 99.95,419.62 100.20,419.75 100.45,419.79 100.70,419.74 100.95,419.66 101.20,419.58 101.45,419.53 101.70,419.43 101.95,419.26 102.20,419.11 102.45,419.04 102.70,419.07 102.95,419.14 103.20,419.20 103.45,419.21 103.70,419.26 103.95,419.37 104.20,419.47 104.45,419.50 104.70,419.42 104.95,419.29 105.20,419.18 105.45,419.15 105.70,419.17 105.95,419.20 106.20,419.23 106.45,419.25 106.70,419.15 106.95,418.98 107.20,418.83 107.45,418.78 107.70,418.86 107.95,418.99 108.20,419.11 108.45,419.14 108.70,419.12 108.95,419.09 109.20,419.06 109.45,419.04 109.70,419.00 109.95,418.96 110.20,418.91 110.45,418.87 110.70,418.85 110.95,418.82 111.20,418.79 111.45,418.77 111.70,418.76 111.95,418.79 112.20,418.80 112.45,418.79 112.70,418.75 112.95,418.71 113.20,418.67 113.45,418.65 113.70,418.62 113.95,418.59 114.20,418.56 114.45,418.54 114.70,418.47 114.95,418.37 115.20,418.27 115.45,418.25 115.70,418.31 115.95,418.41 116.20,418.51 116.45,418.56 116.70,418.69 116.95,418.89 117.20,419.08 117.45,419.16 117.70,419.10 117.95,418.97 118.20,418.86 118.45,418.85 118.70,418.83 118.95,418.76 119.20,418.70 119.45,418.71 119.70,418.75 119.95,418.79 120.20,418.82 120.45,418.86 120.70,418.99 120.95,419.20 121.20,419.37 121.45,419.44 121.70,419.36 121.95,419.22 122.20,419.08 122.45,419.04 122.70,419.04 122.95,419.05 123.20,419.05 123.45,419.04 123.70,419.03 123.95,419.02 124.20,419.00 124.45,418.99 124.70,419.04 124.95,419.14 125.20,419.22 125.45,419.25 125.70,419.34 125.95,419.50 126.20,419.65 126.45,419.69 126.70,419.59 126.95,419.43 127.20,419.28 127.45,419.22 127.70,419.22 127.95,419.20 128.20,419.19 128.45,419.18 128.70,419.17 128.95,419.15 129.20,419.14 129.45,419.13 129.70,419.13 129.95,419.14 130.20,419.15 130.45,419.14 130.70,419.12 130.95,419.10 131.20,419.08 131.45,419.07 131.70,419.13 131.95,419.22 132.20,419.31 132.45,419.34 132.70,419.39 132.95,419.46 133.20,419.52 133.45,419.56 133.70,419.54 133.95,419.50 134.20,419.46 134.45,419.46 134.70,419.43 134.95,419.36 135.20,419.30 135.45,419.30 135.70,419.35 135.95,419.44 136.20,419.52 136.45,419.55 136.70,419.61 136.95,419.69 137.20,419.77 137.45,419.79 137.70,419.65 137.95,419.41 138.20,419.19 138.45,419.12 138.70,419.14 138.95,419.17 139.20,419.19 139.45,419.20 139.70,419.28 139.95,419.41 140.20,419.52 140.45,419.56 140.70,419.57 140.95,419.60 141.20,419.62 141.45,419.62 141.70,419.61 141.95,419.59 142.20,419.57 142.45,419.55 142.70,419.52 142.95,419.49 143.20,419.45 143.45,419.43 143.70,419.45 143.95,419.50 144.20,419.54 144.45,419.53 144.70,419.44 144.95,419.30 145.20,419.17 145.45,419.12 145.70,419.16 145.95,419.26 146.20,419.34 146.45,419.37 146.70,419.39 146.95,419.44 147.20,419.47 147.45,419.28 147.70,418.22 147.95,415.20 148.20,409.87 148.45,404.87 148.70,404.40 148.95,408.96 149.20,414.57 149.45,418.00 149.70,419.24 149.95,419.51 150.20,419.47 150.45,419.16 150.70,418.07 150.95,415.62 151.20,412.47 151.45,410.92 151.70,412.33 151.95,415.26 152.20,417.53 152.45,418.58 152.70,419.05 152.95,419.33 153.20,419.20 153.45,417.68 153.70,413.36 153.95,406.34 154.20,400.69 154.45,401.39 154.70,407.77 154.95,414.45 155.20,418.16 155.45,419.41 155.70,419.67 155.95,419.61 156.20,419.13 156.45,417.57 156.70,414.32 156.95,410.60 157.20,409.31 157.45,411.58 157.70,415.27 157.95,417.89 158.20,419.02 158.45,419.31 158.70,419.23 158.95,418.99 159.20,418.58 159.45,417.90 159.70,417.07 159.95,416.63 160.20,417.04 160.45,417.97 160.70,418.84 160.95,419.35 161.20,419.58 161.45,419.65 161.70,419.52 161.95,419.23 162.20,418.83 162.45,418.43 162.70,418.20 162.95,418.31 163.20,418.70 163.45,419.07 163.70,419.22 163.95,419.21 164.20,419.15 164.45,419.13 164.70,419.15 164.95,419.18 165.20,419.20 165.45,419.20 165.70,419.18 165.95,419.17 166.20,419.15 166.45,419.13 166.70,419.08 166.95,419.02 167.20,418.97 167.45,418.95 167.70,419.10 167.95,419.37 168.20,419.62 168.45,419.69 168.70,419.66 168.95,419.62 169.20,419.58 169.45,419.57 169.70,419.48 169.95,419.35 170.20,419.23 170.45,419.19 170.70,419.24 170.95,419.34 171.20,419.42 171.45,419.44 171.70,419.43 171.95,419.41 172.20,419.40 172.45,419.39 172.70,419.35 172.95,419.29 173.20,419.23 173.45,419.21 173.70,419.19 173.95,419.16 174.20,419.13 174.45,419.12 174.70,419.17 174.95,419.25 175.20,419.33 175.45,419.36 175.70,419.35 175.95,419.33 176.20,419.31 176.45,419.32 176.70,419.28 176.95,419.20 177.20,419.13 177.45,419.12 177.70,419.15 177.95,419.19 178.20,419.23 178.45,419.24 178.70,419.30 178.95,419.39 179.20,419.46 179.45,419.48 179.70,419.48 179.95,419.48 180.20,419.47 180.45,419.46 180.70,419.38 180.95,419.23 181.20,419.11 181.45,419.07 181.70,419.14 181.95,419.27 182.20,419.39 182.45,419.43 182.70,419.48 182.95,419.57 183.20,419.66 183.45,419.69 183.70,419.69 183.95,419.70 184.20,419.70 184.45,419.71 184.70,419.67 184.95,419.60 185.20,419.54 185.45,419.51 185.70,419.40 185.95,419.20 186.20,419.03 186.45,418.96 186.70,419.02 186.95,419.12 187.20,419.21 187.45,419.22 187.70,419.15 187.95,419.03 188.20,418.92 188.45,418.88 188.70,418.87 188.95,418.85 189.20,418.84 189.45,418.84 189.70,418.88 189.95,418.95 190.20,419.02 190.45,419.05 190.70,419.10 190.95,419.18 191.20,419.25 191.45,419.29 191.70,419.36 191.95,419.47 192.20,419.56 192.45,419.60 192.70,419.57 192.95,419.53 193.20,419.49 193.45,419.47 193.70,419.40 193.95,419.27 194.20,419.16 194.45,419.11 194.70,419.17 194.95,419.29 195.20,419.39 195.45,419.41 195.70,419.36 195.95,419.28 196.20,419.21 196.45,419.19 196.70,419.18 196.95,419.17 197.20,419.17 197.45,419.17 197.70,419.12 197.95,419.05 198.20,418.98 198.45,418.97 198.70,419.01 198.95,419.08 199.20,419.14 199.45,419.16 199.70,419.15 199.95,419.13 200.20,419.11 200.45,419.11 200.70,419.19 200.95,419.33 201.20,419.45 201.45,419.49 201.70,419.45 201.95,419.38 202.20,419.32 202.45,419.31 202.70,419.31 202.95,419.31 203.20,419.32 203.45,419.33 203.70,419.35 203.95,419.38 204.20,419.40 204.45,419.42 204.70,419.44 204.95,419.45 205.20,419.47 205.45,419.48 205.70,419.53 205.95,419.60 206.20,419.66 206.45,419.68 206.70,419.68 206.95,419.68 207.20,419.67 207.45,419.66 207.70,419.65 207.95,419.65 208.20,419.65 208.45,419.63 208.70,419.52 208.95,419.37 209.20,419.22 209.45,419.16 209.70,419.21 209.95,419.31 210.20,419.40 210.45,419.43 210.70,419.45 210.95,419.50 211.20,419.54 211.45,419.56 211.70,419.57 211.95,419.58 212.20,419.60 212.45,419.60 212.70,419.42 212.95,418.66 213.20,416.37 213.45,411.89 213.70,406.79 213.95,405.03 214.20,408.23 214.45,413.38 214.70,417.13 214.95,418.86 215.20,419.46 215.45,419.53 215.70,419.16 215.95,417.80 216.20,414.80 216.45,410.96 216.70,408.94 216.95,410.54 217.20,414.13 217.45,417.05 217.70,418.45 217.95,418.92 218.20,418.98 218.45,418.41 218.70,416.04 218.95,410.24 219.20,401.86 219.45,396.43 219.70,399.02 219.95,407.21 220.20,414.55 220.45,418.17 220.70,419.26 220.95,419.40 221.20,419.17 221.45,418.23 221.70,415.65 221.95,411.47 222.20,408.09 222.45,408.47 222.70,412.16 222.95,415.99 223.20,418.09 223.45,418.80 223.70,418.94 223.95,418.90 224.20,418.65 224.45,417.92 224.70,416.58 224.95,415.29 225.20,415.13 225.45,416.26 225.70,417.80 225.95,418.89 226.20,419.42 226.45,419.58 226.70,419.62 226.95,419.62 227.20,419.47 227.45,419.08 227.70,418.49 227.95,418.13 228.20,418.23 228.45,418.64 228.70,419.07 228.95,419.37 229.20,419.55 229.45,419.59 229.70,419.56 229.95,419.44 230.20,419.08 230.45,418.58 230.70,418.17 230.95,418.16 231.20,418.44 231.45,418.76 231.70,419.01 231.95,419.18 232.20,419.29 232.45,419.31 232.70,419.21 232.95,418.95 233.20,418.51 233.45,418.12 233.70,418.18 233.95,418.71 234.20,419.30 234.45,419.62 234.70,419.71 234.95,419.70 235.20,419.68 235.45,419.66 235.70,419.50 235.95,419.22 236.20,418.97 236.45,418.88 236.70,418.90 236.95,418.95 237.20,418.99 237.45,419.00 237.70,419.10 237.95,419.30 238.20,419.47 238.45,419.52 238.70,419.46 238.95,419.37 239.20,419.28 239.45,419.25 239.70,419.25 239.95,419.23 240.20,419.23 240.45,419.23 240.70,419.30 240.95,419.40 241.20,419.50 241.45,419.54 241.70,419.54 241.95,419.54 242.20,419.54 242.45,419.55 242.70,419.59 242.95,419.66 243.20,419.72 243.45,419.74 243.70,419.62 243.95,419.42 244.20,419.24 244.45,419.18 244.70,419.12 244.95,419.03 245.20,418.95 245.45,418.93 245.70,419.05 245.95,419.25 246.20,419.44 246.45,419.50 246.70,419.38 246.95,419.18 247.20,418.99 247.45,418.94 247.70,419.04 247.95,419.21 248.20,419.37 248.45,419.42 248.70,419.48 248.95,419.57 249.20,419.65 249.45,419.67 249.70,419.58 249.95,419.42 250.20,419.28 250.45,419.23 250.70,419.26 250.95,419.31 251.20,419.35 251.45,419.36 251.70,419.27 251.95,419.12 252.20,418.99 252.45,418.94 252.70,418.93 252.95,418.93 253.20,418.93 253.45,418.94 253.70,419.03 253.95,419.19 254.20,419.33 254.45,419.39 254.70,419.46 254.95,419.56 255.20,419.65 255.45,419.70 255.70,419.74 255.95,419.80 256.20,419.85 256.45,419.87 256.70,419.69 256.95,419.38 257.20,419.10 257.45,419.01 257.70,419.17 257.95,419.44 258.20,419.68 258.45,419.75 258.70,419.65 258.95,419.49 259.20,419.35 259.45,419.29 259.70,419.23 259.95,419.16 260.20,419.09 260.45,419.06 260.70,419.05 260.95,419.05 261.20,419.06 261.45,419.05 261.70,419.08 261.95,419.14 262.20,419.19 262.45,419.21 262.70,419.17 262.95,419.10 263.20,419.05 263.45,419.03 263.70,419.00 263.95,418.95 264.20,418.90 264.45,418.89 264.70,419.04 264.95,419.28 265.20,419.50 265.45,419.57 265.70,419.55 265.95,419.51 266.20,419.48 266.45,419.47 266.70,419.47 266.95,419.45 267.20,419.44 267.45,419.44 267.70,419.48 267.95,419.54 268.20,419.59 268.45,419.62 268.70,419.68 268.95,419.79 269.20,419.88 269.45,419.91 269.70,419.77 269.95,419.52 270.20,419.29 270.45,419.22 270.70,419.34 270.95,419.54 271.20,419.72 271.45,419.77 271.70,419.75 271.95,419.73 272.20,419.71 272.45,419.68 272.70,419.57 272.95,419.39 273.20,419.22 273.45,419.15"/>
<rect x="19.2" y="419.9" width="254.6" height="1.3" fill="#9a9a9a"/>
<text x="246.8" y="269.6" text-anchor="start" font-family='"Liberation Sans", Arial, sans-serif' font-weight="bold" font-size="7.8" fill="#ec1c46" stroke="#ec1c46" stroke-width="0.3">8.0 kV</text>
<text x="247.3" y="303.7" text-anchor="start" font-family='"Liberation Sans", Arial, sans-serif' font-weight="bold" font-size="7.8" fill="#2ad42a" stroke="#2ad42a" stroke-width="0.3">7.0 kV</text>
<text x="247.1" y="339.3" text-anchor="start" font-family='"Liberation Sans", Arial, sans-serif' font-weight="bold" font-size="7.8" fill="#f26b2e" stroke="#f26b2e" stroke-width="0.3">6.0 kV</text>
<text x="247.1" y="376.0" text-anchor="start" font-family='"Liberation Sans", Arial, sans-serif' font-weight="bold" font-size="7.8" fill="#3c98ec" stroke="#3c98ec" stroke-width="0.3">5.0 kV</text>
<text x="247.1" y="409.7" text-anchor="start" font-family='"Liberation Sans", Arial, sans-serif' font-weight="bold" font-size="7.8" fill="#111" stroke="#111" stroke-width="0.3">4.0 kV</text>
<path d="M309.2,422.2 L309.2,233.7 L565.0,233.7 L565.0,422.2" fill="none" stroke="#1e1e1e" stroke-width="1.35" stroke-linejoin="round"/>
<line x1="308.59999999999997" y1="422.55" x2="565.6" y2="422.55" stroke="#141414" stroke-width="1.2"/>
<line x1="323.42" y1="422.2" x2="323.42" y2="424.8" stroke="#1e1e1e" stroke-width="1.1"/>
<line x1="351.87" y1="422.2" x2="351.87" y2="426.2" stroke="#1e1e1e" stroke-width="1.1"/>
<text x="351.87" y="435.5" text-anchor="middle" font-family='"Liberation Sans", Arial, sans-serif' font-weight="bold" font-size="9.5" fill="#111">1120</text>
<line x1="380.31" y1="422.2" x2="380.31" y2="424.8" stroke="#1e1e1e" stroke-width="1.1"/>
<line x1="408.76" y1="422.2" x2="408.76" y2="426.2" stroke="#1e1e1e" stroke-width="1.1"/>
<text x="408.76" y="435.5" text-anchor="middle" font-family='"Liberation Sans", Arial, sans-serif' font-weight="bold" font-size="9.5" fill="#111">1140</text>
<line x1="437.20" y1="422.2" x2="437.20" y2="424.8" stroke="#1e1e1e" stroke-width="1.1"/>
<line x1="465.64" y1="422.2" x2="465.64" y2="426.2" stroke="#1e1e1e" stroke-width="1.1"/>
<text x="465.64" y="435.5" text-anchor="middle" font-family='"Liberation Sans", Arial, sans-serif' font-weight="bold" font-size="9.5" fill="#111">1160</text>
<line x1="494.09" y1="422.2" x2="494.09" y2="424.8" stroke="#1e1e1e" stroke-width="1.1"/>
<line x1="522.53" y1="422.2" x2="522.53" y2="426.2" stroke="#1e1e1e" stroke-width="1.1"/>
<text x="522.53" y="435.5" text-anchor="middle" font-family='"Liberation Sans", Arial, sans-serif' font-weight="bold" font-size="9.5" fill="#111">1180</text>
<line x1="550.98" y1="422.2" x2="550.98" y2="424.8" stroke="#1e1e1e" stroke-width="1.1"/>
<text x="437.60" y="451.8" text-anchor="middle" font-family='"Liberation Sans", Arial, sans-serif' font-weight="bold" font-style="italic" font-size="9.2" fill="#111">m/z</text>
<text x="311.60" y="244.60" font-family='"Liberation Sans", Arial, sans-serif' font-weight="bold" font-size="10.6" fill="#111">D) Solvent Study</text>
<text transform="translate(299.3,333.0) rotate(-90)" text-anchor="middle" font-family='"Liberation Sans", Arial, sans-serif' font-style="italic" font-size="9.5" fill="#222">normalized intensity / a.u.</text>
<text x="349.20" y="277.9" font-family='"Liberation Sans", Arial, sans-serif' font-size="10.5" letter-spacing="0.25" fill="#80979f" stroke="#80979f" stroke-width="0.25">[N=]</text>
<text x="370.5" y="268.0" font-family='"Liberation Sans", Arial, sans-serif' font-size="6.2" fill="#80979f" stroke="#80979f" stroke-width="0.3">H+</text>
<text x="358.90" y="259.8" font-family='"Liberation Sans", Arial, sans-serif' font-size="10.5" letter-spacing="0.25" fill="#80979f" stroke="#80979f" stroke-width="0.25">[NH]</text>
<text x="382.2" y="249.9" font-family='"Liberation Sans", Arial, sans-serif' font-size="6.2" fill="#80979f" stroke="#80979f" stroke-width="0.3">H+</text>
<text x="408.60" y="270.8" font-family='"Liberation Sans", Arial, sans-serif' font-size="10.5" letter-spacing="0.25" fill="#80979f" stroke="#80979f" stroke-width="0.25">[N=]</text>
<text x="429.9" y="262.0" font-family='"Liberation Sans", Arial, sans-serif' font-size="6.2" fill="#80979f" stroke="#80979f" stroke-width="0.3">Na+</text>
<text x="424.90" y="255.9" font-family='"Liberation Sans", Arial, sans-serif' font-size="10.5" letter-spacing="0.25" fill="#80979f" stroke="#80979f" stroke-width="0.25">[NH]</text>
<text x="447.9" y="246.9" font-family='"Liberation Sans", Arial, sans-serif' font-size="6.2" fill="#80979f" stroke="#80979f" stroke-width="0.3">Na+</text>
<text x="475.60" y="267.4" font-family='"Liberation Sans", Arial, sans-serif' font-size="10.5" letter-spacing="0.25" fill="#80979f" stroke="#80979f" stroke-width="0.25">[T=]</text>
<text x="495.6" y="258.1" font-family='"Liberation Sans", Arial, sans-serif' font-size="6.2" fill="#80979f" stroke="#80979f" stroke-width="0.3">Na+</text>
<text x="491.20" y="250.4" font-family='"Liberation Sans", Arial, sans-serif' font-size="10.5" letter-spacing="0.25" fill="#80979f" stroke="#80979f" stroke-width="0.25">[TH]</text>
<text x="512.9" y="241.0" font-family='"Liberation Sans", Arial, sans-serif' font-size="6.2" fill="#80979f" stroke="#80979f" stroke-width="0.3">Na+</text>
<polyline fill="none" stroke="#2ad42a" stroke-width="1.2" stroke-linejoin="round" points="310.00,303.39 310.25,303.39 310.50,303.44 310.75,303.54 311.00,303.63 311.25,303.64 311.50,303.53 311.75,303.36 312.00,303.21 312.25,303.14 312.50,303.14 312.75,303.13 313.00,303.14 313.25,303.13 313.50,303.14 313.75,303.17 314.00,303.20 314.25,303.22 314.50,303.15 314.75,303.04 315.00,302.95 315.25,302.94 315.50,303.02 315.75,303.16 316.00,303.28 316.25,303.33 316.50,303.38 316.75,303.43 317.00,303.48 317.25,303.50 317.50,303.54 317.75,303.59 318.00,303.63 318.25,303.62 318.50,303.47 318.75,303.22 319.00,302.99 319.25,302.90 319.50,302.90 319.75,302.93 320.00,302.96 320.25,302.94 320.50,302.87 320.75,302.77 321.00,302.69 321.25,302.66 321.50,302.78 321.75,303.01 322.00,303.22 322.25,303.29 322.50,303.29 322.75,303.27 323.00,303.27 323.25,303.28 323.50,303.20 323.75,303.02 324.00,302.88 324.25,302.86 324.50,303.08 324.75,303.42 325.00,303.72 325.25,303.84 325.50,303.86 325.75,303.87 326.00,303.88 326.25,303.88 326.50,303.82 326.75,303.72 327.00,303.62 327.25,303.57 327.50,303.54 327.75,303.51 328.00,303.47 328.25,303.44 328.50,303.33 328.75,303.16 329.00,303.01 329.25,302.94 329.50,302.91 329.75,302.85 330.00,302.81 330.25,302.80 330.50,302.90 330.75,303.08 331.00,303.24 331.25,303.31 331.50,303.24 331.75,303.11 332.00,303.00 332.25,302.99 332.50,303.03 332.75,303.10 333.00,303.15 333.25,303.18 333.50,303.20 333.75,303.23 334.00,303.24 334.25,303.24 334.50,303.19 334.75,303.11 335.00,303.03 335.25,302.99 335.50,303.04 335.75,303.16 336.00,303.25 336.25,303.26 336.50,303.23 336.75,303.19 337.00,303.16 337.25,303.14 337.50,303.19 337.75,303.31 338.00,303.41 338.25,303.44 338.50,303.38 338.75,303.28 339.00,303.20 339.25,303.19 339.50,303.23 339.75,303.29 340.00,303.35 340.25,303.39 340.50,303.39 340.75,303.37 341.00,303.36 341.25,303.38 341.50,303.43 341.75,303.51 342.00,303.58 342.25,303.61 342.50,303.59 342.75,303.53 343.00,303.48 343.25,303.46 343.50,303.43 343.75,303.37 344.00,303.31 344.25,303.29 344.50,303.41 344.75,303.63 345.00,303.82 345.25,303.87 345.50,303.85 345.75,303.83 346.00,303.81 346.25,303.79 346.50,303.74 346.75,303.67 347.00,303.61 347.25,303.57 347.50,303.53 347.75,303.48 348.00,303.43 348.25,303.41 348.50,303.33 348.75,303.20 349.00,303.08 349.25,303.05 349.50,303.03 349.75,303.01 350.00,303.00 350.25,303.00 350.50,303.03 350.75,303.06 351.00,303.10 351.25,303.12 351.50,303.09 351.75,303.04 352.00,302.99 352.25,303.00 352.50,303.14 352.75,303.38 353.00,303.59 353.25,303.66 353.50,303.59 353.75,303.47 354.00,303.37 354.25,303.33 354.50,303.40 354.75,303.53 355.00,303.64 355.25,303.65 355.50,303.54 355.75,303.37 356.00,303.21 356.25,303.14 356.50,303.22 356.75,303.38 357.00,303.52 357.25,303.55 357.50,303.51 357.75,303.46 358.00,303.42 358.25,303.40 358.50,303.24 358.75,302.97 359.00,302.74 359.25,302.67 359.50,302.73 359.75,302.81 360.00,302.89 360.25,302.94 360.50,303.09 360.75,303.34 361.00,303.56 361.25,303.64 361.50,303.57 361.75,303.43 362.00,303.31 362.25,303.26 362.50,303.35 362.75,303.49 363.00,303.61 363.25,303.62 363.50,303.46 363.75,303.23 364.00,303.00 364.25,302.88 364.50,302.76 364.75,302.59 365.00,302.43 365.25,302.34 365.50,302.38 365.75,302.45 366.00,302.32 366.25,301.59 366.50,300.25 366.75,298.99 367.00,298.90 367.25,300.09 367.50,301.46 367.75,302.23 368.00,302.48 368.25,302.57 368.50,302.52 368.75,302.19 369.00,301.43 369.25,300.47 369.50,300.10 369.75,300.75 370.00,301.90 370.25,302.77 370.50,303.28 370.75,303.59 371.00,303.71 371.25,303.49 371.50,302.93 371.75,302.36 372.00,302.21 372.25,302.59 372.50,302.97 372.75,303.05 373.00,302.95 373.25,302.88 373.50,302.88 373.75,302.89 374.00,302.90 374.25,302.90 374.50,302.86 374.75,302.81 375.00,302.77 375.25,302.77 375.50,302.79 375.75,302.80 376.00,302.82 376.25,302.86 376.50,303.04 376.75,303.31 377.00,303.57 377.25,303.67 377.50,303.59 377.75,303.42 378.00,303.27 378.25,303.23 378.50,303.32 378.75,303.44 379.00,303.55 379.25,303.58 379.50,303.55 379.75,303.49 380.00,303.43 380.25,303.39 380.50,303.31 380.75,303.20 381.00,303.09 381.25,303.04 381.50,303.12 381.75,303.27 382.00,303.40 382.25,303.44 382.50,303.31 382.75,303.12 383.00,302.95 383.25,302.90 383.50,303.01 383.75,303.19 384.00,303.36 384.25,303.43 384.50,303.36 384.75,303.21 385.00,303.08 385.25,303.05 385.50,303.13 385.75,303.24 386.00,303.33 386.25,303.36 386.50,303.32 386.75,303.25 387.00,303.17 387.25,303.14 387.50,303.12 387.75,303.12 388.00,303.10 388.25,303.08 388.50,303.18 388.75,303.38 389.00,303.56 389.25,303.60 389.50,303.55 389.75,303.48 390.00,303.42 390.25,303.40 390.50,303.31 390.75,303.16 391.00,303.03 391.25,303.01 391.50,303.14 391.75,303.36 392.00,303.56 392.25,303.64 392.50,303.54 392.75,303.36 393.00,303.19 393.25,303.16 393.50,303.21 393.75,303.29 394.00,303.35 394.25,303.38 394.50,303.46 394.75,303.60 395.00,303.72 395.25,303.75 395.50,303.68 395.75,303.59 396.00,303.50 396.25,303.44 396.50,303.31 396.75,303.10 397.00,302.91 397.25,302.84 397.50,302.98 397.75,303.25 398.00,303.49 398.25,303.55 398.50,303.40 398.75,303.15 399.00,302.93 399.25,302.86 399.50,302.88 399.75,302.91 400.00,302.94 400.25,302.97 400.50,303.08 400.75,303.27 401.00,303.44 401.25,303.50 401.50,303.43 401.75,303.29 402.00,303.17 402.25,303.13 402.50,303.12 402.75,303.11 403.00,303.09 403.25,303.08 403.50,303.03 403.75,302.94 404.00,302.86 404.25,302.83 404.50,302.82 404.75,302.81 405.00,302.81 405.25,302.81 405.50,302.90 405.75,303.06 406.00,303.20 406.25,303.25 406.50,303.20 406.75,303.11 407.00,303.03 407.25,303.02 407.50,303.10 407.75,303.24 408.00,303.37 408.25,303.42 408.50,303.40 408.75,303.35 409.00,303.30 409.25,303.29 409.50,303.31 409.75,303.35 410.00,303.37 410.25,303.38 410.50,303.47 410.75,303.63 411.00,303.77 411.25,303.80 411.50,303.69 411.75,303.52 412.00,303.36 412.25,303.30 412.50,303.30 412.75,303.31 413.00,303.32 413.25,303.32 413.50,303.36 413.75,303.45 414.00,303.53 414.25,303.55 414.50,303.42 414.75,303.21 415.00,303.01 415.25,302.96 415.50,302.97 415.75,302.97 416.00,302.98 416.25,302.99 416.50,303.15 416.75,303.41 417.00,303.65 417.25,303.74 417.50,303.73 417.75,303.72 418.00,303.71 418.25,303.71 418.50,303.61 418.75,303.44 419.00,303.28 419.25,303.24 419.50,303.23 419.75,303.22 420.00,303.20 420.25,303.20 420.50,303.30 420.75,303.48 421.00,303.63 421.25,303.68 421.50,303.71 421.75,303.76 422.00,303.81 422.25,303.81 422.50,303.66 422.75,303.41 423.00,303.18 423.25,303.10 423.50,303.22 423.75,303.45 424.00,303.65 424.25,303.70 424.50,303.67 424.75,303.64 425.00,303.60 425.25,303.58 425.50,303.52 425.75,303.42 426.00,303.34 426.25,303.31 426.50,303.27 426.75,303.22 427.00,303.17 427.25,303.16 427.50,303.11 427.75,303.02 428.00,302.95 428.25,302.93 428.50,302.93 428.75,302.93 429.00,302.92 429.25,302.94 429.50,303.12 429.75,303.43 430.00,303.70 430.25,303.79 430.50,303.65 430.75,303.41 431.00,303.19 431.25,303.12 431.50,303.19 431.75,303.32 432.00,303.44 432.25,303.46 432.50,303.36 432.75,303.20 433.00,303.05 433.25,302.99 433.50,303.09 433.75,303.26 434.00,303.41 434.25,303.46 434.50,303.42 434.75,303.35 435.00,303.29 435.25,303.28 435.50,303.24 435.75,303.16 436.00,303.09 436.25,303.09 436.50,303.08 436.75,303.07 437.00,303.05 437.25,303.05 437.50,303.09 437.75,302.85 438.00,301.35 438.25,297.35 438.50,291.36 438.75,287.34 439.00,288.89 439.25,294.43 439.50,299.48 439.75,302.01 440.00,302.80 440.25,302.93 440.50,302.89 440.75,302.56 441.00,301.30 441.25,298.63 441.50,295.67 441.75,294.82 442.00,296.91 442.25,300.05 442.50,302.16 442.75,302.97 443.00,303.14 443.25,303.11 443.50,302.64 443.75,300.72 444.00,295.69 444.25,287.63 444.50,281.30 444.75,282.39 445.00,289.97 445.25,297.73 445.50,301.87 445.75,303.11 446.00,303.23 446.25,303.15 446.50,302.73 446.75,301.26 447.00,298.06 447.25,294.03 447.50,292.10 447.75,294.12 448.00,298.17 448.25,301.30 448.50,302.72 448.75,303.14 449.00,303.22 449.25,303.15 449.50,302.82 449.75,301.99 450.00,300.63 450.25,299.40 450.50,299.27 450.75,300.33 451.00,301.65 451.25,302.46 451.50,302.80 451.75,302.94 452.00,303.03 452.25,303.07 452.50,303.11 452.75,303.12 453.00,302.99 453.25,302.67 453.50,302.33 453.75,302.25 454.00,302.47 454.25,302.79 454.50,303.04 454.75,303.19 455.00,303.28 455.25,303.31 455.50,303.40 455.75,303.57 456.00,303.72 456.25,303.76 456.50,303.76 456.75,303.78 457.00,303.79 457.25,303.78 457.50,303.71 457.75,303.60 458.00,303.50 458.25,303.46 458.50,303.47 458.75,303.48 459.00,303.49 459.25,303.50 459.50,303.49 459.75,303.47 460.00,303.45 460.25,303.45 460.50,303.38 460.75,303.24 461.00,303.13 461.25,303.09 461.50,303.08 461.75,303.05 462.00,303.02 462.25,303.01 462.50,303.00 462.75,302.99 463.00,302.98 463.25,302.97 463.50,303.13 463.75,303.40 464.00,303.64 464.25,303.71 464.50,303.66 464.75,303.58 465.00,303.51 465.25,303.48 465.50,303.52 465.75,303.60 466.00,303.67 466.25,303.69 466.50,303.52 466.75,303.22 467.00,302.95 467.25,302.87 467.50,303.00 467.75,303.20 468.00,303.39 468.25,303.45 468.50,303.43 468.75,303.38 469.00,303.34 469.25,303.32 469.50,303.37 469.75,303.44 470.00,303.51 470.25,303.52 470.50,303.43 470.75,303.29 471.00,303.16 471.25,303.12 471.50,303.23 471.75,303.45 472.00,303.64 472.25,303.69 472.50,303.52 472.75,303.22 473.00,302.95 473.25,302.88 473.50,302.97 473.75,303.14 474.00,303.28 474.25,303.34 474.50,303.39 474.75,303.46 475.00,303.53 475.25,303.55 475.50,303.59 475.75,303.64 476.00,303.69 476.25,303.70 476.50,303.65 476.75,303.59 477.00,303.52 477.25,303.48 477.50,303.45 477.75,303.41 478.00,303.37 478.25,303.33 478.50,303.32 478.75,303.32 479.00,303.31 479.25,303.30 479.50,303.30 479.75,303.33 480.00,303.36 480.25,303.36 480.50,303.26 480.75,303.09 481.00,302.95 481.25,302.93 481.50,303.02 481.75,303.16 482.00,303.30 482.25,303.38 482.50,303.46 482.75,303.58 483.00,303.68 483.25,303.75 483.50,303.78 483.75,303.80 484.00,303.82 484.25,303.83 484.50,303.76 484.75,303.62 485.00,303.48 485.25,303.43 485.50,303.48 485.75,303.58 486.00,303.66 486.25,303.66 486.50,303.64 486.75,303.63 487.00,303.61 487.25,303.58 487.50,303.50 487.75,303.37 488.00,303.26 488.25,303.22 488.50,303.22 488.75,303.23 489.00,303.24 489.25,303.25 489.50,303.22 489.75,303.17 490.00,303.12 490.25,303.13 490.50,303.20 490.75,303.30 491.00,303.39 491.25,303.44 491.50,303.47 491.75,303.51 492.00,303.54 492.25,303.56 492.50,303.47 492.75,303.31 493.00,303.16 493.25,303.11 493.50,303.20 493.75,303.36 494.00,303.50 494.25,303.54 494.50,303.57 494.75,303.66 495.00,303.73 495.25,303.74 495.50,303.69 495.75,303.63 496.00,303.58 496.25,303.55 496.50,303.52 496.75,303.46 497.00,303.42 497.25,303.41 497.50,303.36 497.75,303.27 498.00,303.19 498.25,303.18 498.50,303.28 498.75,303.42 499.00,303.54 499.25,303.60 499.50,303.60 499.75,303.57 500.00,303.55 500.25,303.55 500.50,303.53 500.75,303.49 501.00,303.45 501.25,303.44 501.50,303.50 501.75,303.62 502.00,303.71 502.25,303.70 502.50,303.35 502.75,302.16 503.00,298.93 503.25,292.86 503.50,286.28 503.75,284.38 504.00,289.06 504.25,296.06 504.50,300.72 504.75,302.44 505.00,302.73 505.25,302.72 505.50,302.68 505.75,302.17 506.00,300.26 506.25,296.55 506.50,292.93 506.75,292.50 507.00,295.67 507.25,299.64 507.50,302.06 507.75,302.91 508.00,303.06 508.25,303.01 508.50,302.52 508.75,300.20 509.00,293.64 509.25,282.80 509.50,274.01 509.75,275.09 510.00,284.96 510.25,295.30 510.50,301.05 510.75,303.02 511.00,303.46 511.25,303.46 511.50,303.08 511.75,301.52 512.00,297.54 512.25,291.69 512.50,287.76 512.75,289.28 513.00,294.69 513.25,299.65 513.50,302.09 513.75,302.77 514.00,302.83 514.25,302.78 514.50,302.63 514.75,302.07 515.00,300.70 515.25,298.89 515.50,298.06 515.75,299.06 516.00,300.98 516.25,302.43 516.50,302.97 516.75,303.00 517.00,302.89 517.25,302.84 517.50,302.79 517.75,302.62 518.00,302.24 518.25,301.78 518.50,301.70 518.75,302.18 519.00,302.88 519.25,303.33 519.50,303.46 519.75,303.44 520.00,303.39 520.25,303.34 520.50,303.16 520.75,302.74 521.00,302.17 521.25,301.82 521.50,302.06 521.75,302.70 522.00,303.26 522.25,303.52 522.50,303.47 522.75,303.29 523.00,303.11 523.25,302.99 523.50,302.86 523.75,302.58 524.00,302.25 524.25,302.14 524.50,302.34 524.75,302.63 525.00,302.80 525.25,302.89 525.50,302.97 525.75,303.07 526.00,303.15 526.25,303.20 526.50,303.29 526.75,303.43 527.00,303.56 527.25,303.62 527.50,303.66 527.75,303.71 528.00,303.76 528.25,303.78 528.50,303.78 528.75,303.78 529.00,303.77 529.25,303.76 529.50,303.66 529.75,303.49 530.00,303.33 530.25,303.27 530.50,303.29 530.75,303.33 531.00,303.37 531.25,303.36 531.50,303.29 531.75,303.19 532.00,303.10 532.25,303.06 532.50,303.02 532.75,302.96 533.00,302.92 533.25,302.91 533.50,302.99 533.75,303.13 534.00,303.25 534.25,303.32 534.50,303.41 534.75,303.55 535.00,303.68 535.25,303.75 535.50,303.78 535.75,303.81 536.00,303.84 536.25,303.86 536.50,303.84 536.75,303.81 537.00,303.77 537.25,303.75 537.50,303.79 537.75,303.85 538.00,303.89 538.25,303.88 538.50,303.73 538.75,303.48 539.00,303.25 539.25,303.15 539.50,303.09 539.75,303.02 540.00,302.96 540.25,302.92 540.50,302.95 540.75,303.03 541.00,303.10 541.25,303.12 541.50,303.08 541.75,303.03 542.00,302.99 542.25,302.99 542.50,303.00 542.75,303.00 543.00,303.00 543.25,303.02 543.50,303.08 543.75,303.17 544.00,303.25 544.25,303.28 544.50,303.33 544.75,303.41 545.00,303.47 545.25,303.48 545.50,303.45 545.75,303.40 546.00,303.34 546.25,303.31 546.50,303.26 546.75,303.18 547.00,303.10 547.25,303.07 547.50,303.15 547.75,303.31 548.00,303.45 548.25,303.49 548.50,303.52 548.75,303.57 549.00,303.62 549.25,303.65 549.50,303.57 549.75,303.43 550.00,303.31 550.25,303.29 550.50,303.25 550.75,303.16 551.00,303.08 551.25,303.08 551.50,303.09 551.75,303.10 552.00,303.10 552.25,303.11 552.50,303.27 552.75,303.54 553.00,303.77 553.25,303.82 553.50,303.63 553.75,303.33 554.00,303.05 554.25,302.94 554.50,303.02 554.75,303.19 555.00,303.34 555.25,303.36 555.50,303.30 555.75,303.22 556.00,303.15 556.25,303.11 556.50,303.05 556.75,302.96 557.00,302.89 557.25,302.87 557.50,302.98 557.75,303.16 558.00,303.33 558.25,303.40 558.50,303.29 558.75,303.08 559.00,302.89 559.25,302.86 559.50,302.92 559.75,302.98 560.00,303.04 560.25,303.07 560.50,303.15 560.75,303.25 561.00,303.34 561.25,303.36 561.50,303.27 561.75,303.11 562.00,302.96 562.25,302.89 562.50,303.01 562.75,303.23 563.00,303.43 563.25,303.47 563.50,303.32 563.75,303.10 564.00,302.91"/>
<polyline fill="none" stroke="#f26b2e" stroke-width="1.2" stroke-linejoin="round" points="310.00,342.57 310.25,342.56 310.50,342.55 310.75,342.53 311.00,342.51 311.25,342.49 311.50,342.38 311.75,342.20 312.00,342.04 312.25,341.99 312.50,341.96 312.75,341.92 313.00,341.89 313.25,341.89 313.50,341.98 313.75,342.11 314.00,342.24 314.25,342.30 314.50,342.30 314.75,342.29 315.00,342.29 315.25,342.30 315.50,342.42 315.75,342.61 316.00,342.78 316.25,342.84 316.50,342.82 316.75,342.79 317.00,342.75 317.25,342.72 317.50,342.69 317.75,342.65 318.00,342.60 318.25,342.56 318.50,342.53 318.75,342.48 319.00,342.44 319.25,342.41 319.50,342.40 319.75,342.40 320.00,342.40 320.25,342.39 320.50,342.27 320.75,342.09 321.00,341.93 321.25,341.88 321.50,341.93 321.75,342.03 322.00,342.12 322.25,342.16 322.50,342.12 322.75,342.05 323.00,341.99 323.25,341.98 323.50,342.14 323.75,342.40 324.00,342.63 324.25,342.72 324.50,342.57 324.75,342.31 325.00,342.07 325.25,342.01 325.50,342.15 325.75,342.40 326.00,342.62 326.25,342.68 326.50,342.53 326.75,342.29 327.00,342.07 327.25,342.00 327.50,342.11 327.75,342.30 328.00,342.48 328.25,342.54 328.50,342.48 328.75,342.37 329.00,342.28 329.25,342.27 329.50,342.30 329.75,342.34 330.00,342.38 330.25,342.42 330.50,342.53 330.75,342.70 331.00,342.85 331.25,342.91 331.50,342.78 331.75,342.53 332.00,342.31 332.25,342.24 332.50,342.25 332.75,342.27 333.00,342.27 333.25,342.27 333.50,342.41 333.75,342.66 334.00,342.87 334.25,342.92 334.50,342.80 334.75,342.63 335.00,342.47 335.25,342.38 335.50,342.26 335.75,342.08 336.00,341.92 336.25,341.85 336.50,341.99 336.75,342.25 337.00,342.49 337.25,342.56 337.50,342.55 337.75,342.53 338.00,342.53 338.25,342.53 338.50,342.39 338.75,342.14 339.00,341.92 339.25,341.88 339.50,341.96 339.75,342.09 340.00,342.22 340.25,342.27 340.50,342.24 340.75,342.18 341.00,342.11 341.25,342.11 341.50,342.15 341.75,342.22 342.00,342.27 342.25,342.29 342.50,342.34 342.75,342.44 343.00,342.51 343.25,342.53 343.50,342.43 343.75,342.26 344.00,342.12 344.25,342.06 344.50,342.15 344.75,342.32 345.00,342.47 345.25,342.51 345.50,342.39 345.75,342.19 346.00,342.01 346.25,341.97 346.50,342.01 346.75,342.06 347.00,342.12 347.25,342.16 347.50,342.30 347.75,342.53 348.00,342.74 348.25,342.82 348.50,342.75 348.75,342.63 349.00,342.52 349.25,342.49 349.50,342.49 349.75,342.49 350.00,342.48 350.25,342.47 350.50,342.48 350.75,342.52 351.00,342.54 351.25,342.53 351.50,342.48 351.75,342.42 352.00,342.36 352.25,342.32 352.50,342.28 352.75,342.24 353.00,342.20 353.25,342.18 353.50,342.11 353.75,342.00 354.00,341.91 354.25,341.90 354.50,342.05 354.75,342.30 355.00,342.53 355.25,342.63 355.50,342.71 355.75,342.82 356.00,342.92 356.25,342.98 356.50,343.01 356.75,343.03 357.00,343.06 357.25,343.07 357.50,343.02 357.75,342.92 358.00,342.83 358.25,342.79 358.50,342.71 358.75,342.59 359.00,342.47 359.25,342.41 359.50,342.38 359.75,342.34 360.00,342.31 360.25,342.27 360.50,342.30 360.75,342.37 361.00,342.43 361.25,342.43 361.50,342.40 361.75,342.38 362.00,342.36 362.25,342.35 362.50,342.24 362.75,342.06 363.00,341.90 363.25,341.86 363.50,341.89 363.75,341.94 364.00,341.98 364.25,342.00 364.50,342.02 364.75,342.05 365.00,342.08 365.25,342.05 365.50,341.96 365.75,341.62 366.00,340.66 366.25,339.08 366.50,337.83 366.75,338.00 367.00,339.40 367.25,340.80 367.50,341.46 367.75,341.54 368.00,341.39 368.25,341.15 368.50,340.52 368.75,339.37 369.00,338.14 369.25,337.75 369.50,338.61 369.75,339.98 370.00,341.00 370.25,341.43 370.50,341.50 370.75,341.46 371.00,341.41 371.25,341.40 371.50,341.28 371.75,340.93 372.00,340.53 372.25,340.47 372.50,340.86 372.75,341.40 373.00,341.77 373.25,341.97 373.50,342.11 373.75,342.24 374.00,342.33 374.25,342.31 374.50,342.01 374.75,341.07 375.00,339.37 375.25,337.74 375.50,337.62 375.75,339.17 376.00,341.06 376.25,342.18 376.50,342.45 376.75,342.31 377.00,342.10 377.25,341.94 377.50,341.71 377.75,341.22 378.00,340.65 378.25,340.48 378.50,340.90 378.75,341.53 379.00,341.96 379.25,342.16 379.50,342.34 379.75,342.55 380.00,342.68 380.25,342.49 380.50,341.52 380.75,339.58 381.00,337.45 381.25,336.80 381.50,338.20 381.75,340.34 382.00,341.83 382.25,342.43 382.50,342.55 382.75,342.41 383.00,341.84 383.25,340.69 383.50,339.44 383.75,339.10 384.00,339.99 384.25,341.28 384.50,342.03 384.75,342.16 385.00,342.03 385.25,341.94 385.50,341.97 385.75,342.06 386.00,342.14 386.25,342.14 386.50,342.06 386.75,341.96 387.00,341.87 387.25,341.84 387.50,341.86 387.75,341.88 388.00,341.92 388.25,341.94 388.50,341.99 388.75,342.08 389.00,342.16 389.25,342.20 389.50,342.32 389.75,342.49 390.00,342.65 390.25,342.71 390.50,342.63 390.75,342.49 391.00,342.36 391.25,342.32 391.50,342.41 391.75,342.55 392.00,342.68 392.25,342.71 392.50,342.55 392.75,342.29 393.00,342.05 393.25,341.97 393.50,342.11 393.75,342.34 394.00,342.56 394.25,342.63 394.50,342.53 394.75,342.37 395.00,342.22 395.25,342.19 395.50,342.18 395.75,342.15 396.00,342.13 396.25,342.15 396.50,342.29 396.75,342.50 397.00,342.70 397.25,342.78 397.50,342.84 397.75,342.91 398.00,342.97 398.25,342.99 398.50,342.83 398.75,342.53 399.00,342.26 399.25,342.16 399.50,342.19 399.75,342.25 400.00,342.29 400.25,342.28 400.50,342.34 400.75,342.46 401.00,342.57 401.25,342.57 401.50,342.45 401.75,342.28 402.00,342.12 402.25,342.06 402.50,342.02 402.75,341.98 403.00,341.94 403.25,341.93 403.50,341.90 403.75,341.84 404.00,341.79 404.25,341.79 404.50,341.83 404.75,341.88 405.00,341.92 405.25,341.97 405.50,342.11 405.75,342.34 406.00,342.54 406.25,342.63 406.50,342.72 406.75,342.86 407.00,342.99 407.25,343.03 407.50,343.04 407.75,343.04 408.00,343.04 408.25,343.03 408.50,342.92 408.75,342.74 409.00,342.57 409.25,342.50 409.50,342.39 409.75,342.20 410.00,342.04 410.25,341.98 410.50,342.01 410.75,342.09 411.00,342.17 411.25,342.19 411.50,342.28 411.75,342.43 412.00,342.57 412.25,342.62 412.50,342.64 412.75,342.67 413.00,342.70 413.25,342.72 413.50,342.70 413.75,342.66 414.00,342.62 414.25,342.61 414.50,342.54 414.75,342.42 415.00,342.30 415.25,342.26 415.50,342.31 415.75,342.39 416.00,342.46 416.25,342.47 416.50,342.43 416.75,342.39 417.00,342.35 417.25,342.32 417.50,342.32 417.75,342.34 418.00,342.36 418.25,342.35 418.50,342.26 418.75,342.13 419.00,342.02 419.25,341.98 419.50,342.12 419.75,342.35 420.00,342.56 420.25,342.64 420.50,342.65 420.75,342.67 421.00,342.68 421.25,342.70 421.50,342.60 421.75,342.40 422.00,342.22 422.25,342.18 422.50,342.23 422.75,342.29 423.00,342.35 423.25,342.37 423.50,342.49 423.75,342.68 424.00,342.84 424.25,342.89 424.50,342.76 424.75,342.55 425.00,342.36 425.25,342.28 425.50,342.38 425.75,342.57 426.00,342.73 426.25,342.77 426.50,342.67 426.75,342.51 427.00,342.37 427.25,342.32 427.50,342.35 427.75,342.41 428.00,342.47 428.25,342.49 428.50,342.51 428.75,342.53 429.00,342.56 429.25,342.58 429.50,342.51 429.75,342.38 430.00,342.27 430.25,342.25 430.50,342.29 430.75,342.33 431.00,342.37 431.25,342.39 431.50,342.39 431.75,342.38 432.00,342.37 432.25,342.36 432.50,342.43 432.75,342.55 433.00,342.65 433.25,342.66 433.50,342.63 433.75,342.60 434.00,342.57 434.25,342.54 434.50,342.40 434.75,342.19 435.00,342.00 435.25,341.93 435.50,342.05 435.75,342.28 436.00,342.48 436.25,342.54 436.50,342.46 436.75,342.31 437.00,342.18 437.25,342.14 437.50,342.03 437.75,341.49 438.00,339.53 438.25,334.83 438.50,328.07 438.75,323.74 439.00,325.85 439.25,332.42 439.50,338.39 439.75,341.49 440.00,342.56 440.25,342.78 440.50,342.63 440.75,342.03 441.00,340.40 441.25,337.33 441.50,333.96 441.75,332.92 442.00,335.21 442.25,338.73 442.50,341.21 442.75,342.29 443.00,342.63 443.25,342.62 443.50,342.15 443.75,340.11 444.00,334.59 444.25,325.61 444.50,318.35 444.75,319.25 445.00,327.42 445.25,335.98 445.50,340.67 445.75,342.19 446.00,342.46 446.25,342.42 446.50,342.01 446.75,340.43 447.00,336.82 447.25,332.14 447.50,329.92 447.75,332.31 448.00,337.11 448.25,340.81 448.50,342.43 448.75,342.84 449.00,342.86 449.25,342.79 449.50,342.52 449.75,341.85 450.00,340.73 450.25,339.69 450.50,339.49 450.75,340.24 451.00,341.20 451.25,341.80 451.50,342.01 451.75,342.05 452.00,342.04 452.25,342.02 452.50,342.05 452.75,342.08 453.00,341.96 453.25,341.64 453.50,341.33 453.75,341.32 454.00,341.61 454.25,341.95 454.50,342.05 454.75,341.96 455.00,341.84 455.25,341.82 455.50,341.98 455.75,342.23 456.00,342.45 456.25,342.53 456.50,342.59 456.75,342.66 457.00,342.73 457.25,342.76 457.50,342.75 457.75,342.72 458.00,342.69 458.25,342.69 458.50,342.71 458.75,342.74 459.00,342.77 459.25,342.79 459.50,342.79 459.75,342.80 460.00,342.81 460.25,342.82 460.50,342.76 460.75,342.66 461.00,342.56 461.25,342.55 461.50,342.61 461.75,342.71 462.00,342.80 462.25,342.84 462.50,342.78 462.75,342.67 463.00,342.56 463.25,342.53 463.50,342.49 463.75,342.40 464.00,342.32 464.25,342.29 464.50,342.33 464.75,342.40 465.00,342.45 465.25,342.46 465.50,342.43 465.75,342.39 466.00,342.35 466.25,342.32 466.50,342.40 466.75,342.58 467.00,342.73 467.25,342.76 467.50,342.69 467.75,342.58 468.00,342.49 468.25,342.46 468.50,342.42 468.75,342.36 469.00,342.32 469.25,342.31 469.50,342.33 469.75,342.36 470.00,342.40 470.25,342.42 470.50,342.34 470.75,342.19 471.00,342.07 471.25,342.04 471.50,342.14 471.75,342.28 472.00,342.41 472.25,342.46 472.50,342.50 472.75,342.56 473.00,342.61 473.25,342.62 473.50,342.56 473.75,342.45 474.00,342.36 474.25,342.31 474.50,342.27 474.75,342.21 475.00,342.15 475.25,342.12 475.50,342.13 475.75,342.17 476.00,342.20 476.25,342.20 476.50,342.18 476.75,342.14 477.00,342.11 477.25,342.10 477.50,342.17 477.75,342.29 478.00,342.40 478.25,342.43 478.50,342.34 478.75,342.17 479.00,342.02 479.25,341.98 479.50,341.98 479.75,341.97 480.00,341.97 480.25,341.97 480.50,342.02 480.75,342.09 481.00,342.16 481.25,342.18 481.50,342.25 481.75,342.38 482.00,342.48 482.25,342.51 482.50,342.52 482.75,342.54 483.00,342.55 483.25,342.55 483.50,342.53 483.75,342.49 484.00,342.46 484.25,342.45 484.50,342.50 484.75,342.60 485.00,342.68 485.25,342.71 485.50,342.62 485.75,342.45 486.00,342.29 486.25,342.25 486.50,342.21 486.75,342.11 487.00,342.03 487.25,342.02 487.50,342.12 487.75,342.29 488.00,342.43 488.25,342.49 488.50,342.49 488.75,342.48 489.00,342.47 489.25,342.47 489.50,342.42 489.75,342.34 490.00,342.26 490.25,342.24 490.50,342.33 490.75,342.48 491.00,342.62 491.25,342.65 491.50,342.59 491.75,342.48 492.00,342.39 492.25,342.35 492.50,342.33 492.75,342.30 493.00,342.28 493.25,342.28 493.50,342.30 493.75,342.34 494.00,342.37 494.25,342.40 494.50,342.52 494.75,342.73 495.00,342.92 495.25,342.98 495.50,342.82 495.75,342.52 496.00,342.26 496.25,342.18 496.50,342.24 496.75,342.36 497.00,342.45 497.25,342.48 497.50,342.45 497.75,342.41 498.00,342.37 498.25,342.35 498.50,342.31 498.75,342.27 499.00,342.22 499.25,342.19 499.50,342.21 499.75,342.25 500.00,342.29 500.25,342.29 500.50,342.22 500.75,342.13 501.00,342.04 501.25,342.01 501.50,342.12 501.75,342.32 502.00,342.50 502.25,342.53 502.50,342.25 502.75,341.16 503.00,338.01 503.25,331.89 503.50,325.13 503.75,323.07 504.00,327.71 504.25,334.79 504.50,339.58 504.75,341.40 505.00,341.76 505.25,341.78 505.50,341.69 505.75,341.07 506.00,339.03 506.25,335.20 506.50,331.53 506.75,331.16 507.00,334.49 507.25,338.59 507.50,341.17 507.75,342.19 508.00,342.49 508.25,342.48 508.50,341.79 508.75,339.08 509.00,332.09 509.25,320.95 509.50,312.08 509.75,313.33 510.00,323.55 510.25,334.15 510.50,340.08 510.75,342.21 511.00,342.77 511.25,342.82 511.50,342.41 511.75,340.79 512.00,336.79 512.25,331.01 512.50,327.15 512.75,328.69 513.00,334.07 513.25,338.98 513.50,341.51 513.75,342.37 514.00,342.60 514.25,342.60 514.50,342.43 514.75,341.81 515.00,340.34 515.25,338.41 515.50,337.38 515.75,338.18 516.00,339.99 516.25,341.45 516.50,342.17 516.75,342.43 517.00,342.53 517.25,342.54 517.50,342.48 517.75,342.29 518.00,341.91 518.25,341.43 518.50,341.24 518.75,341.57 519.00,342.12 519.25,342.52 519.50,342.60 519.75,342.51 520.00,342.39 520.25,342.31 520.50,342.19 520.75,341.87 521.00,341.40 521.25,341.08 521.50,341.17 521.75,341.56 522.00,341.91 522.25,342.10 522.50,342.25 522.75,342.39 523.00,342.50 523.25,342.48 523.50,342.23 523.75,341.73 524.00,341.20 524.25,341.04 524.50,341.38 524.75,341.88 525.00,342.25 525.25,342.40 525.50,342.42 525.75,342.39 526.00,342.36 526.25,342.36 526.50,342.35 526.75,342.34 527.00,342.33 527.25,342.32 527.50,342.29 527.75,342.23 528.00,342.17 528.25,342.15 528.50,342.15 528.75,342.17 529.00,342.18 529.25,342.18 529.50,342.22 529.75,342.31 530.00,342.39 530.25,342.40 530.50,342.34 530.75,342.23 531.00,342.14 531.25,342.10 531.50,342.05 531.75,341.98 532.00,341.92 532.25,341.91 532.50,342.05 532.75,342.30 533.00,342.53 533.25,342.60 533.50,342.51 533.75,342.35 534.00,342.21 534.25,342.18 534.50,342.31 534.75,342.53 535.00,342.73 535.25,342.80 535.50,342.74 535.75,342.64 536.00,342.54 536.25,342.51 536.50,342.47 536.75,342.41 537.00,342.34 537.25,342.33 537.50,342.41 537.75,342.57 538.00,342.70 538.25,342.75 538.50,342.75 538.75,342.75 539.00,342.76 539.25,342.76 539.50,342.65 539.75,342.47 540.00,342.31 540.25,342.26 540.50,342.23 540.75,342.17 541.00,342.12 541.25,342.11 541.50,342.22 541.75,342.39 542.00,342.55 542.25,342.61 542.50,342.65 542.75,342.72 543.00,342.78 543.25,342.80 543.50,342.75 543.75,342.68 544.00,342.60 544.25,342.58 544.50,342.60 544.75,342.65 545.00,342.69 545.25,342.69 545.50,342.61 545.75,342.47 546.00,342.35 546.25,342.31 546.50,342.34 546.75,342.40 547.00,342.45 547.25,342.46 547.50,342.39 547.75,342.28 548.00,342.17 548.25,342.15 548.50,342.18 548.75,342.23 549.00,342.28 549.25,342.30 549.50,342.30 549.75,342.30 550.00,342.30 550.25,342.31 550.50,342.31 550.75,342.32 551.00,342.32 551.25,342.32 551.50,342.32 551.75,342.32 552.00,342.31 552.25,342.30 552.50,342.36 552.75,342.48 553.00,342.58 553.25,342.59 553.50,342.45 553.75,342.23 554.00,342.03 554.25,341.95 554.50,341.94 554.75,341.94 555.00,341.94 555.25,341.94 555.50,341.94 555.75,341.96 556.00,341.98 556.25,342.00 556.50,342.14 556.75,342.39 557.00,342.62 557.25,342.71 557.50,342.65 557.75,342.53 558.00,342.43 558.25,342.41 558.50,342.35 558.75,342.23 559.00,342.12 559.25,342.10 559.50,342.27 559.75,342.54 560.00,342.78 560.25,342.87 560.50,342.88 560.75,342.90 561.00,342.91 561.25,342.91 561.50,342.89 561.75,342.87 562.00,342.84 562.25,342.82 562.50,342.72 562.75,342.56 563.00,342.41 563.25,342.36 563.50,342.42 563.75,342.53 564.00,342.63"/>
<polyline fill="none" stroke="#3c98ec" stroke-width="1.2" stroke-linejoin="round" points="310.00,380.79 310.25,380.86 310.50,380.89 310.75,380.92 311.00,380.95 311.25,380.98 311.50,381.04 311.75,381.11 312.00,381.18 312.25,381.21 312.50,381.09 312.75,380.88 313.00,380.69 313.25,380.62 313.50,380.62 313.75,380.62 314.00,380.61 314.25,380.59 314.50,380.55 314.75,380.50 315.00,380.46 315.25,380.43 315.50,380.42 315.75,380.43 316.00,380.44 316.25,380.44 316.50,380.53 316.75,380.69 317.00,380.84 317.25,380.89 317.50,380.79 317.75,380.60 318.00,380.44 318.25,380.40 318.50,380.50 318.75,380.64 319.00,380.77 319.25,380.82 319.50,380.78 319.75,380.69 320.00,380.60 320.25,380.58 320.50,380.60 320.75,380.62 321.00,380.65 321.25,380.65 321.50,380.67 321.75,380.71 322.00,380.74 322.25,380.75 322.50,380.83 322.75,380.95 323.00,381.07 323.25,381.11 323.50,381.07 323.75,381.00 324.00,380.94 324.25,380.93 324.50,380.83 324.75,380.65 325.00,380.50 325.25,380.46 325.50,380.52 325.75,380.62 326.00,380.71 326.25,380.74 326.50,380.72 326.75,380.69 327.00,380.65 327.25,380.64 327.50,380.77 327.75,380.99 328.00,381.18 328.25,381.23 328.50,381.20 328.75,381.16 329.00,381.12 329.25,381.09 329.50,381.07 329.75,381.05 330.00,381.03 330.25,381.01 330.50,381.01 330.75,381.01 331.00,381.01 331.25,381.01 331.50,381.00 331.75,380.98 332.00,380.97 332.25,380.98 332.50,381.04 332.75,381.12 333.00,381.20 333.25,381.24 333.50,381.23 333.75,381.20 334.00,381.17 334.25,381.17 334.50,381.08 334.75,380.91 335.00,380.76 335.25,380.71 335.50,380.81 335.75,381.00 336.00,381.15 336.25,381.19 336.50,381.11 336.75,380.97 337.00,380.84 337.25,380.79 337.50,380.82 337.75,380.89 338.00,380.95 338.25,380.96 338.50,380.91 338.75,380.84 339.00,380.78 339.25,380.75 339.50,380.73 339.75,380.69 340.00,380.65 340.25,380.64 340.50,380.64 340.75,380.63 341.00,380.61 341.25,380.62 341.50,380.64 341.75,380.67 342.00,380.69 342.25,380.70 342.50,380.68 342.75,380.64 343.00,380.61 343.25,380.59 343.50,380.55 343.75,380.48 344.00,380.42 344.25,380.40 344.50,380.53 344.75,380.75 345.00,380.95 345.25,381.02 345.50,381.01 345.75,381.01 346.00,381.00 346.25,381.01 346.50,381.05 346.75,381.11 347.00,381.18 347.25,381.20 347.50,381.15 347.75,381.07 348.00,380.99 348.25,380.97 348.50,380.95 348.75,380.91 349.00,380.87 349.25,380.86 349.50,380.90 349.75,380.96 350.00,381.01 350.25,381.01 350.50,380.89 350.75,380.68 351.00,380.50 351.25,380.43 351.50,380.53 351.75,380.70 352.00,380.85 352.25,380.89 352.50,380.85 352.75,380.77 353.00,380.71 353.25,380.69 353.50,380.65 353.75,380.58 354.00,380.52 354.25,380.51 354.50,380.53 354.75,380.55 355.00,380.57 355.25,380.59 355.50,380.66 355.75,380.78 356.00,380.88 356.25,380.91 356.50,380.87 356.75,380.78 357.00,380.70 357.25,380.67 357.50,380.70 357.75,380.76 358.00,380.81 358.25,380.82 358.50,380.84 358.75,380.87 359.00,380.91 359.25,380.91 359.50,380.86 359.75,380.79 360.00,380.73 360.25,380.71 360.50,380.67 360.75,380.59 361.00,380.52 361.25,380.51 361.50,380.59 361.75,380.72 362.00,380.84 362.25,380.88 362.50,380.84 362.75,380.77 363.00,380.70 363.25,380.68 363.50,380.68 363.75,380.68 364.00,380.67 364.25,380.66 364.50,380.64 364.75,380.61 365.00,380.57 365.25,380.55 365.50,380.56 365.75,380.60 366.00,380.62 366.25,380.62 366.50,380.55 366.75,380.44 367.00,380.35 367.25,380.32 367.50,380.44 367.75,380.63 368.00,380.81 368.25,380.88 368.50,380.96 368.75,381.08 369.00,381.19 369.25,381.24 369.50,381.16 369.75,381.00 370.00,380.86 370.25,380.82 370.50,380.89 370.75,381.01 371.00,381.10 371.25,381.12 371.50,381.14 371.75,381.18 372.00,381.20 372.25,381.17 372.50,380.95 372.75,380.60 373.00,380.27 373.25,380.11 373.50,380.05 373.75,379.99 374.00,379.88 374.25,379.51 374.50,378.20 374.75,374.38 375.00,367.34 375.25,360.46 375.50,359.58 375.75,365.52 376.00,372.92 376.25,377.44 376.50,379.01 376.75,379.24 377.00,379.07 377.25,378.54 377.50,376.79 377.75,372.73 378.00,367.00 378.25,363.29 378.50,364.89 378.75,370.15 379.00,374.86 379.25,377.16 379.50,377.89 379.75,378.04 380.00,377.58 380.25,375.22 380.50,368.82 380.75,358.47 381.00,350.16 381.25,351.27 381.50,360.74 381.75,370.62 382.00,376.12 382.25,378.05 382.50,378.45 382.75,378.42 383.00,378.25 383.25,377.64 383.50,375.65 383.75,371.46 384.00,366.72 384.25,365.35 384.50,368.87 384.75,374.19 385.00,377.88 385.25,379.48 385.50,380.07 385.75,380.38 386.00,380.58 386.25,380.57 386.50,380.03 386.75,378.65 387.00,376.71 387.25,375.52 387.50,376.26 387.75,378.30 388.00,380.12 388.25,380.97 388.50,381.14 388.75,381.05 389.00,380.92 389.25,380.86 389.50,380.86 389.75,380.87 390.00,380.88 390.25,380.87 390.50,380.77 390.75,380.60 391.00,380.45 391.25,380.41 391.50,380.51 391.75,380.66 392.00,380.81 392.25,380.88 392.50,380.91 392.75,380.94 393.00,380.97 393.25,381.01 393.50,381.05 393.75,381.08 394.00,381.11 394.25,381.14 394.50,381.10 394.75,381.03 395.00,380.96 395.25,380.93 395.50,380.98 395.75,381.07 396.00,381.14 396.25,381.14 396.50,381.02 396.75,380.85 397.00,380.69 397.25,380.61 397.50,380.56 397.75,380.51 398.00,380.46 398.25,380.43 398.50,380.39 398.75,380.34 399.00,380.30 399.25,380.31 399.50,380.42 399.75,380.61 400.00,380.79 400.25,380.87 400.50,380.81 400.75,380.67 401.00,380.54 401.25,380.53 401.50,380.59 401.75,380.66 402.00,380.73 402.25,380.76 402.50,380.74 402.75,380.70 403.00,380.66 403.25,380.64 403.50,380.73 403.75,380.89 404.00,381.03 404.25,381.05 404.50,380.99 404.75,380.92 405.00,380.86 405.25,380.81 405.50,380.77 405.75,380.73 406.00,380.69 406.25,380.66 406.50,380.55 406.75,380.37 407.00,380.22 407.25,380.17 407.50,380.26 407.75,380.40 408.00,380.53 408.25,380.59 408.50,380.59 408.75,380.58 409.00,380.58 409.25,380.60 409.50,380.57 409.75,380.51 410.00,380.46 410.25,380.45 410.50,380.44 410.75,380.42 411.00,380.39 411.25,380.39 411.50,380.57 411.75,380.88 412.00,381.15 412.25,381.23 412.50,381.05 412.75,380.75 413.00,380.48 413.25,380.39 413.50,380.41 413.75,380.46 414.00,380.51 414.25,380.52 414.50,380.52 414.75,380.51 415.00,380.51 415.25,380.53 415.50,380.60 415.75,380.72 416.00,380.84 416.25,380.88 416.50,380.80 416.75,380.65 417.00,380.51 417.25,380.48 417.50,380.56 417.75,380.69 418.00,380.80 418.25,380.83 418.50,380.81 418.75,380.76 419.00,380.72 419.25,380.70 419.50,380.77 419.75,380.91 420.00,381.03 420.25,381.05 420.50,380.88 420.75,380.60 421.00,380.35 421.25,380.27 421.50,380.33 421.75,380.44 422.00,380.54 422.25,380.58 422.50,380.62 422.75,380.69 423.00,380.76 423.25,380.80 423.50,380.91 423.75,381.08 424.00,381.24 424.25,381.30 424.50,381.23 424.75,381.10 425.00,380.98 425.25,380.95 425.50,380.95 425.75,380.94 426.00,380.93 426.25,380.92 426.50,380.95 426.75,381.01 427.00,381.05 427.25,381.06 427.50,380.98 427.75,380.84 428.00,380.72 428.25,380.68 428.50,380.62 428.75,380.52 429.00,380.44 429.25,380.41 429.50,380.50 429.75,380.65 430.00,380.78 430.25,380.83 430.50,380.91 430.75,381.04 431.00,381.16 431.25,381.20 431.50,381.17 431.75,381.12 432.00,381.07 432.25,381.04 432.50,380.95 432.75,380.79 433.00,380.65 433.25,380.60 433.50,380.67 433.75,380.80 434.00,380.91 434.25,380.94 434.50,380.96 434.75,381.01 435.00,381.05 435.25,381.06 435.50,380.95 435.75,380.76 436.00,380.59 436.25,380.55 436.50,380.62 436.75,380.73 437.00,380.84 437.25,380.88 437.50,380.85 437.75,380.76 438.00,380.60 438.25,380.34 438.50,379.96 438.75,379.69 439.00,379.78 439.25,380.12 439.50,380.44 439.75,380.60 440.00,380.66 440.25,380.66 440.50,380.63 440.75,380.58 441.00,380.54 441.25,380.51 441.50,380.51 441.75,380.54 442.00,380.56 442.25,380.55 442.50,380.47 442.75,380.35 443.00,380.25 443.25,380.21 443.50,380.27 443.75,380.34 444.00,380.29 444.25,380.01 444.50,379.61 444.75,379.41 445.00,379.58 445.25,379.94 445.50,380.34 445.75,380.68 446.00,380.92 446.25,381.00 446.50,380.99 446.75,380.95 447.00,380.92 447.25,380.91 447.50,380.80 447.75,380.61 448.00,380.44 448.25,380.39 448.50,380.53 448.75,380.77 449.00,380.98 449.25,381.04 449.50,380.92 449.75,380.73 450.00,380.55 450.25,380.49 450.50,380.54 450.75,380.63 451.00,380.71 451.25,380.74 451.50,380.76 451.75,380.79 452.00,380.82 452.25,380.83 452.50,380.80 452.75,380.74 453.00,380.68 453.25,380.67 453.50,380.67 453.75,380.66 454.00,380.66 454.25,380.66 454.50,380.68 454.75,380.73 455.00,380.77 455.25,380.77 455.50,380.71 455.75,380.60 456.00,380.51 456.25,380.47 456.50,380.60 456.75,380.83 457.00,381.03 457.25,381.09 457.50,380.95 457.75,380.70 458.00,380.49 458.25,380.43 458.50,380.58 458.75,380.82 459.00,381.04 459.25,381.12 459.50,381.03 459.75,380.85 460.00,380.69 460.25,380.66 460.50,380.69 460.75,380.73 461.00,380.77 461.25,380.78 461.50,380.81 461.75,380.83 462.00,380.85 462.25,380.85 462.50,380.77 462.75,380.64 463.00,380.52 463.25,380.47 463.50,380.47 463.75,380.47 464.00,380.48 464.25,380.47 464.50,380.49 464.75,380.55 465.00,380.61 465.25,380.62 465.50,380.63 465.75,380.65 466.00,380.68 466.25,380.69 466.50,380.79 466.75,380.94 467.00,381.08 467.25,381.14 467.50,381.18 467.75,381.23 468.00,381.28 468.25,381.30 468.50,381.13 468.75,380.83 469.00,380.56 469.25,380.48 469.50,380.57 469.75,380.72 470.00,380.85 470.25,380.88 470.50,380.78 470.75,380.63 471.00,380.49 471.25,380.44 471.50,380.54 471.75,380.74 472.00,380.92 472.25,380.96 472.50,380.86 472.75,380.70 473.00,380.56 473.25,380.52 473.50,380.64 473.75,380.83 474.00,381.01 474.25,381.08 474.50,381.04 474.75,380.95 475.00,380.87 475.25,380.86 475.50,380.80 475.75,380.68 476.00,380.57 476.25,380.54 476.50,380.52 476.75,380.48 477.00,380.43 477.25,380.41 477.50,380.44 477.75,380.49 478.00,380.53 478.25,380.53 478.50,380.62 478.75,380.78 479.00,380.93 479.25,380.96 479.50,380.80 479.75,380.55 480.00,380.33 480.25,380.25 480.50,380.32 480.75,380.43 481.00,380.54 481.25,380.59 481.50,380.60 481.75,380.59 482.00,380.60 482.25,380.63 482.50,380.66 482.75,380.70 483.00,380.73 483.25,380.77 483.50,380.88 483.75,381.06 484.00,381.21 484.25,381.26 484.50,381.16 484.75,380.96 485.00,380.78 485.25,380.71 485.50,380.78 485.75,380.91 486.00,381.02 486.25,381.03 486.50,380.98 486.75,380.92 487.00,380.87 487.25,380.83 487.50,380.85 487.75,380.91 488.00,380.97 488.25,380.98 488.50,380.90 488.75,380.78 489.00,380.67 489.25,380.66 489.50,380.77 489.75,380.93 490.00,381.09 490.25,381.17 490.50,381.13 490.75,381.02 491.00,380.93 491.25,380.92 491.50,380.98 491.75,381.05 492.00,381.11 492.25,381.14 492.50,381.15 492.75,381.17 493.00,381.17 493.25,381.15 493.50,381.17 493.75,381.20 494.00,381.23 494.25,381.21 494.50,381.17 494.75,381.15 495.00,381.13 495.25,381.09 495.50,380.91 495.75,380.63 496.00,380.39 496.25,380.31 496.50,380.31 496.75,380.32 497.00,380.34 497.25,380.36 497.50,380.46 497.75,380.62 498.00,380.77 498.25,380.85 498.50,380.94 498.75,381.07 499.00,381.18 499.25,381.24 499.50,381.21 499.75,381.14 500.00,381.07 500.25,381.04 500.50,380.99 500.75,380.90 501.00,380.82 501.25,380.77 501.50,380.86 501.75,381.04 502.00,381.20 502.25,381.21 502.50,381.05 502.75,380.80 503.00,380.57 503.25,380.48 503.50,380.41 503.75,380.33 504.00,380.26 504.25,380.24 504.50,380.23 504.75,380.24 505.00,380.24 505.25,380.27 505.50,380.29 505.75,380.32 506.00,380.35 506.25,380.38 506.50,380.55 506.75,380.80 507.00,381.03 507.25,381.12 507.50,381.02 507.75,380.83 508.00,380.65 508.25,380.59 508.50,380.69 508.75,380.87 509.00,381.02 509.25,381.05 509.50,381.04 509.75,381.05 510.00,381.06 510.25,381.03 510.50,381.02 510.75,381.03 511.00,381.04 511.25,381.02 511.50,380.97 511.75,380.89 512.00,380.83 512.25,380.82 512.50,380.76 512.75,380.65 513.00,380.56 513.25,380.55 513.50,380.62 513.75,380.72 514.00,380.82 514.25,380.88 514.50,380.95 514.75,381.06 515.00,381.15 515.25,381.20 515.50,381.20 515.75,381.17 516.00,381.15 516.25,381.14 516.50,381.06 516.75,380.91 517.00,380.77 517.25,380.71 517.50,380.77 517.75,380.90 518.00,381.00 518.25,381.00 518.50,380.83 518.75,380.58 519.00,380.34 519.25,380.23 519.50,380.19 519.75,380.07 520.00,379.68 520.25,378.85 520.50,378.04 520.75,377.92 521.00,378.65 521.25,379.57 521.50,380.03 521.75,380.02 522.00,379.63 522.25,378.65 522.50,376.59 522.75,373.95 523.00,372.65 523.25,373.88 523.50,376.55 523.75,378.75 524.00,379.79 524.25,379.95 524.50,379.44 524.75,378.52 525.00,377.77 525.25,377.91 525.50,378.71 525.75,379.48 526.00,379.89 526.25,380.07 526.50,380.16 526.75,380.22 527.00,380.28 527.25,380.32 527.50,380.39 527.75,380.50 528.00,380.59 528.25,380.63 528.50,380.66 528.75,380.70 529.00,380.73 529.25,380.75 529.50,380.87 529.75,381.07 530.00,381.24 530.25,381.29 530.50,381.16 530.75,380.93 531.00,380.72 531.25,380.64 531.50,380.74 531.75,380.92 532.00,381.08 532.25,381.12 532.50,381.11 532.75,381.10 533.00,381.08 533.25,381.07 533.50,380.98 533.75,380.83 534.00,380.70 534.25,380.66 534.50,380.77 534.75,380.96 535.00,381.13 535.25,381.19 535.50,381.16 535.75,381.09 536.00,381.04 536.25,381.02 536.50,380.98 536.75,380.90 537.00,380.83 537.25,380.81 537.50,380.77 537.75,380.71 538.00,380.64 538.25,380.62 538.50,380.66 538.75,380.72 539.00,380.77 539.25,380.79 539.50,380.87 539.75,381.00 540.00,381.12 540.25,381.15 540.50,381.08 540.75,380.96 541.00,380.85 541.25,380.81 541.50,380.74 541.75,380.63 542.00,380.53 542.25,380.50 542.50,380.53 542.75,380.59 543.00,380.65 543.25,380.66 543.50,380.68 543.75,380.71 544.00,380.73 544.25,380.73 544.50,380.67 544.75,380.57 545.00,380.47 545.25,380.43 545.50,380.49 545.75,380.60 546.00,380.70 546.25,380.72 546.50,380.60 546.75,380.42 547.00,380.26 547.25,380.21 547.50,380.35 547.75,380.61 548.00,380.85 548.25,380.93 548.50,380.82 548.75,380.64 549.00,380.47 549.25,380.44 549.50,380.45 549.75,380.46 550.00,380.47 550.25,380.49 550.50,380.61 550.75,380.80 551.00,380.96 551.25,381.03 551.50,380.99 551.75,380.91 552.00,380.83 552.25,380.81 552.50,380.91 552.75,381.09 553.00,381.24 553.25,381.27 553.50,381.17 553.75,381.02 554.00,380.88 554.25,380.81 554.50,380.79 554.75,380.77 555.00,380.75 555.25,380.73 555.50,380.77 555.75,380.86 556.00,380.94 556.25,380.96 556.50,380.84 556.75,380.65 557.00,380.48 557.25,380.44 557.50,380.56 557.75,380.75 558.00,380.93 558.25,381.00 558.50,381.01 558.75,381.00 559.00,381.00 559.25,381.01 559.50,380.98 559.75,380.93 560.00,380.88 560.25,380.87 560.50,380.97 560.75,381.14 561.00,381.29 561.25,381.33 561.50,381.15 561.75,380.84 562.00,380.56 562.25,380.47 562.50,380.62 562.75,380.88 563.00,381.12 563.25,381.19 563.50,381.06 563.75,380.82 564.00,380.62"/>
<polyline fill="none" stroke="#111111" stroke-width="1.2" stroke-linejoin="round" points="310.00,420.20 310.25,420.23 310.50,420.19 310.75,420.14 311.00,420.10 311.25,420.07 311.50,420.09 311.75,420.16 312.00,420.22 312.25,420.23 312.50,420.09 312.75,419.86 313.00,419.66 313.25,419.59 313.50,419.59 313.75,419.59 314.00,419.59 314.25,419.60 314.50,419.70 314.75,419.86 315.00,420.01 315.25,420.07 315.50,420.08 315.75,420.07 316.00,420.07 316.25,420.08 316.50,420.03 316.75,419.93 317.00,419.85 317.25,419.84 317.50,419.93 317.75,420.07 318.00,420.20 318.25,420.25 318.50,420.22 318.75,420.14 319.00,420.07 319.25,420.06 319.50,420.14 319.75,420.27 320.00,420.39 320.25,420.43 320.50,420.30 320.75,420.09 321.00,419.90 321.25,419.83 321.50,419.84 321.75,419.86 322.00,419.88 322.25,419.88 322.50,419.99 322.75,420.19 323.00,420.36 323.25,420.40 323.50,420.28 323.75,420.09 324.00,419.91 324.25,419.84 324.50,419.81 324.75,419.76 325.00,419.72 325.25,419.71 325.50,419.81 325.75,419.98 326.00,420.13 326.25,420.19 326.50,420.16 326.75,420.10 327.00,420.06 327.25,420.04 327.50,419.96 327.75,419.81 328.00,419.67 328.25,419.64 328.50,419.71 328.75,419.85 329.00,419.96 329.25,420.00 329.50,420.02 329.75,420.05 330.00,420.08 330.25,420.08 330.50,419.98 330.75,419.82 331.00,419.67 331.25,419.62 331.50,419.71 331.75,419.87 332.00,420.01 332.25,420.06 332.50,419.96 332.75,419.80 333.00,419.65 333.25,419.62 333.50,419.67 333.75,419.75 334.00,419.83 334.25,419.86 334.50,419.83 334.75,419.77 335.00,419.71 335.25,419.70 335.50,419.73 335.75,419.78 336.00,419.83 336.25,419.85 336.50,420.00 336.75,420.25 337.00,420.47 337.25,420.54 337.50,420.42 337.75,420.23 338.00,420.06 338.25,420.00 338.50,420.10 338.75,420.28 339.00,420.44 339.25,420.48 339.50,420.37 339.75,420.18 340.00,420.01 340.25,419.95 340.50,419.97 340.75,420.02 341.00,420.06 341.25,420.08 341.50,420.12 341.75,420.20 342.00,420.28 342.25,420.30 342.50,420.26 342.75,420.20 343.00,420.14 343.25,420.12 343.50,420.00 343.75,419.82 344.00,419.65 344.25,419.60 344.50,419.69 344.75,419.84 345.00,419.98 345.25,420.03 345.50,420.05 345.75,420.07 346.00,420.08 346.25,420.09 346.50,420.02 346.75,419.88 347.00,419.76 347.25,419.73 347.50,419.72 347.75,419.70 348.00,419.69 348.25,419.69 348.50,419.84 348.75,420.10 349.00,420.33 349.25,420.40 349.50,420.33 349.75,420.21 350.00,420.10 350.25,420.06 350.50,419.99 350.75,419.88 351.00,419.77 351.25,419.73 351.50,419.77 351.75,419.84 352.00,419.90 352.25,419.92 352.50,419.87 352.75,419.78 353.00,419.71 353.25,419.69 353.50,419.80 353.75,419.99 354.00,420.16 354.25,420.22 354.50,420.17 354.75,420.08 355.00,420.01 355.25,419.99 355.50,419.92 355.75,419.80 356.00,419.69 356.25,419.67 356.50,419.81 356.75,420.04 357.00,420.25 357.25,420.31 357.50,420.17 357.75,419.93 358.00,419.72 358.25,419.64 358.50,419.67 358.75,419.72 359.00,419.77 359.25,419.77 359.50,419.72 359.75,419.63 360.00,419.55 360.25,419.53 360.50,419.66 360.75,419.88 361.00,420.09 361.25,420.15 361.50,420.04 361.75,419.84 362.00,419.66 362.25,419.61 362.50,419.69 362.75,419.82 363.00,419.94 363.25,419.98 363.50,419.89 363.75,419.74 364.00,419.60 364.25,419.55 364.50,419.60 364.75,419.69 365.00,419.77 365.25,419.76 365.50,419.71 365.75,419.52 366.00,418.85 366.25,417.45 366.50,415.85 366.75,415.27 367.00,416.18 367.25,417.68 367.50,418.70 367.75,419.06 368.00,419.10 368.25,419.04 368.50,418.89 368.75,418.42 369.00,417.41 369.25,416.13 369.50,415.50 369.75,416.12 370.00,417.40 370.25,418.42 370.50,418.93 370.75,419.15 371.00,419.23 371.25,419.11 371.50,418.49 371.75,417.21 372.00,415.82 372.25,415.43 372.50,416.43 372.75,417.96 373.00,419.05 373.25,419.51 373.50,419.61 373.75,419.60 374.00,419.57 374.25,419.58 374.50,419.66 374.75,419.56 375.00,418.67 375.25,416.55 375.50,414.13 375.75,413.41 376.00,415.11 376.25,417.69 376.50,419.31 376.75,419.76 377.00,419.70 377.25,419.64 377.50,419.59 377.75,419.29 378.00,418.44 378.25,417.05 378.50,416.02 378.75,416.33 379.00,417.75 379.25,419.11 379.50,419.79 379.75,419.98 380.00,419.96 380.25,419.83 380.50,419.18 380.75,417.44 381.00,414.46 381.25,411.70 381.50,411.52 381.75,414.13 382.00,417.31 382.25,419.21 382.50,419.95 382.75,420.20 383.00,420.27 383.25,420.11 383.50,419.36 383.75,417.87 384.00,416.23 384.25,415.73 384.50,416.76 384.75,418.34 385.00,419.42 385.25,419.88 385.50,420.05 385.75,420.16 386.00,420.23 386.25,420.26 386.50,420.33 386.75,420.45 387.00,420.55 387.25,420.57 387.50,420.43 387.75,420.20 388.00,419.99 388.25,419.91 388.50,419.89 388.75,419.89 389.00,419.88 389.25,419.86 389.50,419.81 389.75,419.75 390.00,419.70 390.25,419.67 390.50,419.73 390.75,419.85 391.00,419.96 391.25,419.98 391.50,419.94 391.75,419.87 392.00,419.82 392.25,419.79 392.50,419.74 392.75,419.67 393.00,419.61 393.25,419.60 393.50,419.63 393.75,419.68 394.00,419.73 394.25,419.76 394.50,419.71 394.75,419.62 395.00,419.54 395.25,419.53 395.50,419.61 395.75,419.72 396.00,419.82 396.25,419.87 396.50,420.02 396.75,420.25 397.00,420.45 397.25,420.51 397.50,420.43 397.75,420.29 398.00,420.16 398.25,420.09 398.50,419.99 398.75,419.84 399.00,419.69 399.25,419.60 399.50,419.64 399.75,419.77 400.00,419.86 400.25,419.82 400.50,419.62 400.75,419.33 401.00,419.06 401.25,418.91 401.50,418.80 401.75,418.68 402.00,418.58 402.25,418.51 402.50,418.42 402.75,418.32 403.00,418.25 403.25,418.23 403.50,418.27 403.75,418.34 404.00,418.42 404.25,418.49 404.50,418.58 404.75,418.68 405.00,418.78 405.25,418.88 405.50,418.98 405.75,419.09 406.00,419.19 406.25,419.28 406.50,419.49 406.75,419.77 407.00,420.03 407.25,420.14 407.50,420.08 407.75,419.93 408.00,419.79 408.25,419.75 408.50,419.77 408.75,419.78 409.00,419.78 409.25,419.78 409.50,419.84 409.75,419.95 410.00,420.04 410.25,420.06 410.50,420.11 410.75,420.20 411.00,420.27 411.25,420.28 411.50,420.15 411.75,419.94 412.00,419.75 412.25,419.69 412.50,419.77 412.75,419.92 413.00,420.06 413.25,420.10 413.50,420.03 413.75,419.91 414.00,419.81 414.25,419.79 414.50,419.84 414.75,419.93 415.00,420.01 415.25,420.05 415.50,420.08 415.75,420.12 416.00,420.16 416.25,420.19 416.50,420.28 416.75,420.42 417.00,420.55 417.25,420.60 417.50,420.58 417.75,420.54 418.00,420.49 418.25,420.48 418.50,420.43 418.75,420.34 419.00,420.26 419.25,420.22 419.50,420.25 419.75,420.33 420.00,420.39 420.25,420.38 420.50,420.25 420.75,420.05 421.00,419.87 421.25,419.78 421.50,419.74 421.75,419.70 422.00,419.67 422.25,419.64 422.50,419.71 422.75,419.87 423.00,420.02 423.25,420.06 423.50,419.97 423.75,419.84 424.00,419.73 424.25,419.70 424.50,419.77 424.75,419.87 425.00,419.97 425.25,420.02 425.50,419.98 425.75,419.88 426.00,419.79 426.25,419.80 426.50,419.96 426.75,420.20 427.00,420.42 427.25,420.51 427.50,420.49 427.75,420.43 428.00,420.37 428.25,420.37 428.50,420.32 428.75,420.22 429.00,420.12 429.25,420.10 429.50,420.23 429.75,420.45 430.00,420.64 430.25,420.69 430.50,420.58 430.75,420.41 431.00,420.25 431.25,420.18 431.50,420.13 431.75,420.06 432.00,419.99 432.25,419.94 432.50,419.89 432.75,419.82 433.00,419.75 433.25,419.70 433.50,419.61 433.75,419.48 434.00,419.35 434.25,419.23 434.50,419.12 434.75,419.00 435.00,418.86 435.25,418.70 435.50,418.61 435.75,418.59 436.00,418.59 436.25,418.52 436.50,418.36 436.75,418.18 437.00,418.07 437.25,418.12 437.50,418.23 437.75,418.03 438.00,416.64 438.25,412.88 438.50,407.35 438.75,403.86 439.00,405.78 439.25,411.44 439.50,416.49 439.75,419.05 440.00,419.90 440.25,420.08 440.50,420.02 440.75,419.61 441.00,418.36 441.25,415.93 441.50,413.29 441.75,412.57 442.00,414.50 442.25,417.35 442.50,419.18 442.75,419.79 443.00,419.82 443.25,419.73 443.50,419.35 443.75,417.70 444.00,413.23 444.25,405.95 444.50,400.09 444.75,400.86 445.00,407.52 445.25,414.45 445.50,418.22 445.75,419.42 446.00,419.62 446.25,419.58 446.50,419.27 446.75,418.10 447.00,415.45 447.25,412.04 447.50,410.36 447.75,412.01 448.00,415.42 448.25,418.11 448.50,419.42 448.75,419.95 449.00,420.17 449.25,420.19 449.50,419.91 449.75,419.23 450.00,418.17 450.25,417.27 450.50,417.26 450.75,418.17 451.00,419.24 451.25,419.85 451.50,419.97 451.75,419.87 452.00,419.74 452.25,419.70 452.50,419.75 452.75,419.81 453.00,419.71 453.25,419.39 453.50,419.10 453.75,419.14 454.00,419.47 454.25,419.81 454.50,419.95 454.75,419.91 455.00,419.84 455.25,419.83 455.50,419.94 455.75,420.13 456.00,420.30 456.25,420.36 456.50,420.32 456.75,420.24 457.00,420.17 457.25,420.15 457.50,420.15 457.75,420.13 458.00,420.11 458.25,420.11 458.50,420.03 458.75,419.88 459.00,419.74 459.25,419.71 459.50,419.79 459.75,419.91 460.00,420.02 460.25,420.06 460.50,420.04 460.75,419.99 461.00,419.95 461.25,419.93 461.50,419.96 461.75,420.01 462.00,420.06 462.25,420.06 462.50,420.13 462.75,420.26 463.00,420.37 463.25,420.39 463.50,420.36 463.75,420.31 464.00,420.27 464.25,420.24 464.50,420.07 464.75,419.79 465.00,419.54 465.25,419.46 465.50,419.57 465.75,419.76 466.00,419.94 466.25,420.00 466.50,420.05 466.75,420.13 467.00,420.21 467.25,420.24 467.50,420.18 467.75,420.06 468.00,419.96 468.25,419.93 468.50,419.85 468.75,419.72 469.00,419.60 469.25,419.58 469.50,419.73 469.75,419.99 470.00,420.22 470.25,420.30 470.50,420.22 470.75,420.09 471.00,419.97 471.25,419.95 471.50,420.06 471.75,420.25 472.00,420.42 472.25,420.49 472.50,420.48 472.75,420.46 473.00,420.45 473.25,420.45 473.50,420.46 473.75,420.46 474.00,420.45 474.25,420.46 474.50,420.49 474.75,420.53 475.00,420.56 475.25,420.57 475.50,420.40 475.75,420.12 476.00,419.86 476.25,419.77 476.50,419.90 476.75,420.12 477.00,420.31 477.25,420.35 477.50,420.24 477.75,420.06 478.00,419.90 478.25,419.83 478.50,419.77 478.75,419.70 479.00,419.63 479.25,419.59 479.50,419.62 479.75,419.69 480.00,419.74 480.25,419.76 480.50,419.79 480.75,419.85 481.00,419.91 481.25,419.92 481.50,419.81 481.75,419.63 482.00,419.46 482.25,419.42 482.50,419.51 482.75,419.66 483.00,419.79 483.25,419.85 483.50,419.92 483.75,420.04 484.00,420.15 484.25,420.19 484.50,420.15 484.75,420.07 485.00,420.00 485.25,419.99 485.50,420.01 485.75,420.04 486.00,420.06 486.25,420.08 486.50,420.05 486.75,419.99 487.00,419.94 487.25,419.94 487.50,420.07 487.75,420.30 488.00,420.50 488.25,420.56 488.50,420.43 488.75,420.19 489.00,419.98 489.25,419.90 489.50,419.97 489.75,420.10 490.00,420.21 490.25,420.23 490.50,420.20 490.75,420.17 491.00,420.13 491.25,420.10 491.50,419.96 491.75,419.73 492.00,419.53 492.25,419.46 492.50,419.63 492.75,419.95 493.00,420.23 493.25,420.31 493.50,420.17 493.75,419.93 494.00,419.71 494.25,419.66 494.50,419.81 494.75,420.07 495.00,420.30 495.25,420.39 495.50,420.40 495.75,420.39 496.00,420.39 496.25,420.40 496.50,420.41 496.75,420.41 497.00,420.42 497.25,420.42 497.50,420.42 497.75,420.40 498.00,420.39 498.25,420.38 498.50,420.29 498.75,420.14 499.00,420.00 499.25,419.95 499.50,419.96 499.75,419.97 500.00,419.97 500.25,419.97 500.50,419.95 500.75,419.91 501.00,419.88 501.25,419.87 501.50,419.98 501.75,420.17 502.00,420.33 502.25,420.36 502.50,420.03 502.75,418.93 503.00,416.06 503.25,410.72 503.50,404.87 503.75,403.07 504.00,407.07 504.25,413.21 504.50,417.59 504.75,419.58 505.00,420.27 505.25,420.40 505.50,420.21 505.75,419.42 506.00,417.16 506.25,413.14 506.50,409.29 506.75,408.82 507.00,412.18 507.25,416.39 507.50,419.03 507.75,420.08 508.00,420.38 508.25,420.35 508.50,419.73 508.75,417.33 509.00,411.12 509.25,401.21 509.50,393.33 509.75,394.45 510.00,403.51 510.25,412.90 510.50,417.99 510.75,419.60 511.00,419.85 511.25,419.79 511.50,419.49 511.75,418.16 512.00,414.71 512.25,409.58 512.50,406.07 512.75,407.34 513.00,412.05 513.25,416.42 513.50,418.70 513.75,419.51 514.00,419.76 514.25,419.79 514.50,419.65 514.75,419.03 515.00,417.58 515.25,415.69 515.50,414.81 515.75,415.85 516.00,417.87 516.25,419.42 516.50,420.06 516.75,420.15 517.00,420.09 517.25,420.07 517.50,420.08 517.75,420.00 518.00,419.71 518.25,419.26 518.50,419.08 518.75,419.40 519.00,419.94 519.25,420.32 519.50,420.37 519.75,420.22 520.00,420.04 520.25,419.93 520.50,419.73 520.75,419.28 521.00,418.69 521.25,418.32 521.50,418.43 521.75,418.85 522.00,419.23 522.25,419.43 522.50,419.65 522.75,419.93 523.00,420.16 523.25,420.18 523.50,419.92 523.75,419.42 524.00,418.90 524.25,418.74 524.50,419.01 524.75,419.43 525.00,419.72 525.25,419.85 525.50,419.91 525.75,419.97 526.00,420.01 526.25,420.03 526.50,419.96 526.75,419.84 527.00,419.73 527.25,419.70 527.50,419.72 527.75,419.76 528.00,419.79 528.25,419.80 528.50,419.81 528.75,419.81 529.00,419.81 529.25,419.81 529.50,419.81 529.75,419.81 530.00,419.80 530.25,419.80 530.50,419.90 530.75,420.09 531.00,420.25 531.25,420.28 531.50,420.15 531.75,419.94 532.00,419.75 532.25,419.68 532.50,419.63 532.75,419.57 533.00,419.52 533.25,419.50 533.50,419.64 533.75,419.89 534.00,420.12 534.25,420.19 534.50,420.14 534.75,420.05 535.00,419.98 535.25,419.97 535.50,419.89 535.75,419.74 536.00,419.61 536.25,419.59 536.50,419.74 536.75,419.97 537.00,420.18 537.25,420.27 537.50,420.29 537.75,420.31 538.00,420.33 538.25,420.33 538.50,420.33 538.75,420.32 539.00,420.30 539.25,420.29 539.50,420.30 539.75,420.32 540.00,420.33 540.25,420.30 540.50,420.20 540.75,420.04 541.00,419.89 541.25,419.80 541.50,419.70 541.75,419.57 542.00,419.44 542.25,419.35 542.50,419.37 542.75,419.45 543.00,419.52 543.25,419.49 543.50,419.39 543.75,419.28 544.00,419.18 544.25,419.11 544.50,419.09 544.75,419.09 545.00,419.10 545.25,419.11 545.50,419.03 545.75,418.90 546.00,418.80 546.25,418.82 546.50,418.93 546.75,419.07 547.00,419.21 547.25,419.31 547.50,419.46 547.75,419.64 548.00,419.81 548.25,419.91 548.50,419.91 548.75,419.87 549.00,419.83 549.25,419.84 549.50,419.91 549.75,420.01 550.00,420.09 550.25,420.12 550.50,420.11 550.75,420.07 551.00,420.04 551.25,420.03 551.50,420.08 551.75,420.16 552.00,420.23 552.25,420.25 552.50,420.16 552.75,420.02 553.00,419.89 553.25,419.84 553.50,419.86 553.75,419.90 554.00,419.93 554.25,419.94 554.50,419.99 554.75,420.09 555.00,420.19 555.25,420.21 555.50,420.12 555.75,419.96 556.00,419.81 556.25,419.77 556.50,419.75 556.75,419.72 557.00,419.69 557.25,419.70 557.50,419.79 557.75,419.95 558.00,420.10 558.25,420.15 558.50,420.06 558.75,419.90 559.00,419.76 559.25,419.72 559.50,419.85 559.75,420.08 560.00,420.28 560.25,420.33 560.50,420.21 560.75,420.01 561.00,419.83 561.25,419.77 561.50,419.87 561.75,420.06 562.00,420.23 562.25,420.28 562.50,420.21 562.75,420.08 563.00,419.97 563.25,419.94 563.50,419.87 563.75,419.76 564.00,419.66"/>
<text x="543.0" y="274.2" text-anchor="middle" font-family='"Liberation Sans", Arial, sans-serif' font-weight="bold" font-size="6.3" fill="#2ad42a" stroke="#2ad42a" stroke-width="0.3">Toluene/MeOH</text>
<text x="543.2" y="286.2" text-anchor="middle" font-family='"Liberation Sans", Arial, sans-serif' font-weight="bold" font-size="6.3" fill="#2ad42a" stroke="#2ad42a" stroke-width="0.3">3/2</text>
<text x="542.3" y="318.8" text-anchor="middle" font-family='"Liberation Sans", Arial, sans-serif' font-weight="bold" font-size="6.3" fill="#f26b2e" stroke="#f26b2e" stroke-width="0.3">MeCN/MeOH</text>
<text x="543.0" y="331.3" text-anchor="middle" font-family='"Liberation Sans", Arial, sans-serif' font-weight="bold" font-size="6.3" fill="#f26b2e" stroke="#f26b2e" stroke-width="0.3">3/1</text>
<text x="542.8" y="360.4" text-anchor="middle" font-family='"Liberation Sans", Arial, sans-serif' font-weight="bold" font-size="6.3" fill="#3c98ec" stroke="#3c98ec" stroke-width="0.3">DCM/MeOH</text>
<text x="542.6" y="372.3" text-anchor="middle" font-family='"Liberation Sans", Arial, sans-serif' font-weight="bold" font-size="6.3" fill="#3c98ec" stroke="#3c98ec" stroke-width="0.3">3/1</text>
<text x="543.2" y="401.4" text-anchor="middle" font-family='"Liberation Sans", Arial, sans-serif' font-weight="bold" font-size="6.3" fill="#111" stroke="#111" stroke-width="0.3">THF/MeOH</text>
<text x="542.6" y="413.3" text-anchor="middle" font-family='"Liberation Sans", Arial, sans-serif' font-weight="bold" font-size="6.3" fill="#111" stroke="#111" stroke-width="0.3">3/2</text>
<line x1="84.4" y1="69.6" x2="84.4" y2="150.5" stroke="#6f8590" stroke-width="1.0" stroke-dasharray="1.45,1.4"/>
<line x1="90.4" y1="58.0" x2="90.4" y2="144.8" stroke="#6f8590" stroke-width="1.0" stroke-dasharray="1.45,1.4"/>
<line x1="148.2" y1="33.0" x2="148.2" y2="111.7" stroke="#6f8590" stroke-width="1.0" stroke-dasharray="1.45,1.4"/>
<line x1="153.6" y1="27.2" x2="153.6" y2="87.5" stroke="#6f8590" stroke-width="1.0" stroke-dasharray="1.45,1.4"/>
<line x1="212.8" y1="44.3" x2="212.8" y2="103.5" stroke="#6f8590" stroke-width="1.0" stroke-dasharray="1.45,1.4"/>
<line x1="219.0" y1="35.3" x2="219.0" y2="52.2" stroke="#6f8590" stroke-width="1.0" stroke-dasharray="1.45,1.4"/>
<line x1="375.4" y1="45.2" x2="375.4" y2="185" stroke="#6f8590" stroke-width="1.0" stroke-dasharray="1.45,1.4"/>
<line x1="381.2" y1="37.8" x2="381.2" y2="184" stroke="#6f8590" stroke-width="1.0" stroke-dasharray="1.45,1.4"/>
<line x1="438.6" y1="37.0" x2="438.6" y2="170" stroke="#6f8590" stroke-width="1.0" stroke-dasharray="1.45,1.4"/>
<line x1="444.4" y1="32.2" x2="444.4" y2="163" stroke="#6f8590" stroke-width="1.0" stroke-dasharray="1.45,1.4"/>
<line x1="503.5" y1="38.0" x2="503.5" y2="169" stroke="#6f8590" stroke-width="1.0" stroke-dasharray="1.45,1.4"/>
<line x1="509.4" y1="29.6" x2="509.4" y2="159" stroke="#6f8590" stroke-width="1.0" stroke-dasharray="1.45,1.4"/>
<line x1="84.8" y1="269.2" x2="84.8" y2="416" stroke="#6f8590" stroke-width="1.0" stroke-dasharray="1.45,1.4"/>
<line x1="90.3" y1="263.2" x2="90.3" y2="415" stroke="#6f8590" stroke-width="1.0" stroke-dasharray="1.45,1.4"/>
<line x1="148.3" y1="267.8" x2="148.3" y2="404" stroke="#6f8590" stroke-width="1.0" stroke-dasharray="1.45,1.4"/>
<line x1="154.2" y1="264.1" x2="154.2" y2="400" stroke="#6f8590" stroke-width="1.0" stroke-dasharray="1.45,1.4"/>
<line x1="213.4" y1="264.1" x2="213.4" y2="405" stroke="#6f8590" stroke-width="1.0" stroke-dasharray="1.45,1.4"/>
<line x1="219.2" y1="254.6" x2="219.2" y2="396" stroke="#6f8590" stroke-width="1.0" stroke-dasharray="1.45,1.4"/>
<line x1="375.0" y1="272.4" x2="375.0" y2="413" stroke="#6f8590" stroke-width="1.0" stroke-dasharray="1.45,1.4"/>
<line x1="381.1" y1="261.4" x2="381.1" y2="411.5" stroke="#6f8590" stroke-width="1.0" stroke-dasharray="1.45,1.4"/>
<line x1="438.4" y1="264.2" x2="438.4" y2="404" stroke="#6f8590" stroke-width="1.0" stroke-dasharray="1.45,1.4"/>
<line x1="444.6" y1="258.1" x2="444.6" y2="399" stroke="#6f8590" stroke-width="1.0" stroke-dasharray="1.45,1.4"/>
<line x1="504.0" y1="261.9" x2="504.0" y2="403" stroke="#6f8590" stroke-width="1.0" stroke-dasharray="1.45,1.4"/>
<line x1="509.6" y1="252.6" x2="509.6" y2="392" stroke="#6f8590" stroke-width="1.0" stroke-dasharray="1.45,1.4"/></svg>
</body></html>
